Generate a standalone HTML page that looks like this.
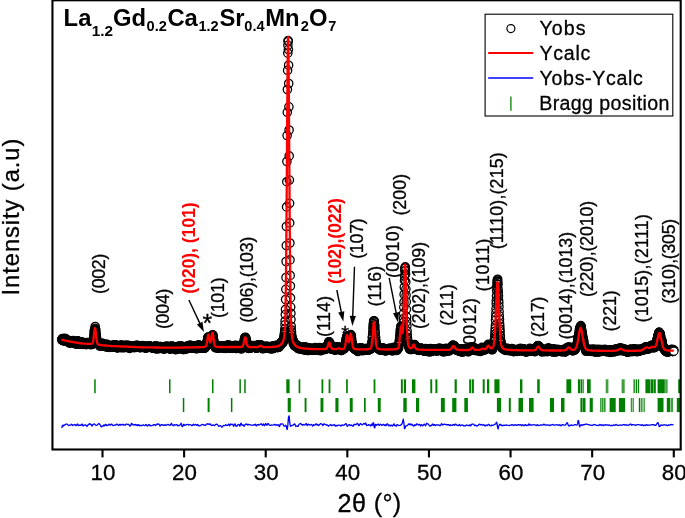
<!DOCTYPE html>
<html lang="en">
<head>
<meta charset="utf-8">
<title>XRD Rietveld refinement</title>
<style>
html,body{margin:0;padding:0;background:#fff;}
body{width:685px;height:518px;overflow:hidden;}
svg{display:block;}
text{font-family:"Liberation Sans",sans-serif;fill:#000;stroke:#000;stroke-width:0.3px;}
.nb{stroke:none;}
.pk text{font-size:17.8px;}
.pk text.r{fill:#f00;font-weight:bold;stroke:none;}
.xt text{font-size:22.3px;text-anchor:middle;letter-spacing:0.1px;}
.lg text{font-size:19.6px;}
</style>
</head>
<body>
<svg width="685" height="518" viewBox="0 0 685 518">
<defs>
<marker id="c" markerWidth="12" markerHeight="12" refX="6" refY="6" markerUnits="userSpaceOnUse" overflow="visible"><circle cx="6" cy="6" r="4.15" fill="none" stroke="#000" stroke-width="1.3"/></marker>
</defs>
<rect x="0" y="0" width="685" height="518" fill="#fff"/>
<!-- observed data -->
<polyline fill="none" stroke="none" marker-start="url(#c)" marker-mid="url(#c)" marker-end="url(#c)" points="61.7,339.6 61.9,339.8 62.0,340.0 62.2,339.1 62.3,338.8 62.5,338.5 62.7,340.0 62.8,339.4 63.0,340.4 63.2,340.5 63.3,339.5 63.5,340.8 63.7,340.7 63.8,340.7 64.0,339.4 64.1,339.6 64.3,339.3 64.5,339.1 64.6,338.2 64.8,339.2 65.0,338.9 65.1,339.6 65.3,339.6 65.4,340.9 65.6,339.8 65.8,338.7 65.9,339.6 66.1,339.9 66.3,340.0 66.4,340.1 66.6,340.0 66.8,339.6 66.9,340.5 67.1,340.3 67.2,340.3 67.4,340.8 67.6,341.5 67.7,340.7 67.9,340.5 68.1,341.6 68.2,340.5 68.4,341.1 68.6,341.6 68.7,341.5 68.9,341.7 69.0,341.4 69.2,341.4 69.4,341.1 69.5,343.1 69.7,342.0 69.9,342.5 70.0,342.0 70.2,340.7 70.3,342.3 70.5,342.0 70.7,342.2 70.8,342.4 71.0,342.6 71.2,342.5 71.3,341.4 71.5,342.5 71.7,341.1 71.8,341.2 72.0,342.1 72.1,342.1 72.3,341.9 72.5,341.2 72.6,342.0 72.8,342.5 73.0,341.5 73.1,340.5 73.3,341.1 73.4,341.4 73.6,342.1 73.8,342.9 73.9,343.0 74.1,342.2 74.3,342.7 74.4,342.6 74.6,342.2 74.8,342.6 74.9,343.6 75.1,342.4 75.2,342.5 75.4,342.0 75.6,342.1 75.7,341.6 75.9,342.6 76.1,343.5 76.2,344.1 76.4,343.8 76.5,343.5 76.7,343.1 76.9,343.0 77.0,342.7 77.2,343.3 77.4,341.9 77.5,342.2 77.7,341.1 77.9,340.9 78.0,341.2 78.2,342.0 78.3,342.4 78.5,343.5 78.7,343.3 78.8,343.6 79.0,343.4 79.2,343.6 79.3,343.2 79.5,344.1 79.6,343.3 79.8,343.2 80.0,343.5 80.1,342.2 80.3,342.5 80.5,342.8 80.6,343.4 80.8,343.0 81.0,343.4 81.1,343.8 81.3,344.1 81.4,343.1 81.6,343.0 81.8,342.3 81.9,342.0 82.1,342.5 82.3,342.3 82.4,342.7 82.6,343.4 82.8,343.3 82.9,342.8 83.1,343.6 83.2,344.3 83.4,344.1 83.6,344.4 83.7,343.6 83.9,343.9 84.1,343.3 84.2,343.4 84.4,344.2 84.5,343.0 84.7,344.1 84.9,343.0 85.0,342.7 85.2,343.7 85.4,343.6 85.5,343.9 85.7,343.2 85.9,344.3 86.0,343.2 86.2,344.7 86.3,343.3 86.5,343.4 86.7,342.9 86.8,342.9 87.0,342.5 87.2,343.9 87.3,343.3 87.5,343.5 87.6,343.4 87.8,344.1 88.0,344.1 88.1,343.2 88.3,342.9 88.5,343.4 88.6,342.6 88.8,343.2 89.0,343.9 89.1,343.1 89.3,344.4 89.4,343.4 89.6,344.4 89.8,344.0 89.9,343.1 90.1,343.4 90.3,343.1 90.4,343.7 90.6,344.4 90.7,343.4 90.9,344.0 91.1,343.3 91.2,343.3 91.4,342.9 91.6,344.7 91.7,344.1 91.9,344.1 92.1,343.8 92.2,344.3 92.4,342.4 92.5,343.0 92.7,343.6 92.9,341.9 93.0,341.7 93.2,341.6 93.4,339.8 93.5,338.9 93.7,338.0 93.8,336.4 94.0,334.3 94.2,332.5 94.3,330.9 94.5,330.3 94.7,329.5 94.8,329.3 95.0,328.3 95.2,326.5 95.3,329.1 95.5,329.5 95.6,329.5 95.8,330.9 96.0,333.1 96.1,334.6 96.3,336.0 96.5,337.5 96.6,338.7 96.8,340.7 97.0,341.4 97.1,341.7 97.3,341.8 97.4,343.1 97.6,342.7 97.8,342.9 97.9,342.9 98.1,343.6 98.3,344.2 98.4,343.9 98.6,344.3 98.7,344.0 98.9,343.9 99.1,344.2 99.2,344.4 99.4,344.2 99.6,345.2 99.7,346.1 99.9,345.0 100.1,345.2 100.2,345.8 100.4,344.4 100.5,344.3 100.7,344.1 100.9,345.0 101.0,345.2 101.2,345.7 101.4,345.6 101.5,345.8 101.7,344.3 101.8,344.7 102.0,343.9 102.2,343.2 102.3,343.3 102.5,344.4 102.7,343.7 102.8,345.0 103.0,344.8 103.2,345.0 103.3,345.1 103.5,344.5 103.6,345.5 103.8,345.9 104.0,345.6 104.1,346.1 104.3,345.7 104.5,345.6 104.6,345.1 104.8,345.4 104.9,345.2 105.1,345.0 105.3,345.4 105.4,345.4 105.6,344.4 105.8,344.6 105.9,345.9 106.1,346.2 106.3,346.4 106.4,347.1 106.6,346.1 106.7,345.5 106.9,345.4 107.1,344.8 107.2,344.4 107.4,345.2 107.6,345.5 107.7,345.8 107.9,345.8 108.0,346.0 108.2,346.8 108.4,346.5 108.5,346.2 108.7,345.6 108.9,345.7 109.0,345.3 109.2,346.4 109.4,346.7 109.5,346.9 109.7,346.4 109.8,347.4 110.0,345.7 110.2,345.8 110.3,346.4 110.5,345.9 110.7,346.5 110.8,347.2 111.0,346.6 111.2,346.5 111.3,346.5 111.5,346.3 111.6,346.7 111.8,346.1 112.0,345.6 112.1,345.9 112.3,346.2 112.5,346.0 112.6,346.4 112.8,345.2 112.9,346.0 113.1,346.6 113.3,346.0 113.4,345.5 113.6,345.1 113.8,346.2 113.9,346.0 114.1,347.0 114.3,346.0 114.4,346.9 114.6,347.0 114.7,344.8 114.9,346.1 115.1,346.3 115.2,345.9 115.4,346.2 115.6,346.4 115.7,346.9 115.9,344.9 116.0,345.9 116.2,346.7 116.4,346.1 116.5,346.3 116.7,346.7 116.9,346.6 117.0,347.2 117.2,347.8 117.4,347.7 117.5,347.9 117.7,346.7 117.8,346.5 118.0,346.8 118.2,345.8 118.3,345.9 118.5,346.3 118.7,346.1 118.8,346.4 119.0,345.6 119.1,346.9 119.3,347.1 119.5,346.8 119.6,346.2 119.8,346.8 120.0,346.8 120.1,346.0 120.3,347.2 120.5,347.5 120.6,347.3 120.8,347.5 120.9,347.3 121.1,345.4 121.3,345.3 121.4,345.1 121.6,346.3 121.8,345.6 121.9,346.4 122.1,346.5 122.2,346.3 122.4,345.8 122.6,345.9 122.7,347.8 122.9,346.9 123.1,347.4 123.2,346.8 123.4,346.3 123.6,346.5 123.7,346.1 123.9,346.5 124.0,345.5 124.2,346.9 124.4,347.0 124.5,346.9 124.7,347.4 124.9,347.3 125.0,347.5 125.2,345.5 125.4,346.2 125.5,345.4 125.7,346.5 125.8,345.8 126.0,346.3 126.2,346.6 126.3,347.0 126.5,346.7 126.7,346.2 126.8,346.4 127.0,345.4 127.1,346.9 127.3,347.5 127.5,346.5 127.6,346.9 127.8,345.8 128.0,345.7 128.1,345.4 128.3,346.5 128.5,347.1 128.6,347.2 128.8,347.0 128.9,347.8 129.1,346.6 129.3,346.7 129.4,346.4 129.6,348.4 129.8,346.3 129.9,347.6 130.1,347.3 130.2,346.8 130.4,346.1 130.6,346.3 130.7,346.9 130.9,347.6 131.1,346.5 131.2,346.9 131.4,346.8 131.6,346.9 131.7,346.8 131.9,346.1 132.0,345.7 132.2,346.4 132.4,346.7 132.5,346.3 132.7,346.6 132.9,347.3 133.0,346.0 133.2,347.0 133.3,346.1 133.5,346.4 133.7,346.7 133.8,347.7 134.0,346.6 134.2,347.1 134.3,346.4 134.5,347.3 134.7,346.6 134.8,347.2 135.0,346.6 135.1,347.0 135.3,347.5 135.5,346.8 135.6,347.2 135.8,347.3 136.0,346.6 136.1,346.4 136.3,347.1 136.4,346.9 136.6,346.8 136.8,345.2 136.9,345.3 137.1,345.9 137.3,345.9 137.4,346.7 137.6,346.8 137.8,346.3 137.9,346.2 138.1,346.6 138.2,346.3 138.4,346.9 138.6,346.9 138.7,345.9 138.9,346.7 139.1,347.3 139.2,345.9 139.4,346.7 139.6,346.3 139.7,346.7 139.9,347.7 140.0,347.6 140.2,346.8 140.4,346.5 140.5,347.3 140.7,346.2 140.9,346.0 141.0,346.8 141.2,346.5 141.3,345.8 141.5,347.2 141.7,346.9 141.8,346.6 142.0,347.5 142.2,345.5 142.3,346.1 142.5,346.0 142.7,346.6 142.8,346.8 143.0,346.5 143.1,346.0 143.3,346.2 143.5,346.8 143.6,347.0 143.8,347.5 144.0,347.0 144.1,346.5 144.3,346.4 144.4,346.4 144.6,346.1 144.8,346.8 144.9,347.7 145.1,346.7 145.3,347.0 145.4,347.9 145.6,347.6 145.8,347.7 145.9,347.4 146.1,348.1 146.2,347.7 146.4,346.7 146.6,346.8 146.7,347.3 146.9,347.3 147.1,346.4 147.2,347.3 147.4,347.3 147.5,347.7 147.7,346.8 147.9,346.6 148.0,346.5 148.2,346.0 148.4,347.0 148.5,346.6 148.7,347.2 148.9,346.3 149.0,346.3 149.2,346.0 149.3,345.8 149.5,346.6 149.7,346.5 149.8,347.0 150.0,346.3 150.2,347.3 150.3,346.2 150.5,346.6 150.6,346.5 150.8,347.1 151.0,346.7 151.1,346.9 151.3,347.5 151.5,347.3 151.6,347.3 151.8,347.9 152.0,347.0 152.1,347.0 152.3,347.4 152.4,347.2 152.6,347.5 152.8,348.1 152.9,347.8 153.1,347.4 153.3,347.0 153.4,347.5 153.6,347.3 153.8,348.0 153.9,347.5 154.1,347.7 154.2,348.1 154.4,347.6 154.6,347.8 154.7,348.4 154.9,347.3 155.1,347.0 155.2,346.8 155.4,345.7 155.5,346.3 155.7,347.0 155.9,346.9 156.0,347.0 156.2,348.1 156.4,348.6 156.5,348.4 156.7,349.0 156.9,348.1 157.0,346.6 157.2,346.6 157.3,346.4 157.5,346.9 157.7,348.1 157.8,348.0 158.0,347.4 158.2,347.9 158.3,347.6 158.5,347.3 158.6,347.6 158.8,347.8 159.0,348.7 159.1,347.0 159.3,347.5 159.5,347.6 159.6,347.0 159.8,347.0 160.0,346.6 160.1,347.2 160.3,347.2 160.4,346.7 160.6,346.5 160.8,346.9 160.9,346.9 161.1,347.1 161.3,347.0 161.4,347.8 161.6,347.4 161.7,347.1 161.9,346.9 162.1,346.8 162.2,348.3 162.4,347.1 162.6,348.2 162.7,348.8 162.9,347.8 163.1,348.3 163.2,347.4 163.4,347.3 163.5,347.9 163.7,348.5 163.9,348.6 164.0,348.6 164.2,348.9 164.4,348.7 164.5,347.7 164.7,348.8 164.9,347.9 165.0,347.7 165.2,348.3 165.3,348.2 165.5,347.8 165.7,347.9 165.8,347.8 166.0,346.9 166.2,347.1 166.3,346.0 166.5,347.2 166.6,347.2 166.8,348.2 167.0,347.8 167.1,347.9 167.3,347.9 167.5,347.6 167.6,347.8 167.8,347.9 168.0,347.5 168.1,346.4 168.3,347.0 168.4,347.7 168.6,347.6 168.8,348.0 168.9,347.0 169.1,347.8 169.3,347.1 169.4,347.6 169.6,348.0 169.7,348.8 169.9,348.5 170.1,349.0 170.2,348.6 170.4,348.6 170.6,348.8 170.7,347.8 170.9,347.1 171.1,347.5 171.2,347.3 171.4,347.6 171.5,347.2 171.7,347.2 171.9,345.8 172.0,346.7 172.2,347.5 172.4,347.9 172.5,347.7 172.7,347.7 172.8,348.4 173.0,348.1 173.2,347.0 173.3,347.0 173.5,348.2 173.7,347.1 173.8,347.9 174.0,348.4 174.2,347.0 174.3,347.2 174.5,346.8 174.6,347.2 174.8,347.8 175.0,348.6 175.1,348.4 175.3,348.5 175.5,349.7 175.6,348.3 175.8,347.9 175.9,349.5 176.1,348.0 176.3,347.8 176.4,348.0 176.6,348.1 176.8,347.7 176.9,349.2 177.1,348.3 177.3,348.1 177.4,347.8 177.6,347.0 177.7,346.9 177.9,347.5 178.1,348.9 178.2,347.6 178.4,347.7 178.6,346.4 178.7,346.8 178.9,346.2 179.1,347.5 179.2,346.3 179.4,346.9 179.5,347.0 179.7,347.2 179.9,347.4 180.0,349.0 180.2,347.3 180.4,347.1 180.5,346.9 180.7,346.0 180.8,346.5 181.0,346.8 181.2,346.8 181.3,346.6 181.5,346.8 181.7,347.1 181.8,346.3 182.0,347.2 182.2,346.9 182.3,346.5 182.5,346.7 182.6,346.6 182.8,347.5 183.0,348.4 183.1,347.3 183.3,349.0 183.5,349.7 183.6,349.1 183.8,348.8 183.9,347.9 184.1,346.9 184.3,347.2 184.4,347.6 184.6,347.7 184.8,346.7 184.9,346.8 185.1,347.7 185.3,346.8 185.4,347.4 185.6,348.7 185.7,349.2 185.9,347.3 186.1,348.2 186.2,347.4 186.4,347.2 186.6,346.4 186.7,348.5 186.9,347.8 187.0,348.8 187.2,347.7 187.4,348.0 187.5,346.2 187.7,347.7 187.9,346.7 188.0,347.1 188.2,345.9 188.4,348.2 188.5,348.0 188.7,347.6 188.8,347.7 189.0,347.5 189.2,347.5 189.3,347.3 189.5,347.3 189.7,346.4 189.8,346.0 190.0,345.7 190.1,345.1 190.3,346.5 190.5,347.9 190.6,347.9 190.8,347.1 191.0,347.4 191.1,346.0 191.3,346.0 191.5,346.5 191.6,346.9 191.8,345.9 191.9,347.0 192.1,347.8 192.3,346.7 192.4,347.4 192.6,347.1 192.8,346.7 192.9,348.2 193.1,348.0 193.3,348.1 193.4,347.7 193.6,347.4 193.7,347.6 193.9,347.8 194.1,346.9 194.2,345.8 194.4,347.9 194.6,347.7 194.7,347.5 194.9,346.7 195.0,348.0 195.2,346.5 195.4,346.5 195.5,345.7 195.7,346.6 195.9,346.8 196.0,346.9 196.2,347.2 196.4,347.0 196.5,348.9 196.7,347.3 196.8,347.6 197.0,347.7 197.2,346.9 197.3,346.8 197.5,347.0 197.7,346.7 197.8,347.6 198.0,346.3 198.1,346.6 198.3,345.6 198.5,344.9 198.6,345.5 198.8,346.0 199.0,346.0 199.1,346.6 199.3,345.4 199.5,346.3 199.6,346.1 199.8,347.6 199.9,346.9 200.1,347.2 200.3,346.6 200.4,347.1 200.6,346.3 200.8,347.2 200.9,346.0 201.1,347.9 201.2,347.7 201.4,348.3 201.6,348.0 201.7,347.3 201.9,347.6 202.1,348.3 202.2,347.8 202.4,347.6 202.6,347.9 202.7,347.3 202.9,347.5 203.0,347.3 203.2,346.8 203.4,347.6 203.5,345.8 203.7,346.8 203.9,348.2 204.0,347.5 204.2,346.6 204.3,348.2 204.5,348.0 204.7,347.3 204.8,348.0 205.0,347.4 205.2,347.6 205.3,347.2 205.5,346.7 205.7,346.4 205.8,346.7 206.0,345.7 206.1,346.2 206.3,345.6 206.5,345.4 206.6,344.0 206.8,342.9 207.0,342.1 207.1,342.2 207.3,341.7 207.5,340.3 207.6,339.3 207.8,339.3 207.9,337.4 208.1,337.6 208.3,337.0 208.4,337.8 208.6,338.7 208.8,338.3 208.9,340.0 209.1,339.6 209.2,340.4 209.4,341.2 209.6,343.4 209.7,342.8 209.9,342.6 210.1,343.3 210.2,344.1 210.4,343.0 210.6,343.0 210.7,343.7 210.9,342.0 211.0,342.7 211.2,341.7 211.4,339.3 211.5,338.6 211.7,337.2 211.9,336.4 212.0,336.1 212.2,336.5 212.3,335.5 212.5,335.5 212.7,334.7 212.8,336.0 213.0,335.5 213.2,337.4 213.3,339.4 213.5,340.1 213.7,340.2 213.8,341.6 214.0,342.4 214.1,343.6 214.3,343.4 214.5,344.6 214.6,345.2 214.8,346.5 215.0,346.2 215.1,346.8 215.3,346.3 215.4,347.8 215.6,346.7 215.8,346.3 215.9,346.4 216.1,347.0 216.3,346.7 216.4,346.0 216.6,347.0 216.8,346.4 216.9,346.9 217.1,347.1 217.2,347.4 217.4,348.0 217.6,347.5 217.7,348.2 217.9,348.0 218.1,347.8 218.2,347.3 218.4,347.9 218.5,346.1 218.7,346.4 218.9,347.3 219.0,347.0 219.2,347.7 219.4,347.5 219.5,347.1 219.7,347.2 219.9,347.7 220.0,346.6 220.2,346.7 220.3,345.9 220.5,346.3 220.7,346.9 220.8,347.1 221.0,346.3 221.2,346.3 221.3,346.1 221.5,346.2 221.7,345.7 221.8,346.2 222.0,345.8 222.1,346.4 222.3,347.8 222.5,348.0 222.6,347.0 222.8,347.0 223.0,348.1 223.1,347.2 223.3,347.0 223.4,347.5 223.6,347.2 223.8,347.1 223.9,347.3 224.1,346.7 224.3,347.0 224.4,346.8 224.6,346.6 224.8,346.6 224.9,347.4 225.1,346.7 225.2,348.1 225.4,348.2 225.6,348.2 225.7,348.4 225.9,347.8 226.1,348.1 226.2,346.9 226.4,346.8 226.5,346.9 226.7,347.5 226.9,346.8 227.0,345.4 227.2,345.8 227.4,345.5 227.5,346.1 227.7,346.2 227.9,347.8 228.0,345.5 228.2,346.5 228.3,346.1 228.5,345.1 228.7,345.0 228.8,345.7 229.0,346.1 229.2,347.0 229.3,346.0 229.5,347.6 229.6,346.4 229.8,347.5 230.0,346.9 230.1,348.2 230.3,347.8 230.5,348.1 230.6,347.4 230.8,347.1 231.0,347.2 231.1,347.4 231.3,348.0 231.4,346.8 231.6,347.0 231.8,347.6 231.9,346.5 232.1,346.9 232.3,347.3 232.4,347.4 232.6,346.1 232.7,347.0 232.9,347.5 233.1,347.9 233.2,347.5 233.4,347.5 233.6,346.9 233.7,346.7 233.9,346.7 234.1,346.6 234.2,347.9 234.4,347.2 234.5,345.9 234.7,346.7 234.9,346.8 235.0,346.4 235.2,345.5 235.4,345.4 235.5,346.5 235.7,346.1 235.9,347.4 236.0,347.8 236.2,346.9 236.3,348.5 236.5,346.9 236.7,347.0 236.8,347.0 237.0,346.9 237.2,346.8 237.3,346.5 237.5,345.9 237.6,347.0 237.8,345.9 238.0,346.3 238.1,345.5 238.3,346.4 238.5,347.2 238.6,347.5 238.8,346.8 239.0,346.4 239.1,346.8 239.3,345.8 239.4,346.2 239.6,346.5 239.8,346.1 239.9,346.9 240.1,346.6 240.3,346.3 240.4,348.2 240.6,348.5 240.7,348.1 240.9,347.6 241.1,348.8 241.2,348.4 241.4,348.0 241.6,348.8 241.7,347.4 241.9,346.7 242.1,346.3 242.2,344.7 242.4,345.5 242.5,346.0 242.7,345.8 242.9,345.3 243.0,345.1 243.2,345.0 243.4,344.1 243.5,344.5 243.7,344.1 243.8,343.3 244.0,341.8 244.2,341.8 244.3,340.0 244.5,339.0 244.7,338.3 244.8,337.6 245.0,337.9 245.2,337.7 245.3,337.9 245.5,338.0 245.6,337.3 245.8,338.1 246.0,339.8 246.1,340.1 246.3,341.9 246.5,341.0 246.6,341.3 246.8,342.7 246.9,343.7 247.1,344.4 247.3,344.5 247.4,345.7 247.6,346.7 247.8,346.7 247.9,346.3 248.1,347.4 248.3,348.4 248.4,348.3 248.6,346.7 248.7,347.8 248.9,347.8 249.1,347.3 249.2,346.9 249.4,347.2 249.6,346.8 249.7,346.3 249.9,346.6 250.1,348.3 250.2,346.9 250.4,347.5 250.5,348.2 250.7,347.7 250.9,346.3 251.0,347.5 251.2,347.0 251.4,346.7 251.5,346.9 251.7,346.5 251.8,346.3 252.0,346.7 252.2,346.9 252.3,347.0 252.5,347.1 252.7,346.9 252.8,346.8 253.0,346.4 253.2,346.3 253.3,346.2 253.5,345.6 253.6,346.7 253.8,346.6 254.0,346.9 254.1,346.2 254.3,346.8 254.5,346.9 254.6,346.9 254.8,346.1 254.9,347.0 255.1,346.1 255.3,346.7 255.4,345.5 255.6,346.5 255.8,347.7 255.9,347.2 256.1,347.5 256.3,348.2 256.4,347.6 256.6,348.3 256.7,347.3 256.9,347.8 257.1,347.6 257.2,347.5 257.4,347.3 257.6,346.4 257.7,347.5 257.9,345.7 258.0,345.1 258.2,344.8 258.4,346.9 258.5,346.5 258.7,346.5 258.9,346.6 259.0,346.0 259.2,347.0 259.4,345.8 259.5,346.8 259.7,346.4 259.8,345.6 260.0,346.4 260.2,345.6 260.3,345.1 260.5,345.2 260.7,344.7 260.8,345.8 261.0,345.3 261.1,345.6 261.3,346.9 261.5,346.0 261.6,346.8 261.8,347.0 262.0,346.6 262.1,346.7 262.3,347.3 262.5,347.5 262.6,348.5 262.8,348.2 262.9,348.8 263.1,347.4 263.3,347.6 263.4,347.5 263.6,346.4 263.8,346.7 263.9,347.1 264.1,347.3 264.3,347.0 264.4,347.8 264.6,348.1 264.7,348.0 264.9,347.5 265.1,348.1 265.2,347.7 265.4,346.8 265.6,347.1 265.7,346.5 265.9,346.3 266.0,346.9 266.2,346.8 266.4,346.7 266.5,347.7 266.7,347.8 266.9,347.0 267.0,346.9 267.2,347.5 267.4,347.0 267.5,346.3 267.7,346.9 267.8,346.6 268.0,346.8 268.2,347.1 268.3,346.7 268.5,346.7 268.7,347.6 268.8,348.1 269.0,346.8 269.1,348.1 269.3,347.5 269.5,348.7 269.6,347.2 269.8,347.6 270.0,347.9 270.1,347.8 270.3,347.7 270.5,348.2 270.6,347.5 270.8,347.6 270.9,347.9 271.1,347.2 271.3,348.8 271.4,348.6 271.6,348.6 271.8,347.0 271.9,347.3 272.1,346.6 272.2,346.1 272.4,347.1 272.6,347.0 272.7,347.1 272.9,348.2 273.1,348.3 273.2,348.6 273.4,347.8 273.6,348.1 273.7,347.7 273.9,346.1 274.0,346.4 274.2,346.7 274.4,346.7 274.5,347.5 274.7,346.9 274.9,346.1 275.0,346.2 275.2,347.2 275.3,346.7 275.5,346.6 275.7,347.0 275.8,345.7 276.0,347.0 276.2,346.6 276.3,346.5 276.5,345.2 276.7,345.4 276.8,345.7 277.0,346.1 277.1,346.8 277.3,346.6 277.5,347.7 277.6,347.4 277.8,346.3 278.0,346.3 278.1,347.3 278.3,346.0 278.5,347.0 278.6,347.3 278.8,346.6 278.9,347.2 279.1,346.7 279.3,346.1 279.4,345.4 279.6,345.1 279.8,345.5 279.9,345.2 280.1,345.1 280.2,345.3 280.4,344.7 280.6,345.3 280.7,343.5 280.9,343.7 281.1,343.7 281.2,342.4 281.4,343.4 281.6,343.1 281.7,341.7 281.9,341.7 282.0,341.4 282.2,342.2 282.4,342.5 282.5,342.3 282.7,342.9 282.9,342.2 283.0,342.3 283.2,340.7 283.3,340.1 283.5,340.5 283.7,339.8 283.8,337.5 284.0,338.2 284.2,336.3 284.3,334.6 284.5,332.9 284.7,331.5 284.8,329.1 285.0,324.7 285.1,321.0 285.3,314.6 285.5,309.4 285.6,299.5 285.8,289.3 286.0,277.5 286.1,261.5 286.3,245.6 286.4,226.5 286.6,206.9 286.8,181.7 286.9,161.5 287.1,135.6 287.3,112.3 287.4,89.5 287.6,70.3 287.8,53.2 287.9,45.3 288.1,40.6 288.2,41.4 288.4,49.6 288.6,65.2 288.7,83.5 288.9,106.8 289.1,130.0 289.2,155.9 289.4,180.1 289.6,203.3 289.7,222.9 289.9,243.0 290.0,259.9 290.2,275.4 290.4,286.0 290.5,297.9 290.7,307.1 290.9,313.4 291.0,319.6 291.2,326.2 291.3,329.9 291.5,332.0 291.7,334.9 291.8,337.4 292.0,337.2 292.2,338.6 292.3,339.0 292.5,338.8 292.7,339.9 292.8,340.0 293.0,340.9 293.1,341.0 293.3,343.4 293.5,343.5 293.6,343.3 293.8,342.5 294.0,343.7 294.1,344.8 294.3,345.2 294.4,345.5 294.6,345.4 294.8,345.7 294.9,345.3 295.1,344.7 295.3,345.5 295.4,346.2 295.6,346.6 295.8,345.3 295.9,346.3 296.1,346.0 296.2,344.8 296.4,345.0 296.6,345.1 296.7,346.3 296.9,346.0 297.1,345.5 297.2,346.2 297.4,345.3 297.5,346.5 297.7,347.4 297.9,347.7 298.0,348.1 298.2,348.7 298.4,348.3 298.5,347.9 298.7,347.2 298.9,346.8 299.0,347.3 299.2,348.7 299.3,348.4 299.5,348.2 299.7,348.2 299.8,347.5 300.0,347.1 300.2,347.9 300.3,347.6 300.5,347.6 300.6,347.6 300.8,348.6 301.0,349.3 301.1,348.8 301.3,348.9 301.5,349.0 301.6,347.7 301.8,348.3 302.0,348.0 302.1,347.7 302.3,348.6 302.4,348.2 302.6,347.4 302.8,347.8 302.9,347.4 303.1,348.1 303.3,348.5 303.4,348.6 303.6,348.6 303.8,347.1 303.9,348.4 304.1,347.6 304.2,349.3 304.4,349.3 304.6,349.7 304.7,350.3 304.9,348.4 305.1,348.3 305.2,347.8 305.4,346.9 305.5,348.0 305.7,348.1 305.9,348.0 306.0,348.1 306.2,349.7 306.4,348.6 306.5,348.0 306.7,348.9 306.9,349.5 307.0,350.2 307.2,349.8 307.3,349.4 307.5,350.4 307.7,349.4 307.8,349.0 308.0,349.8 308.2,349.9 308.3,349.9 308.5,350.5 308.6,349.6 308.8,349.4 309.0,349.1 309.1,349.6 309.3,347.9 309.5,348.6 309.6,348.7 309.8,348.2 310.0,348.6 310.1,349.3 310.3,349.3 310.4,349.9 310.6,349.9 310.8,350.3 310.9,349.4 311.1,349.4 311.3,349.7 311.4,348.4 311.6,349.9 311.7,349.5 311.9,349.4 312.1,350.1 312.2,349.7 312.4,349.6 312.6,349.9 312.7,349.0 312.9,349.6 313.1,349.4 313.2,348.8 313.4,349.4 313.5,348.7 313.7,349.5 313.9,349.8 314.0,350.2 314.2,349.6 314.4,348.9 314.5,349.6 314.7,348.1 314.8,348.2 315.0,349.1 315.2,347.5 315.3,348.8 315.5,348.9 315.7,348.5 315.8,348.8 316.0,349.5 316.2,349.1 316.3,350.2 316.5,350.3 316.6,348.9 316.8,349.4 317.0,349.4 317.1,348.9 317.3,349.2 317.5,349.7 317.6,349.1 317.8,348.8 318.0,349.2 318.1,349.4 318.3,348.5 318.4,349.0 318.6,349.8 318.8,349.6 318.9,348.4 319.1,348.8 319.3,348.8 319.4,347.6 319.6,348.3 319.7,348.2 319.9,348.8 320.1,348.2 320.2,348.9 320.4,349.1 320.6,350.8 320.7,350.3 320.9,349.2 321.1,350.3 321.2,350.4 321.4,349.2 321.5,349.0 321.7,349.4 321.9,349.0 322.0,348.4 322.2,348.7 322.4,348.3 322.5,347.8 322.7,348.0 322.8,348.5 323.0,348.3 323.2,348.2 323.3,349.3 323.5,348.9 323.7,349.0 323.8,348.3 324.0,349.3 324.2,348.5 324.3,349.0 324.5,348.9 324.6,349.4 324.8,349.5 325.0,349.2 325.1,348.1 325.3,348.4 325.5,348.1 325.6,348.6 325.8,346.6 325.9,346.8 326.1,347.7 326.3,347.7 326.4,348.1 326.6,348.4 326.8,348.9 326.9,347.4 327.1,347.8 327.3,347.0 327.4,347.2 327.6,347.1 327.7,346.0 327.9,345.8 328.1,344.8 328.2,345.0 328.4,344.0 328.6,343.2 328.7,342.9 328.9,341.8 329.0,341.7 329.2,342.4 329.4,342.6 329.5,343.8 329.7,343.0 329.9,343.6 330.0,343.5 330.2,345.3 330.4,345.0 330.5,345.2 330.7,347.1 330.8,347.6 331.0,347.5 331.2,348.7 331.3,349.0 331.5,348.1 331.7,348.2 331.8,348.9 332.0,349.0 332.2,348.5 332.3,347.8 332.5,348.0 332.6,348.7 332.8,347.9 333.0,348.6 333.1,348.0 333.3,349.4 333.5,349.0 333.6,348.9 333.8,348.9 333.9,348.4 334.1,348.6 334.3,349.0 334.4,348.4 334.6,349.5 334.8,348.6 334.9,348.9 335.1,350.3 335.3,349.6 335.4,349.8 335.6,349.2 335.7,347.5 335.9,348.3 336.1,347.4 336.2,348.2 336.4,347.2 336.6,347.5 336.7,348.2 336.9,348.5 337.0,348.0 337.2,347.3 337.4,348.0 337.5,347.1 337.7,347.1 337.9,347.0 338.0,347.4 338.2,348.2 338.4,347.9 338.5,348.5 338.7,348.5 338.8,347.4 339.0,347.6 339.2,347.3 339.3,347.8 339.5,348.4 339.7,347.5 339.8,348.6 340.0,349.5 340.1,348.9 340.3,348.8 340.5,349.7 340.6,349.7 340.8,350.3 341.0,350.0 341.1,350.4 341.3,349.9 341.5,350.5 341.6,348.3 341.8,348.8 341.9,349.3 342.1,347.9 342.3,349.2 342.4,348.6 342.6,349.3 342.8,348.1 342.9,348.6 343.1,348.8 343.2,348.4 343.4,348.1 343.6,349.2 343.7,348.4 343.9,347.5 344.1,348.6 344.2,347.9 344.4,348.6 344.6,348.3 344.7,347.2 344.9,347.1 345.0,346.7 345.2,346.2 345.4,345.2 345.5,342.4 345.7,342.9 345.9,342.2 346.0,339.3 346.2,339.8 346.4,339.0 346.5,337.7 346.7,338.5 346.8,336.4 347.0,336.4 347.2,337.5 347.3,337.4 347.5,338.4 347.7,338.7 347.8,339.1 348.0,339.5 348.1,338.8 348.3,341.6 348.5,342.6 348.6,343.0 348.8,343.6 349.0,345.4 349.1,343.3 349.3,342.1 349.5,342.1 349.6,341.3 349.8,339.4 349.9,338.3 350.1,338.5 350.3,337.0 350.4,335.0 350.6,335.4 350.8,335.5 350.9,334.6 351.1,335.7 351.2,337.1 351.4,337.4 351.6,338.7 351.7,340.9 351.9,342.1 352.1,342.3 352.2,344.3 352.4,344.7 352.6,344.8 352.7,346.6 352.9,346.9 353.0,346.5 353.2,347.0 353.4,347.7 353.5,347.2 353.7,347.8 353.9,348.4 354.0,347.5 354.2,348.1 354.3,347.1 354.5,347.5 354.7,349.0 354.8,349.2 355.0,348.3 355.2,348.3 355.3,348.3 355.5,348.6 355.7,349.5 355.8,348.5 356.0,349.4 356.1,349.4 356.3,350.2 356.5,348.8 356.6,350.1 356.8,349.0 357.0,350.6 357.1,349.4 357.3,348.8 357.4,350.2 357.6,350.4 357.8,349.3 357.9,351.5 358.1,350.1 358.3,350.1 358.4,350.6 358.6,348.7 358.8,349.8 358.9,349.6 359.1,349.7 359.2,348.8 359.4,349.8 359.6,348.9 359.7,348.4 359.9,348.9 360.1,348.2 360.2,349.3 360.4,347.9 360.6,348.3 360.7,348.5 360.9,348.8 361.0,349.5 361.2,349.5 361.4,349.0 361.5,348.4 361.7,348.7 361.9,349.0 362.0,348.7 362.2,348.3 362.3,348.3 362.5,350.7 362.7,350.5 362.8,350.3 363.0,350.1 363.2,349.7 363.3,349.3 363.5,349.5 363.7,349.6 363.8,350.0 364.0,349.6 364.1,350.2 364.3,350.4 364.5,350.1 364.6,350.1 364.8,348.9 365.0,349.9 365.1,349.6 365.3,349.5 365.4,349.1 365.6,350.3 365.8,349.5 365.9,350.1 366.1,349.8 366.3,350.1 366.4,349.1 366.6,348.4 366.8,349.1 366.9,348.9 367.1,349.5 367.2,349.6 367.4,349.6 367.6,350.2 367.7,350.0 367.9,350.3 368.1,349.9 368.2,350.0 368.4,350.1 368.5,349.7 368.7,349.0 368.9,348.8 369.0,348.1 369.2,349.1 369.4,348.6 369.5,348.2 369.7,347.8 369.9,348.9 370.0,348.9 370.2,348.2 370.3,348.3 370.5,349.3 370.7,347.9 370.8,348.6 371.0,347.9 371.2,347.5 371.3,347.3 371.5,345.9 371.6,344.9 371.8,343.6 372.0,342.3 372.1,341.4 372.3,337.8 372.5,336.9 372.6,334.7 372.8,332.1 373.0,329.0 373.1,327.0 373.3,325.1 373.4,323.6 373.6,321.4 373.8,321.0 373.9,321.8 374.1,320.8 374.3,321.4 374.4,322.1 374.6,325.0 374.8,326.0 374.9,328.9 375.1,331.8 375.2,333.2 375.4,336.9 375.6,337.7 375.7,340.3 375.9,341.4 376.1,342.9 376.2,344.1 376.4,346.1 376.5,345.8 376.7,346.6 376.9,346.6 377.0,346.5 377.2,346.8 377.4,347.4 377.5,347.6 377.7,348.5 377.9,347.2 378.0,348.2 378.2,347.7 378.3,348.1 378.5,348.5 378.7,347.8 378.8,348.0 379.0,348.3 379.2,348.7 379.3,348.5 379.5,348.5 379.6,349.8 379.8,348.9 380.0,348.8 380.1,350.1 380.3,349.1 380.5,348.8 380.6,349.7 380.8,349.1 381.0,349.6 381.1,350.2 381.3,349.2 381.4,349.8 381.6,350.0 381.8,349.5 381.9,349.0 382.1,349.9 382.3,349.3 382.4,349.0 382.6,348.5 382.7,348.4 382.9,347.7 383.1,348.5 383.2,349.0 383.4,349.3 383.6,349.6 383.7,349.5 383.9,350.3 384.1,350.3 384.2,349.6 384.4,350.3 384.5,350.6 384.7,350.2 384.9,350.5 385.0,350.0 385.2,349.6 385.4,350.2 385.5,350.1 385.7,350.8 385.8,350.6 386.0,350.8 386.2,350.0 386.3,349.1 386.5,349.3 386.7,350.3 386.8,349.6 387.0,349.6 387.2,349.4 387.3,349.3 387.5,348.7 387.6,348.7 387.8,349.6 388.0,349.6 388.1,349.4 388.3,349.5 388.5,350.0 388.6,349.2 388.8,349.5 389.0,349.0 389.1,348.8 389.3,348.6 389.4,348.3 389.6,348.5 389.8,348.6 389.9,349.6 390.1,349.2 390.3,349.4 390.4,349.8 390.6,350.1 390.7,349.7 390.9,349.4 391.1,348.7 391.2,348.3 391.4,348.6 391.6,350.1 391.7,349.5 391.9,350.6 392.1,350.7 392.2,349.5 392.4,350.3 392.5,349.7 392.7,349.8 392.9,350.8 393.0,349.7 393.2,348.5 393.4,349.6 393.5,348.8 393.7,347.4 393.8,348.0 394.0,349.9 394.2,348.4 394.3,349.4 394.5,349.7 394.7,349.6 394.8,349.4 395.0,349.2 395.2,348.0 395.3,348.0 395.5,348.3 395.6,348.6 395.8,350.2 396.0,350.1 396.1,350.5 396.3,350.1 396.5,350.0 396.6,349.5 396.8,349.7 396.9,349.1 397.1,349.4 397.3,350.1 397.4,348.6 397.6,348.8 397.8,347.7 397.9,347.7 398.1,347.7 398.3,347.8 398.4,348.3 398.6,347.8 398.7,345.1 398.9,344.6 399.1,343.3 399.2,342.1 399.4,340.6 399.6,339.4 399.7,337.6 399.9,335.6 400.1,333.7 400.2,332.0 400.4,329.6 400.5,329.8 400.7,328.1 400.9,326.5 401.0,326.5 401.2,327.1 401.4,326.9 401.5,327.4 401.7,331.1 401.8,331.2 402.0,332.0 402.2,334.3 402.3,334.1 402.5,334.3 402.7,333.7 402.8,332.3 403.0,329.7 403.2,326.6 403.3,322.5 403.5,318.6 403.6,313.6 403.8,307.3 404.0,302.2 404.1,294.4 404.3,287.2 404.5,280.4 404.6,276.2 404.8,270.8 404.9,268.3 405.1,267.8 405.3,266.8 405.4,270.5 405.6,274.1 405.8,281.9 405.9,289.1 406.1,295.3 406.3,301.8 406.4,309.3 406.6,316.8 406.7,321.6 406.9,325.7 407.1,330.9 407.2,334.3 407.4,337.3 407.6,339.3 407.7,341.0 407.9,343.2 408.0,343.8 408.2,344.6 408.4,346.1 408.5,345.9 408.7,346.7 408.9,346.6 409.0,347.2 409.2,345.8 409.4,348.0 409.5,348.5 409.7,349.4 409.8,348.4 410.0,347.3 410.2,348.9 410.3,348.2 410.5,348.2 410.7,348.3 410.8,349.2 411.0,349.2 411.1,349.4 411.3,347.8 411.5,349.5 411.6,347.4 411.8,347.6 412.0,346.8 412.1,347.6 412.3,347.3 412.5,347.6 412.6,347.0 412.8,346.3 412.9,346.8 413.1,345.5 413.3,346.4 413.4,346.2 413.6,345.7 413.8,345.0 413.9,345.5 414.1,345.7 414.3,345.5 414.4,344.8 414.6,345.1 414.7,344.6 414.9,345.3 415.1,346.2 415.2,346.3 415.4,347.6 415.6,348.4 415.7,348.6 415.9,348.5 416.0,349.1 416.2,348.3 416.4,348.2 416.5,348.5 416.7,347.8 416.9,349.0 417.0,348.2 417.2,349.1 417.4,348.8 417.5,349.8 417.7,349.9 417.8,349.4 418.0,350.2 418.2,349.4 418.3,348.5 418.5,348.5 418.7,348.7 418.8,349.1 419.0,349.1 419.1,348.8 419.3,349.5 419.5,349.8 419.6,350.4 419.8,349.8 420.0,349.8 420.1,349.7 420.3,349.0 420.5,348.8 420.6,348.7 420.8,347.9 420.9,349.9 421.1,349.7 421.3,350.0 421.4,350.1 421.6,350.3 421.8,350.1 421.9,349.3 422.1,348.8 422.2,349.9 422.4,348.8 422.6,348.7 422.7,349.6 422.9,349.5 423.1,349.3 423.2,349.8 423.4,350.2 423.6,349.9 423.7,350.2 423.9,349.6 424.0,350.3 424.2,351.0 424.4,351.1 424.5,351.1 424.7,349.5 424.9,350.1 425.0,349.6 425.2,349.5 425.3,348.6 425.5,350.1 425.7,349.7 425.8,348.9 426.0,349.4 426.2,349.0 426.3,348.8 426.5,349.2 426.7,349.7 426.8,349.1 427.0,349.1 427.1,349.3 427.3,349.4 427.5,350.5 427.6,349.8 427.8,351.2 428.0,350.9 428.1,350.1 428.3,349.8 428.5,350.5 428.6,350.5 428.8,350.1 428.9,350.7 429.1,352.0 429.3,350.4 429.4,350.6 429.6,350.7 429.8,350.4 429.9,349.9 430.1,349.5 430.2,350.4 430.4,349.6 430.6,348.6 430.7,349.7 430.9,348.7 431.1,350.2 431.2,350.4 431.4,351.6 431.6,351.3 431.7,351.2 431.9,350.3 432.0,350.3 432.2,349.5 432.4,350.5 432.5,349.1 432.7,349.6 432.9,349.7 433.0,349.7 433.2,349.6 433.3,350.1 433.5,349.5 433.7,349.5 433.8,350.5 434.0,349.0 434.2,350.2 434.3,349.8 434.5,350.1 434.7,350.4 434.8,350.3 435.0,350.0 435.1,349.6 435.3,349.6 435.5,349.7 435.6,350.0 435.8,350.4 436.0,350.2 436.1,349.6 436.3,349.4 436.4,350.8 436.6,350.5 436.8,350.2 436.9,350.8 437.1,351.0 437.3,350.1 437.4,350.5 437.6,349.9 437.8,348.9 437.9,349.3 438.1,349.4 438.2,350.0 438.4,349.3 438.6,348.8 438.7,348.6 438.9,348.4 439.1,348.5 439.2,349.4 439.4,350.3 439.5,349.9 439.7,350.4 439.9,350.2 440.0,349.8 440.2,350.2 440.4,348.2 440.5,349.6 440.7,349.9 440.9,350.7 441.0,349.8 441.2,350.6 441.3,350.6 441.5,350.1 441.7,349.4 441.8,350.2 442.0,349.6 442.2,350.3 442.3,349.9 442.5,350.9 442.7,350.0 442.8,350.1 443.0,350.7 443.1,350.2 443.3,350.8 443.5,352.0 443.6,350.9 443.8,351.3 444.0,350.3 444.1,350.6 444.3,350.5 444.4,348.9 444.6,350.0 444.8,350.0 444.9,348.6 445.1,348.8 445.3,348.8 445.4,349.2 445.6,348.9 445.8,349.6 445.9,351.1 446.1,351.2 446.2,351.4 446.4,350.7 446.6,350.2 446.7,348.4 446.9,349.2 447.1,348.7 447.2,348.9 447.4,350.6 447.5,350.8 447.7,349.9 447.9,350.9 448.0,349.8 448.2,349.8 448.4,350.1 448.5,349.5 448.7,350.0 448.9,350.1 449.0,351.0 449.2,350.4 449.3,349.5 449.5,349.1 449.7,349.0 449.8,349.8 450.0,349.5 450.2,350.2 450.3,349.8 450.5,349.6 450.6,349.4 450.8,349.1 451.0,349.3 451.1,349.1 451.3,348.9 451.5,348.2 451.6,347.3 451.8,347.3 452.0,347.7 452.1,346.0 452.3,346.9 452.4,346.9 452.6,345.8 452.8,345.4 452.9,346.1 453.1,345.3 453.3,345.4 453.4,346.0 453.6,346.4 453.7,345.5 453.9,347.6 454.1,345.8 454.2,346.3 454.4,346.1 454.6,347.1 454.7,346.5 454.9,347.1 455.1,347.9 455.2,347.7 455.4,347.7 455.5,348.8 455.7,348.3 455.9,349.9 456.0,349.3 456.2,349.8 456.4,350.2 456.5,349.5 456.7,348.9 456.9,348.6 457.0,349.0 457.2,349.4 457.3,349.6 457.5,349.1 457.7,349.6 457.8,349.1 458.0,349.5 458.2,349.4 458.3,349.4 458.5,349.3 458.6,350.3 458.8,349.8 459.0,349.6 459.1,351.2 459.3,350.5 459.5,350.8 459.6,350.8 459.8,351.5 460.0,350.4 460.1,350.9 460.3,350.2 460.4,349.7 460.6,349.3 460.8,349.7 460.9,349.4 461.1,348.9 461.3,349.4 461.4,348.9 461.6,349.0 461.7,349.2 461.9,350.0 462.1,349.9 462.2,350.0 462.4,352.3 462.6,350.1 462.7,351.1 462.9,351.2 463.1,350.7 463.2,350.0 463.4,350.5 463.5,350.0 463.7,349.4 463.9,349.5 464.0,349.1 464.2,348.8 464.4,349.3 464.5,348.8 464.7,349.7 464.8,349.3 465.0,349.7 465.2,349.6 465.3,349.4 465.5,348.9 465.7,348.7 465.8,349.4 466.0,350.0 466.2,350.4 466.3,350.5 466.5,350.2 466.6,350.1 466.8,349.6 467.0,349.5 467.1,350.1 467.3,350.0 467.5,349.9 467.6,349.7 467.8,351.0 467.9,350.4 468.1,350.2 468.3,351.9 468.4,351.0 468.6,350.5 468.8,350.3 468.9,349.8 469.1,350.8 469.3,348.7 469.4,348.7 469.6,349.5 469.7,349.4 469.9,350.5 470.1,348.9 470.2,349.4 470.4,349.8 470.6,349.8 470.7,349.4 470.9,348.7 471.1,349.2 471.2,347.7 471.4,347.3 471.5,347.2 471.7,347.1 471.9,347.4 472.0,346.8 472.2,346.9 472.4,347.1 472.5,348.1 472.7,347.3 472.8,348.7 473.0,348.1 473.2,350.3 473.3,349.5 473.5,349.5 473.7,349.0 473.8,348.3 474.0,349.8 474.2,349.4 474.3,349.4 474.5,349.2 474.6,350.0 474.8,348.4 475.0,348.8 475.1,348.1 475.3,348.5 475.5,349.8 475.6,349.7 475.8,349.9 475.9,350.7 476.1,350.1 476.3,350.4 476.4,348.7 476.6,350.1 476.8,350.1 476.9,349.5 477.1,349.1 477.3,350.4 477.4,349.1 477.6,349.3 477.7,349.8 477.9,349.5 478.1,350.1 478.2,349.9 478.4,350.1 478.6,350.8 478.7,350.6 478.9,349.1 479.0,350.2 479.2,349.9 479.4,349.0 479.5,350.0 479.7,349.2 479.9,351.1 480.0,350.0 480.2,351.5 480.4,350.7 480.5,349.8 480.7,350.1 480.8,350.4 481.0,350.6 481.2,350.8 481.3,349.4 481.5,350.1 481.7,350.0 481.8,348.6 482.0,347.4 482.1,347.9 482.3,348.6 482.5,348.8 482.6,348.3 482.8,349.4 483.0,350.4 483.1,349.1 483.3,349.6 483.5,348.8 483.6,348.4 483.8,349.3 483.9,348.7 484.1,349.7 484.3,350.2 484.4,348.7 484.6,349.3 484.8,349.4 484.9,348.4 485.1,347.9 485.3,349.5 485.4,348.1 485.6,348.3 485.7,348.6 485.9,349.0 486.1,347.9 486.2,348.6 486.4,348.4 486.6,347.7 486.7,346.6 486.9,347.1 487.0,346.4 487.2,346.8 487.4,347.2 487.5,347.6 487.7,346.8 487.9,345.6 488.0,346.4 488.2,344.3 488.4,345.4 488.5,346.4 488.7,345.8 488.8,345.0 489.0,345.3 489.2,346.5 489.3,346.4 489.5,346.4 489.7,346.9 489.8,346.8 490.0,346.6 490.1,348.2 490.3,347.9 490.5,347.3 490.6,347.0 490.8,348.1 491.0,348.0 491.1,349.0 491.3,348.9 491.5,349.7 491.6,348.5 491.8,347.4 491.9,347.1 492.1,347.9 492.3,348.6 492.4,349.8 492.6,348.4 492.8,347.7 492.9,348.2 493.1,347.5 493.2,346.1 493.4,345.8 493.6,344.9 493.7,344.6 493.9,344.6 494.1,344.2 494.2,341.4 494.4,340.0 494.6,338.6 494.7,336.7 494.9,334.2 495.0,331.3 495.2,328.4 495.4,325.4 495.5,320.3 495.7,316.7 495.9,312.8 496.0,308.8 496.2,303.8 496.3,300.6 496.5,295.9 496.7,290.9 496.8,287.0 497.0,283.9 497.2,281.7 497.3,280.0 497.5,281.1 497.7,279.2 497.8,282.3 498.0,284.6 498.1,289.2 498.3,292.5 498.5,295.8 498.6,300.2 498.8,302.9 499.0,306.8 499.1,311.6 499.3,315.8 499.5,319.6 499.6,323.4 499.8,326.2 499.9,329.0 500.1,331.6 500.3,335.3 500.4,337.8 500.6,340.4 500.8,341.5 500.9,342.8 501.1,343.2 501.2,345.4 501.4,346.6 501.6,346.5 501.7,346.8 501.9,348.1 502.1,346.2 502.2,346.2 502.4,346.5 502.6,348.1 502.7,347.7 502.9,348.1 503.0,347.7 503.2,348.3 503.4,348.9 503.5,348.2 503.7,348.1 503.9,348.8 504.0,348.4 504.2,349.0 504.3,349.9 504.5,349.0 504.7,349.4 504.8,349.1 505.0,348.9 505.2,348.4 505.3,349.2 505.5,348.8 505.7,348.8 505.8,349.2 506.0,349.6 506.1,349.9 506.3,350.5 506.5,348.8 506.6,350.3 506.8,350.3 507.0,349.8 507.1,349.5 507.3,349.8 507.4,349.4 507.6,348.2 507.8,349.0 507.9,348.6 508.1,348.9 508.3,350.3 508.4,350.0 508.6,349.1 508.8,350.1 508.9,350.5 509.1,349.5 509.2,350.4 509.4,349.8 509.6,349.2 509.7,349.1 509.9,349.7 510.1,349.2 510.2,349.5 510.4,350.9 510.5,350.1 510.7,349.9 510.9,348.9 511.0,349.6 511.2,349.0 511.4,348.9 511.5,348.9 511.7,349.0 511.9,348.6 512.0,348.9 512.2,349.6 512.3,349.4 512.5,350.5 512.7,349.6 512.8,349.6 513.0,349.3 513.2,351.1 513.3,349.6 513.5,350.8 513.7,351.7 513.8,351.4 514.0,351.1 514.1,350.6 514.3,351.1 514.5,350.0 514.6,350.4 514.8,350.7 515.0,349.9 515.1,350.6 515.3,350.7 515.4,350.2 515.6,349.8 515.8,349.6 515.9,350.4 516.1,351.3 516.3,350.0 516.4,351.1 516.6,350.6 516.8,351.4 516.9,350.7 517.1,350.7 517.2,349.7 517.4,349.7 517.6,349.8 517.7,349.8 517.9,350.0 518.1,349.4 518.2,349.4 518.4,350.9 518.5,350.8 518.7,350.4 518.9,350.6 519.0,350.9 519.2,350.1 519.4,350.1 519.5,350.3 519.7,349.7 519.9,350.1 520.0,349.4 520.2,349.2 520.3,349.3 520.5,348.4 520.7,349.3 520.8,350.2 521.0,350.0 521.2,349.6 521.3,349.7 521.5,350.3 521.6,349.6 521.8,350.2 522.0,350.7 522.1,351.0 522.3,350.7 522.5,350.9 522.6,349.1 522.8,349.0 523.0,349.0 523.1,349.6 523.3,348.7 523.4,349.7 523.6,349.1 523.8,350.2 523.9,350.0 524.1,350.1 524.3,350.2 524.4,349.9 524.6,351.1 524.8,350.7 524.9,351.0 525.1,349.6 525.2,349.5 525.4,349.9 525.6,350.8 525.7,350.1 525.9,351.8 526.1,352.2 526.2,350.2 526.4,350.2 526.5,350.0 526.7,350.2 526.9,350.1 527.0,350.3 527.2,351.1 527.4,351.0 527.5,350.4 527.7,350.7 527.9,350.9 528.0,350.8 528.2,351.3 528.3,351.5 528.5,351.3 528.7,350.5 528.8,351.2 529.0,351.1 529.2,349.5 529.3,349.1 529.5,349.7 529.6,349.5 529.8,348.2 530.0,349.8 530.1,349.8 530.3,350.3 530.5,350.6 530.6,351.0 530.8,351.1 531.0,350.5 531.1,350.6 531.3,351.2 531.4,351.0 531.6,350.1 531.8,350.0 531.9,350.6 532.1,349.4 532.3,349.5 532.4,350.2 532.6,350.3 532.7,350.1 532.9,348.9 533.1,349.6 533.2,349.5 533.4,349.9 533.6,349.2 533.7,349.9 533.9,349.8 534.1,349.5 534.2,350.1 534.4,350.9 534.5,350.7 534.7,351.7 534.9,350.0 535.0,351.5 535.2,350.5 535.4,349.5 535.5,349.4 535.7,348.9 535.8,349.0 536.0,349.3 536.2,349.0 536.3,348.5 536.5,348.2 536.7,347.3 536.8,348.0 537.0,348.1 537.2,347.6 537.3,347.5 537.5,346.1 537.6,345.8 537.8,346.3 538.0,345.6 538.1,345.8 538.3,347.0 538.5,346.4 538.6,348.1 538.8,346.3 539.0,347.4 539.1,346.2 539.3,347.3 539.4,347.1 539.6,348.4 539.8,349.1 539.9,349.6 540.1,350.1 540.3,350.4 540.4,349.3 540.6,350.1 540.7,350.2 540.9,350.1 541.1,350.9 541.2,349.5 541.4,349.9 541.6,349.2 541.7,350.4 541.9,350.6 542.1,352.0 542.2,350.3 542.4,350.5 542.5,350.3 542.7,349.3 542.9,349.7 543.0,350.1 543.2,350.2 543.4,350.0 543.5,350.4 543.7,349.2 543.8,349.7 544.0,349.7 544.2,349.9 544.3,349.3 544.5,350.0 544.7,350.6 544.8,351.1 545.0,351.6 545.2,351.3 545.3,351.3 545.5,350.3 545.6,350.6 545.8,350.8 546.0,350.2 546.1,351.2 546.3,350.7 546.5,350.5 546.6,351.2 546.8,350.0 546.9,350.3 547.1,350.2 547.3,350.0 547.4,351.6 547.6,349.7 547.8,349.7 547.9,348.9 548.1,349.4 548.3,348.8 548.4,347.9 548.6,350.0 548.7,349.6 548.9,350.7 549.1,349.4 549.2,349.5 549.4,349.6 549.6,349.8 549.7,349.6 549.9,349.4 550.0,349.9 550.2,349.4 550.4,349.8 550.5,350.4 550.7,350.5 550.9,349.5 551.0,350.2 551.2,350.6 551.4,350.2 551.5,349.7 551.7,351.6 551.8,350.3 552.0,350.4 552.2,349.9 552.3,350.6 552.5,349.0 552.7,351.3 552.8,350.5 553.0,350.5 553.2,351.1 553.3,352.1 553.5,350.8 553.6,349.6 553.8,350.0 554.0,350.4 554.1,348.9 554.3,349.7 554.5,349.9 554.6,350.8 554.8,350.4 554.9,350.5 555.1,349.9 555.3,350.6 555.4,351.5 555.6,351.0 555.8,350.7 555.9,352.1 556.1,351.1 556.3,350.6 556.4,350.9 556.6,350.9 556.7,350.2 556.9,350.5 557.1,350.4 557.2,350.6 557.4,349.9 557.6,350.2 557.7,349.4 557.9,350.1 558.0,349.7 558.2,349.9 558.4,350.9 558.5,351.0 558.7,351.0 558.9,350.0 559.0,350.9 559.2,350.4 559.4,350.7 559.5,350.2 559.7,350.5 559.8,351.1 560.0,351.2 560.2,350.1 560.3,350.0 560.5,350.4 560.7,350.5 560.8,350.2 561.0,350.1 561.1,350.4 561.3,350.7 561.5,350.9 561.6,351.8 561.8,351.4 562.0,350.8 562.1,350.8 562.3,351.7 562.5,351.3 562.6,351.3 562.8,351.1 562.9,351.0 563.1,351.0 563.3,350.4 563.4,350.1 563.6,350.0 563.8,350.2 563.9,349.3 564.1,350.3 564.2,350.2 564.4,349.9 564.6,350.4 564.7,351.1 564.9,351.4 565.1,352.1 565.2,351.2 565.4,351.2 565.6,351.5 565.7,350.4 565.9,349.5 566.0,349.1 566.2,349.9 566.4,348.4 566.5,350.4 566.7,349.4 566.9,350.0 567.0,349.0 567.2,348.0 567.4,348.0 567.5,347.6 567.7,347.5 567.8,347.8 568.0,347.2 568.2,347.6 568.3,348.1 568.5,348.5 568.7,348.2 568.8,347.8 569.0,348.8 569.1,347.6 569.3,347.8 569.5,347.1 569.6,347.4 569.8,348.2 570.0,348.1 570.1,349.3 570.3,348.5 570.5,348.5 570.6,348.8 570.8,349.0 570.9,349.0 571.1,349.3 571.3,349.2 571.4,349.0 571.6,349.4 571.8,349.5 571.9,350.6 572.1,349.9 572.2,349.1 572.4,349.8 572.6,350.5 572.7,350.3 572.9,350.3 573.1,350.5 573.2,350.7 573.4,350.5 573.6,348.9 573.7,349.1 573.9,349.7 574.0,349.5 574.2,349.5 574.4,349.9 574.5,349.7 574.7,349.7 574.9,349.9 575.0,349.0 575.2,349.2 575.3,348.1 575.5,348.5 575.7,348.2 575.8,347.8 576.0,347.5 576.2,346.0 576.3,345.8 576.5,345.6 576.7,345.2 576.8,346.1 577.0,345.2 577.1,344.9 577.3,343.5 577.5,342.8 577.6,341.8 577.8,340.8 578.0,339.2 578.1,338.0 578.3,338.1 578.4,336.9 578.6,335.8 578.8,334.6 578.9,334.8 579.1,333.0 579.3,331.3 579.4,330.2 579.6,328.9 579.8,328.8 579.9,328.7 580.1,327.9 580.2,326.9 580.4,326.9 580.6,326.6 580.7,326.6 580.9,325.6 581.1,326.6 581.2,328.9 581.4,328.5 581.6,330.4 581.7,330.5 581.9,332.7 582.0,332.1 582.2,333.3 582.4,334.2 582.5,336.7 582.7,336.4 582.9,337.4 583.0,339.0 583.2,339.9 583.3,340.8 583.5,340.3 583.7,341.1 583.8,342.5 584.0,344.2 584.2,345.9 584.3,346.4 584.5,346.2 584.7,347.2 584.8,347.4 585.0,347.7 585.1,348.2 585.3,348.5 585.5,348.4 585.6,349.5 585.8,350.0 586.0,351.3 586.1,349.8 586.3,350.7 586.4,350.0 586.6,350.2 586.8,350.0 586.9,349.8 587.1,349.6 587.3,349.2 587.4,349.2 587.6,349.2 587.8,349.5 587.9,349.2 588.1,349.7 588.2,350.5 588.4,349.7 588.6,350.6 588.7,350.3 588.9,349.9 589.1,349.8 589.2,349.5 589.4,350.3 589.5,351.0 589.7,351.1 589.9,350.4 590.0,349.8 590.2,349.9 590.4,349.8 590.5,349.6 590.7,349.5 590.9,349.7 591.0,350.8 591.2,350.0 591.3,351.0 591.5,350.5 591.7,349.2 591.8,350.3 592.0,350.0 592.2,350.0 592.3,350.3 592.5,350.5 592.6,351.5 592.8,351.0 593.0,351.3 593.1,350.6 593.3,350.8 593.5,350.2 593.6,349.2 593.8,349.3 594.0,350.1 594.1,350.1 594.3,349.8 594.4,350.9 594.6,351.0 594.8,351.4 594.9,350.5 595.1,351.7 595.3,352.1 595.4,350.9 595.6,351.5 595.8,349.5 595.9,351.0 596.1,350.6 596.2,349.9 596.4,351.4 596.6,351.2 596.7,351.6 596.9,351.2 597.1,351.2 597.2,350.6 597.4,350.5 597.5,350.1 597.7,350.2 597.9,349.3 598.0,350.0 598.2,351.0 598.4,351.2 598.5,351.9 598.7,352.1 598.9,350.2 599.0,350.4 599.2,350.1 599.3,350.6 599.5,351.3 599.7,350.2 599.8,349.7 600.0,349.6 600.2,350.1 600.3,349.7 600.5,350.0 600.6,350.7 600.8,351.2 601.0,350.8 601.1,350.8 601.3,350.1 601.5,350.5 601.6,349.6 601.8,350.8 602.0,351.4 602.1,350.1 602.3,351.3 602.4,350.4 602.6,351.2 602.8,350.3 602.9,350.2 603.1,350.4 603.3,350.6 603.4,350.7 603.6,350.5 603.7,351.1 603.9,350.0 604.1,351.0 604.2,351.0 604.4,350.2 604.6,351.2 604.7,350.2 604.9,349.2 605.1,349.8 605.2,349.9 605.4,350.3 605.5,349.7 605.7,350.8 605.9,351.2 606.0,350.5 606.2,351.3 606.4,351.1 606.5,350.6 606.7,351.3 606.8,351.9 607.0,351.0 607.2,351.3 607.3,350.5 607.5,351.2 607.7,351.2 607.8,350.4 608.0,350.4 608.2,351.1 608.3,351.4 608.5,351.3 608.6,351.6 608.8,350.8 609.0,351.2 609.1,350.6 609.3,351.2 609.5,351.4 609.6,349.9 609.8,351.0 610.0,351.9 610.1,352.1 610.3,352.4 610.4,350.8 610.6,350.7 610.8,350.2 610.9,350.9 611.1,349.8 611.3,351.0 611.4,351.4 611.6,351.6 611.7,350.5 611.9,351.2 612.1,352.0 612.2,351.0 612.4,351.0 612.6,351.2 612.7,351.5 612.9,351.3 613.1,350.7 613.2,350.5 613.4,350.5 613.5,350.6 613.7,351.0 613.9,351.1 614.0,351.5 614.2,350.7 614.4,351.6 614.5,351.1 614.7,351.3 614.8,350.9 615.0,351.0 615.2,351.7 615.3,350.2 615.5,350.6 615.7,349.9 615.8,350.4 616.0,348.9 616.2,349.7 616.3,349.1 616.5,349.6 616.6,349.2 616.8,349.2 617.0,350.5 617.1,350.0 617.3,350.0 617.5,349.3 617.6,349.0 617.8,349.9 617.9,349.4 618.1,350.3 618.3,349.5 618.4,349.7 618.6,350.2 618.8,350.1 618.9,350.9 619.1,350.3 619.3,348.9 619.4,349.9 619.6,348.4 619.7,348.7 619.9,348.1 620.1,348.3 620.2,349.3 620.4,348.2 620.6,348.5 620.7,348.8 620.9,348.7 621.0,348.8 621.2,348.4 621.4,348.8 621.5,349.2 621.7,348.3 621.9,349.2 622.0,350.2 622.2,349.3 622.4,348.8 622.5,349.6 622.7,349.2 622.8,349.3 623.0,349.8 623.2,351.0 623.3,350.4 623.5,350.2 623.7,350.4 623.8,350.4 624.0,349.3 624.2,350.5 624.3,350.1 624.5,349.2 624.6,349.7 624.8,350.6 625.0,349.3 625.1,349.6 625.3,350.0 625.5,350.2 625.6,349.7 625.8,350.7 625.9,350.2 626.1,350.2 626.3,350.6 626.4,350.5 626.6,350.6 626.8,351.7 626.9,351.5 627.1,351.3 627.3,351.8 627.4,351.5 627.6,352.3 627.7,351.9 627.9,351.2 628.1,352.0 628.2,350.7 628.4,351.2 628.6,350.2 628.7,350.4 628.9,350.7 629.0,350.4 629.2,350.1 629.4,350.4 629.5,351.0 629.7,350.4 629.9,350.4 630.0,350.8 630.2,351.1 630.4,349.7 630.5,350.0 630.7,350.0 630.8,349.2 631.0,349.0 631.2,350.1 631.3,349.9 631.5,351.0 631.7,351.8 631.8,350.1 632.0,351.0 632.1,350.9 632.3,350.9 632.5,350.4 632.6,350.5 632.8,350.1 633.0,350.5 633.1,350.9 633.3,351.0 633.5,350.9 633.6,350.9 633.8,350.6 633.9,350.4 634.1,349.8 634.3,349.3 634.4,348.9 634.6,349.0 634.8,350.3 634.9,350.7 635.1,349.8 635.3,350.2 635.4,350.1 635.6,350.5 635.7,351.0 635.9,351.5 636.1,350.8 636.2,351.4 636.4,351.2 636.6,350.3 636.7,351.1 636.9,350.4 637.0,350.8 637.2,350.8 637.4,351.7 637.5,350.2 637.7,350.9 637.9,349.0 638.0,349.7 638.2,350.3 638.4,350.4 638.5,350.7 638.7,350.0 638.8,351.2 639.0,350.6 639.2,349.9 639.3,350.3 639.5,350.8 639.7,351.2 639.8,350.4 640.0,349.3 640.1,349.7 640.3,350.3 640.5,349.8 640.6,349.5 640.8,350.3 641.0,350.3 641.1,350.4 641.3,349.4 641.5,349.6 641.6,350.3 641.8,349.8 641.9,349.7 642.1,349.9 642.3,349.0 642.4,349.7 642.6,349.1 642.8,349.7 642.9,350.2 643.1,349.5 643.2,348.4 643.4,349.5 643.6,348.8 643.7,349.3 643.9,349.0 644.1,349.3 644.2,349.7 644.4,349.1 644.6,348.1 644.7,349.2 644.9,348.0 645.0,348.4 645.2,349.5 645.4,347.9 645.5,348.5 645.7,347.1 645.9,347.6 646.0,346.7 646.2,347.1 646.3,347.0 646.5,347.1 646.7,347.4 646.8,346.9 647.0,347.8 647.2,347.6 647.3,347.4 647.5,347.6 647.7,347.6 647.8,348.6 648.0,348.4 648.1,348.6 648.3,348.3 648.5,349.2 648.6,347.6 648.8,347.1 649.0,348.2 649.1,348.0 649.3,348.1 649.5,347.1 649.6,347.9 649.8,346.9 649.9,347.1 650.1,346.2 650.3,346.9 650.4,346.5 650.6,347.4 650.8,346.6 650.9,346.1 651.1,346.4 651.2,346.0 651.4,346.7 651.6,345.4 651.7,346.0 651.9,345.5 652.1,345.8 652.2,345.2 652.4,345.7 652.6,346.2 652.7,346.4 652.9,347.2 653.0,347.2 653.2,346.5 653.4,347.4 653.5,348.0 653.7,347.3 653.9,347.0 654.0,346.8 654.2,346.9 654.3,346.6 654.5,347.3 654.7,347.2 654.8,347.2 655.0,346.9 655.2,347.0 655.3,346.3 655.5,346.3 655.7,346.1 655.8,346.4 656.0,345.2 656.1,345.7 656.3,344.4 656.5,343.4 656.6,341.4 656.8,341.8 657.0,339.7 657.1,340.9 657.3,339.3 657.4,339.0 657.6,337.8 657.8,336.3 657.9,336.1 658.1,336.2 658.3,334.8 658.4,334.8 658.6,334.2 658.8,334.1 658.9,332.6 659.1,332.4 659.2,332.4 659.4,332.6 659.6,333.3 659.7,334.2 659.9,333.7 660.1,333.6 660.2,334.0 660.4,335.3 660.5,335.5 660.7,336.9 660.9,338.8 661.0,339.0 661.2,339.4 661.4,339.4 661.5,340.0 661.7,340.2 661.9,341.1 662.0,341.5 662.2,343.1 662.3,344.5 662.5,344.2 662.7,346.4 662.8,346.8 663.0,347.6 663.2,346.8 663.3,346.3 663.5,347.5 663.7,347.6 663.8,347.9 664.0,348.4 664.1,349.2 664.3,349.3 664.5,348.8 664.6,349.8 664.8,349.1 665.0,349.7 665.1,350.0 665.3,349.7 665.4,349.3 665.6,351.4 665.8,349.8 665.9,349.9 666.1,349.8 666.3,351.5 666.4,350.8 666.6,351.9 666.8,351.0 666.9,351.2 667.1,350.6 667.2,350.8 667.4,350.6 667.6,350.5 667.7,351.9 667.9,351.6 668.1,351.5 668.2,352.1 668.4,350.7 668.5,351.2 668.7,350.3 668.9,350.3 669.0,350.3 669.2,350.6 669.4,349.8 669.5,350.5 669.7,350.4 669.9,350.9 670.0,350.0 670.2,350.0 670.3,350.0 670.5,350.2 670.7,350.5 670.8,350.7 671.0,350.1 671.2,350.4 671.3,350.0 671.5,349.6 671.6,349.9 671.8,351.3 672.0,349.3 672.1,350.2 672.3,350.4 672.5,350.7 672.6,351.4 672.8,351.4 673.0,351.5 673.1,350.5 673.3,350.0 673.4,350.2 673.6,350.2 673.8,350.0"/>
<circle cx="673.9" cy="351.2" r="4.1" fill="#fff" stroke="#000" stroke-width="1.05"/>
<!-- calculated -->
<polyline fill="none" stroke="#f00" stroke-width="2.3" stroke-linejoin="round" points="61.29,339.79 61.37,339.79 61.45,339.79 61.53,339.79 61.61,339.79 61.69,339.79 61.78,339.81 61.86,339.83 61.94,339.84 62.02,339.86 62.10,339.88 62.18,339.90 62.27,339.91 62.35,339.93 62.43,339.95 62.51,339.97 62.59,339.99 62.67,340.00 62.76,340.02 62.84,340.04 62.92,340.06 63.00,340.08 63.08,340.09 63.16,340.11 63.25,340.13 63.33,340.15 63.41,340.17 63.49,340.18 63.57,340.20 63.65,340.22 63.74,340.24 63.82,340.26 63.90,340.27 63.98,340.29 64.06,340.31 64.14,340.33 64.22,340.35 64.31,340.36 64.39,340.38 64.47,340.40 64.55,340.42 64.63,340.44 64.71,340.45 64.80,340.47 64.88,340.49 64.96,340.51 65.04,340.53 65.12,340.54 65.20,340.56 65.29,340.58 65.37,340.60 65.45,340.62 65.53,340.63 65.61,340.65 65.69,340.67 65.78,340.69 65.86,340.71 65.94,340.72 66.02,340.74 66.10,340.76 66.18,340.78 66.27,340.80 66.35,340.81 66.43,340.83 66.51,340.85 66.59,340.87 66.67,340.88 66.75,340.90 66.84,340.92 66.92,340.94 67.00,340.96 67.08,340.97 67.16,340.99 67.24,341.01 67.33,341.03 67.41,341.05 67.49,341.06 67.57,341.08 67.65,341.10 67.73,341.12 67.82,341.14 67.90,341.15 67.98,341.17 68.06,341.19 68.14,341.21 68.22,341.23 68.31,341.24 68.39,341.26 68.47,341.28 68.55,341.30 68.63,341.32 68.71,341.33 68.80,341.35 68.88,341.37 68.96,341.39 69.04,341.41 69.12,341.42 69.20,341.44 69.28,341.46 69.37,341.48 69.45,341.49 69.53,341.51 69.61,341.53 69.69,341.55 69.77,341.57 69.86,341.58 69.94,341.60 70.02,341.61 70.10,341.63 70.18,341.64 70.26,341.65 70.35,341.67 70.43,341.68 70.51,341.69 70.59,341.71 70.67,341.72 70.75,341.73 70.84,341.75 70.92,341.76 71.00,341.77 71.08,341.79 71.16,341.80 71.24,341.81 71.32,341.83 71.41,341.84 71.49,341.86 71.57,341.87 71.65,341.88 71.73,341.90 71.81,341.91 71.90,341.92 71.98,341.94 72.06,341.95 72.14,341.96 72.22,341.98 72.30,341.99 72.39,342.00 72.47,342.02 72.55,342.03 72.63,342.04 72.71,342.06 72.79,342.07 72.88,342.08 72.96,342.10 73.04,342.11 73.12,342.13 73.20,342.14 73.28,342.15 73.37,342.17 73.45,342.18 73.53,342.19 73.61,342.21 73.69,342.22 73.77,342.23 73.85,342.25 73.94,342.26 74.02,342.27 74.10,342.29 74.18,342.30 74.26,342.31 74.34,342.33 74.43,342.34 74.51,342.35 74.59,342.37 74.67,342.38 74.75,342.40 74.83,342.41 74.92,342.42 75.00,342.44 75.08,342.45 75.16,342.46 75.24,342.48 75.32,342.49 75.41,342.50 75.49,342.52 75.57,342.53 75.65,342.54 75.73,342.56 75.81,342.57 75.90,342.58 75.98,342.60 76.06,342.61 76.14,342.62 76.22,342.64 76.30,342.65 76.38,342.66 76.47,342.68 76.55,342.69 76.63,342.70 76.71,342.72 76.79,342.73 76.87,342.75 76.96,342.76 77.04,342.77 77.12,342.79 77.20,342.80 77.28,342.81 77.36,342.83 77.45,342.84 77.53,342.85 77.61,342.87 77.69,342.88 77.77,342.89 77.85,342.91 77.94,342.92 78.02,342.93 78.10,342.95 78.18,342.96 78.26,342.97 78.34,342.99 78.43,343.00 78.51,343.01 78.59,343.03 78.67,343.04 78.75,343.05 78.83,343.07 78.91,343.08 79.00,343.09 79.08,343.11 79.16,343.12 79.24,343.13 79.32,343.15 79.40,343.16 79.49,343.17 79.57,343.19 79.65,343.20 79.73,343.21 79.81,343.23 79.89,343.24 79.98,343.25 80.06,343.27 80.14,343.27 80.22,343.28 80.30,343.29 80.38,343.29 80.47,343.30 80.55,343.31 80.63,343.32 80.71,343.32 80.79,343.33 80.87,343.34 80.95,343.34 81.04,343.35 81.12,343.36 81.20,343.36 81.28,343.37 81.36,343.38 81.44,343.38 81.53,343.39 81.61,343.40 81.69,343.40 81.77,343.41 81.85,343.42 81.93,343.42 82.02,343.43 82.10,343.44 82.18,343.44 82.26,343.45 82.34,343.46 82.42,343.46 82.51,343.47 82.59,343.48 82.67,343.49 82.75,343.49 82.83,343.50 82.91,343.51 83.00,343.51 83.08,343.52 83.16,343.52 83.24,343.53 83.32,343.54 83.40,343.54 83.48,343.55 83.57,343.56 83.65,343.56 83.73,343.57 83.81,343.58 83.89,343.58 83.97,343.59 84.06,343.60 84.14,343.60 84.22,343.61 84.30,343.62 84.38,343.62 84.46,343.63 84.55,343.64 84.63,343.64 84.71,343.65 84.79,343.65 84.87,343.66 84.95,343.67 85.04,343.67 85.12,343.68 85.20,343.69 85.28,343.69 85.36,343.70 85.44,343.70 85.53,343.71 85.61,343.72 85.69,343.72 85.77,343.73 85.85,343.73 85.93,343.74 86.01,343.75 86.10,343.75 86.18,343.76 86.26,343.76 86.34,343.77 86.42,343.78 86.50,343.78 86.59,343.79 86.67,343.79 86.75,343.80 86.83,343.80 86.91,343.81 86.99,343.81 87.08,343.82 87.16,343.83 87.24,343.83 87.32,343.84 87.40,343.84 87.48,343.85 87.57,343.85 87.65,343.86 87.73,343.86 87.81,343.87 87.89,343.87 87.97,343.87 88.06,343.88 88.14,343.88 88.22,343.89 88.30,343.89 88.38,343.90 88.46,343.90 88.54,343.90 88.63,343.91 88.71,343.91 88.79,343.91 88.87,343.92 88.95,343.92 89.03,343.92 89.12,343.93 89.20,343.93 89.28,343.93 89.36,343.93 89.44,343.94 89.52,343.94 89.61,343.94 89.69,343.94 89.77,343.94 89.85,343.94 89.93,343.95 90.01,343.95 90.10,343.95 90.18,343.95 90.26,343.94 90.34,343.94 90.42,343.94 90.50,343.94 90.58,343.94 90.67,343.94 90.75,343.94 90.83,343.93 90.91,343.93 90.99,343.92 91.07,343.92 91.16,343.91 91.24,343.90 91.32,343.89 91.40,343.87 91.48,343.86 91.56,343.84 91.65,343.81 91.73,343.78 91.81,343.75 91.89,343.71 91.97,343.66 92.05,343.60 92.14,343.53 92.22,343.45 92.30,343.35 92.38,343.24 92.46,343.11 92.54,342.95 92.63,342.78 92.71,342.57 92.79,342.34 92.87,342.07 92.95,341.77 93.03,341.43 93.11,341.06 93.20,340.64 93.28,340.18 93.36,339.68 93.44,339.14 93.52,338.56 93.60,337.93 93.69,337.28 93.77,336.59 93.85,335.87 93.93,335.13 94.01,334.38 94.09,333.62 94.18,332.87 94.26,332.13 94.34,331.42 94.42,330.75 94.50,330.12 94.58,329.57 94.67,329.09 94.75,328.70 94.83,328.42 94.91,328.24 94.99,328.18 95.07,328.23 95.16,328.40 95.24,328.68 95.32,329.07 95.40,329.55 95.48,330.10 95.56,330.73 95.64,331.41 95.73,332.13 95.81,332.88 95.89,333.65 95.97,334.42 96.05,335.19 96.13,335.95 96.22,336.69 96.30,337.40 96.38,338.08 96.46,338.73 96.54,339.34 96.62,339.90 96.71,340.43 96.79,340.91 96.87,341.35 96.95,341.75 97.03,342.11 97.11,342.44 97.20,342.73 97.28,342.98 97.36,343.21 97.44,343.41 97.52,343.58 97.60,343.73 97.69,343.87 97.77,343.98 97.85,344.08 97.93,344.17 98.01,344.25 98.09,344.32 98.17,344.37 98.26,344.43 98.34,344.47 98.42,344.51 98.50,344.55 98.58,344.58 98.66,344.61 98.75,344.64 98.83,344.67 98.91,344.69 98.99,344.72 99.07,344.74 99.15,344.76 99.24,344.78 99.32,344.80 99.40,344.82 99.48,344.83 99.56,344.85 99.64,344.87 99.73,344.88 99.81,344.90 99.89,344.91 99.97,344.93 100.05,344.94 100.13,344.96 100.21,344.97 100.30,344.98 100.38,345.00 100.46,345.01 100.54,345.02 100.62,345.03 100.70,345.05 100.79,345.06 100.87,345.07 100.95,345.08 101.03,345.09 101.11,345.10 101.19,345.12 101.28,345.13 101.36,345.14 101.44,345.15 101.52,345.16 101.60,345.17 101.68,345.18 101.77,345.19 101.85,345.20 101.93,345.21 102.01,345.22 102.09,345.23 102.17,345.24 102.26,345.25 102.34,345.26 102.42,345.27 102.50,345.28 102.58,345.29 102.66,345.29 102.74,345.30 102.83,345.31 102.91,345.32 102.99,345.33 103.07,345.34 103.15,345.35 103.23,345.36 103.32,345.36 103.40,345.37 103.48,345.38 103.56,345.39 103.64,345.40 103.72,345.41 103.81,345.41 103.89,345.42 103.97,345.43 104.05,345.44 104.13,345.45 104.21,345.45 104.30,345.46 104.38,345.47 104.46,345.48 104.54,345.49 104.62,345.49 104.70,345.50 104.79,345.51 104.87,345.52 104.95,345.52 105.03,345.53 105.11,345.54 105.19,345.55 105.27,345.55 105.36,345.56 105.44,345.57 105.52,345.57 105.60,345.58 105.68,345.59 105.76,345.60 105.85,345.60 105.93,345.61 106.01,345.62 106.09,345.62 106.17,345.63 106.25,345.64 106.34,345.64 106.42,345.65 106.50,345.66 106.58,345.66 106.66,345.67 106.74,345.68 106.83,345.68 106.91,345.69 106.99,345.70 107.07,345.70 107.15,345.71 107.23,345.72 107.31,345.72 107.40,345.73 107.48,345.74 107.56,345.74 107.64,345.75 107.72,345.75 107.80,345.76 107.89,345.77 107.97,345.77 108.05,345.78 108.13,345.78 108.21,345.79 108.29,345.80 108.38,345.80 108.46,345.81 108.54,345.81 108.62,345.82 108.70,345.83 108.78,345.83 108.87,345.84 108.95,345.84 109.03,345.85 109.11,345.85 109.19,345.86 109.27,345.87 109.36,345.87 109.44,345.88 109.52,345.88 109.60,345.89 109.68,345.89 109.76,345.90 109.84,345.90 109.93,345.91 110.01,345.91 110.09,345.92 110.17,345.92 110.25,345.93 110.33,345.93 110.42,345.94 110.50,345.94 110.58,345.95 110.66,345.95 110.74,345.96 110.82,345.96 110.91,345.97 110.99,345.97 111.07,345.98 111.15,345.98 111.23,345.99 111.31,345.99 111.40,346.00 111.48,346.00 111.56,346.01 111.64,346.01 111.72,346.01 111.80,346.02 111.89,346.02 111.97,346.03 112.05,346.03 112.13,346.04 112.21,346.04 112.29,346.04 112.37,346.05 112.46,346.05 112.54,346.06 112.62,346.06 112.70,346.07 112.78,346.07 112.86,346.07 112.95,346.08 113.03,346.08 113.11,346.09 113.19,346.09 113.27,346.09 113.35,346.10 113.44,346.10 113.52,346.11 113.60,346.11 113.68,346.11 113.76,346.12 113.84,346.12 113.93,346.13 114.01,346.13 114.09,346.13 114.17,346.14 114.25,346.14 114.33,346.14 114.42,346.15 114.50,346.15 114.58,346.16 114.66,346.16 114.74,346.16 114.82,346.17 114.90,346.17 114.99,346.17 115.07,346.18 115.15,346.18 115.23,346.18 115.31,346.19 115.39,346.19 115.48,346.20 115.56,346.20 115.64,346.20 115.72,346.21 115.80,346.21 115.88,346.21 115.97,346.22 116.05,346.22 116.13,346.22 116.21,346.23 116.29,346.23 116.37,346.23 116.46,346.24 116.54,346.24 116.62,346.24 116.70,346.25 116.78,346.25 116.86,346.25 116.94,346.26 117.03,346.26 117.11,346.26 117.19,346.27 117.27,346.27 117.35,346.27 117.43,346.28 117.52,346.28 117.60,346.28 117.68,346.29 117.76,346.29 117.84,346.29 117.92,346.30 118.01,346.30 118.09,346.30 118.17,346.31 118.25,346.31 118.33,346.31 118.41,346.32 118.50,346.32 118.58,346.32 118.66,346.33 118.74,346.33 118.82,346.33 118.90,346.34 118.99,346.34 119.07,346.34 119.15,346.35 119.23,346.35 119.31,346.35 119.39,346.36 119.47,346.36 119.56,346.36 119.64,346.37 119.72,346.37 119.80,346.37 119.88,346.38 119.96,346.38 120.05,346.38 120.13,346.39 120.21,346.39 120.29,346.39 120.37,346.40 120.45,346.40 120.54,346.40 120.62,346.41 120.70,346.41 120.78,346.41 120.86,346.42 120.94,346.42 121.03,346.42 121.11,346.43 121.19,346.43 121.27,346.44 121.35,346.44 121.43,346.44 121.52,346.45 121.60,346.45 121.68,346.45 121.76,346.46 121.84,346.46 121.92,346.46 122.00,346.47 122.09,346.47 122.17,346.47 122.25,346.48 122.33,346.48 122.41,346.48 122.49,346.49 122.58,346.49 122.66,346.49 122.74,346.50 122.82,346.50 122.90,346.50 122.98,346.51 123.07,346.51 123.15,346.51 123.23,346.52 123.31,346.52 123.39,346.52 123.47,346.53 123.56,346.53 123.64,346.53 123.72,346.54 123.80,346.54 123.88,346.54 123.96,346.55 124.05,346.55 124.13,346.55 124.21,346.56 124.29,346.56 124.37,346.57 124.45,346.57 124.53,346.57 124.62,346.58 124.70,346.58 124.78,346.58 124.86,346.59 124.94,346.59 125.02,346.59 125.11,346.60 125.19,346.60 125.27,346.60 125.35,346.61 125.43,346.61 125.51,346.61 125.60,346.62 125.68,346.62 125.76,346.63 125.84,346.63 125.92,346.63 126.00,346.64 126.09,346.64 126.17,346.64 126.25,346.65 126.33,346.65 126.41,346.65 126.49,346.66 126.57,346.66 126.66,346.67 126.74,346.67 126.82,346.67 126.90,346.68 126.98,346.68 127.06,346.68 127.15,346.69 127.23,346.69 127.31,346.69 127.39,346.70 127.47,346.70 127.55,346.71 127.64,346.71 127.72,346.71 127.80,346.72 127.88,346.72 127.96,346.72 128.04,346.73 128.13,346.73 128.21,346.73 128.29,346.74 128.37,346.74 128.45,346.75 128.53,346.75 128.62,346.75 128.70,346.76 128.78,346.76 128.86,346.76 128.94,346.77 129.02,346.77 129.10,346.78 129.19,346.78 129.27,346.78 129.35,346.79 129.43,346.79 129.51,346.79 129.59,346.80 129.68,346.80 129.76,346.81 129.84,346.81 129.92,346.81 130.00,346.82 130.08,346.82 130.17,346.82 130.25,346.83 130.33,346.83 130.41,346.84 130.49,346.84 130.57,346.84 130.66,346.85 130.74,346.85 130.82,346.85 130.90,346.86 130.98,346.86 131.06,346.87 131.15,346.87 131.23,346.87 131.31,346.88 131.39,346.88 131.47,346.88 131.55,346.89 131.63,346.89 131.72,346.90 131.80,346.90 131.88,346.90 131.96,346.91 132.04,346.91 132.12,346.91 132.21,346.92 132.29,346.92 132.37,346.93 132.45,346.93 132.53,346.93 132.61,346.94 132.70,346.94 132.78,346.94 132.86,346.95 132.94,346.95 133.02,346.96 133.10,346.96 133.19,346.96 133.27,346.97 133.35,346.97 133.43,346.97 133.51,346.98 133.59,346.98 133.68,346.99 133.76,346.99 133.84,346.99 133.92,347.00 134.00,347.00 134.08,347.00 134.16,347.01 134.25,347.01 134.33,347.02 134.41,347.02 134.49,347.02 134.57,347.03 134.65,347.03 134.74,347.03 134.82,347.04 134.90,347.04 134.98,347.04 135.06,347.05 135.14,347.05 135.23,347.05 135.31,347.06 135.39,347.06 135.47,347.07 135.55,347.07 135.63,347.07 135.72,347.08 135.80,347.08 135.88,347.08 135.96,347.09 136.04,347.09 136.12,347.09 136.20,347.10 136.29,347.10 136.37,347.10 136.45,347.11 136.53,347.11 136.61,347.11 136.69,347.12 136.78,347.12 136.86,347.12 136.94,347.13 137.02,347.13 137.10,347.13 137.18,347.14 137.27,347.14 137.35,347.14 137.43,347.15 137.51,347.15 137.59,347.15 137.67,347.15 137.76,347.16 137.84,347.16 137.92,347.16 138.00,347.17 138.08,347.17 138.16,347.17 138.25,347.18 138.33,347.18 138.41,347.18 138.49,347.18 138.57,347.19 138.65,347.19 138.73,347.19 138.82,347.20 138.90,347.20 138.98,347.20 139.06,347.20 139.14,347.21 139.22,347.21 139.31,347.21 139.39,347.22 139.47,347.22 139.55,347.22 139.63,347.22 139.71,347.23 139.80,347.23 139.88,347.23 139.96,347.23 140.04,347.24 140.12,347.24 140.20,347.24 140.29,347.24 140.37,347.25 140.45,347.25 140.53,347.25 140.61,347.25 140.69,347.25 140.78,347.26 140.86,347.26 140.94,347.26 141.02,347.26 141.10,347.27 141.18,347.27 141.26,347.27 141.35,347.27 141.43,347.27 141.51,347.28 141.59,347.28 141.67,347.28 141.75,347.28 141.84,347.28 141.92,347.29 142.00,347.29 142.08,347.29 142.16,347.29 142.24,347.29 142.33,347.29 142.41,347.30 142.49,347.30 142.57,347.30 142.65,347.30 142.73,347.30 142.82,347.31 142.90,347.31 142.98,347.31 143.06,347.31 143.14,347.31 143.22,347.31 143.30,347.31 143.39,347.32 143.47,347.32 143.55,347.32 143.63,347.32 143.71,347.32 143.79,347.32 143.88,347.33 143.96,347.33 144.04,347.33 144.12,347.33 144.20,347.33 144.28,347.33 144.37,347.33 144.45,347.34 144.53,347.34 144.61,347.34 144.69,347.34 144.77,347.34 144.86,347.34 144.94,347.34 145.02,347.34 145.10,347.35 145.18,347.35 145.26,347.35 145.35,347.35 145.43,347.35 145.51,347.35 145.59,347.35 145.67,347.36 145.75,347.36 145.83,347.36 145.92,347.36 146.00,347.36 146.08,347.36 146.16,347.36 146.24,347.36 146.32,347.36 146.41,347.37 146.49,347.37 146.57,347.37 146.65,347.37 146.73,347.37 146.81,347.37 146.90,347.37 146.98,347.37 147.06,347.38 147.14,347.38 147.22,347.38 147.30,347.38 147.39,347.38 147.47,347.38 147.55,347.38 147.63,347.38 147.71,347.38 147.79,347.39 147.88,347.39 147.96,347.39 148.04,347.39 148.12,347.39 148.20,347.39 148.28,347.39 148.36,347.39 148.45,347.39 148.53,347.40 148.61,347.40 148.69,347.40 148.77,347.40 148.85,347.40 148.94,347.40 149.02,347.40 149.10,347.40 149.18,347.40 149.26,347.41 149.34,347.41 149.43,347.41 149.51,347.41 149.59,347.41 149.67,347.41 149.75,347.41 149.83,347.41 149.92,347.41 150.00,347.41 150.08,347.42 150.16,347.42 150.24,347.42 150.32,347.42 150.41,347.42 150.49,347.42 150.57,347.42 150.65,347.42 150.73,347.42 150.81,347.43 150.89,347.43 150.98,347.43 151.06,347.43 151.14,347.43 151.22,347.43 151.30,347.43 151.38,347.43 151.47,347.43 151.55,347.44 151.63,347.44 151.71,347.44 151.79,347.44 151.87,347.44 151.96,347.44 152.04,347.44 152.12,347.44 152.20,347.44 152.28,347.44 152.36,347.45 152.45,347.45 152.53,347.45 152.61,347.45 152.69,347.45 152.77,347.45 152.85,347.45 152.93,347.45 153.02,347.45 153.10,347.46 153.18,347.46 153.26,347.46 153.34,347.46 153.42,347.46 153.51,347.46 153.59,347.46 153.67,347.46 153.75,347.46 153.83,347.47 153.91,347.47 154.00,347.47 154.08,347.47 154.16,347.47 154.24,347.47 154.32,347.47 154.40,347.47 154.49,347.47 154.57,347.47 154.65,347.48 154.73,347.48 154.81,347.48 154.89,347.48 154.98,347.48 155.06,347.48 155.14,347.48 155.22,347.48 155.30,347.48 155.38,347.49 155.46,347.49 155.55,347.49 155.63,347.49 155.71,347.49 155.79,347.49 155.87,347.49 155.95,347.49 156.04,347.49 156.12,347.49 156.20,347.50 156.28,347.50 156.36,347.50 156.44,347.50 156.53,347.50 156.61,347.50 156.69,347.50 156.77,347.50 156.85,347.50 156.93,347.51 157.02,347.51 157.10,347.51 157.18,347.51 157.26,347.51 157.34,347.51 157.42,347.51 157.51,347.51 157.59,347.51 157.67,347.51 157.75,347.52 157.83,347.52 157.91,347.52 157.99,347.52 158.08,347.52 158.16,347.52 158.24,347.52 158.32,347.52 158.40,347.52 158.48,347.53 158.57,347.53 158.65,347.53 158.73,347.53 158.81,347.53 158.89,347.53 158.97,347.53 159.06,347.53 159.14,347.53 159.22,347.54 159.30,347.54 159.38,347.54 159.46,347.54 159.55,347.54 159.63,347.54 159.71,347.54 159.79,347.54 159.87,347.54 159.95,347.54 160.04,347.55 160.12,347.55 160.20,347.55 160.28,347.55 160.36,347.55 160.44,347.55 160.52,347.55 160.61,347.55 160.69,347.55 160.77,347.56 160.85,347.56 160.93,347.56 161.01,347.56 161.10,347.56 161.18,347.56 161.26,347.56 161.34,347.56 161.42,347.56 161.50,347.56 161.59,347.57 161.67,347.57 161.75,347.57 161.83,347.57 161.91,347.57 161.99,347.57 162.08,347.57 162.16,347.57 162.24,347.57 162.32,347.57 162.40,347.58 162.48,347.58 162.56,347.58 162.65,347.58 162.73,347.58 162.81,347.58 162.89,347.58 162.97,347.58 163.05,347.58 163.14,347.58 163.22,347.59 163.30,347.59 163.38,347.59 163.46,347.59 163.54,347.59 163.63,347.59 163.71,347.59 163.79,347.59 163.87,347.59 163.95,347.59 164.03,347.60 164.12,347.60 164.20,347.60 164.28,347.60 164.36,347.60 164.44,347.60 164.52,347.60 164.61,347.60 164.69,347.60 164.77,347.60 164.85,347.60 164.93,347.61 165.01,347.61 165.09,347.61 165.18,347.61 165.26,347.61 165.34,347.61 165.42,347.61 165.50,347.61 165.58,347.61 165.67,347.61 165.75,347.61 165.83,347.62 165.91,347.62 165.99,347.62 166.07,347.62 166.16,347.62 166.24,347.62 166.32,347.62 166.40,347.62 166.48,347.62 166.56,347.62 166.65,347.62 166.73,347.62 166.81,347.62 166.89,347.62 166.97,347.63 167.05,347.63 167.14,347.63 167.22,347.63 167.30,347.63 167.38,347.63 167.46,347.63 167.54,347.63 167.62,347.63 167.71,347.63 167.79,347.63 167.87,347.63 167.95,347.63 168.03,347.63 168.11,347.63 168.20,347.63 168.28,347.63 168.36,347.63 168.44,347.63 168.52,347.63 168.60,347.64 168.69,347.64 168.77,347.64 168.85,347.64 168.93,347.64 169.01,347.64 169.09,347.64 169.18,347.64 169.26,347.64 169.34,347.64 169.42,347.64 169.50,347.64 169.58,347.64 169.67,347.64 169.75,347.64 169.83,347.64 169.91,347.64 169.99,347.64 170.07,347.64 170.15,347.64 170.24,347.64 170.32,347.64 170.40,347.64 170.48,347.64 170.56,347.64 170.64,347.64 170.73,347.64 170.81,347.64 170.89,347.64 170.97,347.64 171.05,347.64 171.13,347.64 171.22,347.64 171.30,347.64 171.38,347.64 171.46,347.64 171.54,347.64 171.62,347.64 171.71,347.63 171.79,347.63 171.87,347.63 171.95,347.63 172.03,347.63 172.11,347.63 172.19,347.63 172.28,347.63 172.36,347.63 172.44,347.63 172.52,347.63 172.60,347.63 172.68,347.63 172.77,347.63 172.85,347.63 172.93,347.63 173.01,347.63 173.09,347.63 173.17,347.63 173.26,347.62 173.34,347.62 173.42,347.62 173.50,347.62 173.58,347.62 173.66,347.62 173.75,347.62 173.83,347.62 173.91,347.62 173.99,347.62 174.07,347.62 174.15,347.62 174.24,347.62 174.32,347.61 174.40,347.61 174.48,347.61 174.56,347.61 174.64,347.61 174.72,347.61 174.81,347.61 174.89,347.61 174.97,347.61 175.05,347.61 175.13,347.61 175.21,347.61 175.30,347.60 175.38,347.60 175.46,347.60 175.54,347.60 175.62,347.60 175.70,347.60 175.79,347.60 175.87,347.60 175.95,347.60 176.03,347.60 176.11,347.59 176.19,347.59 176.28,347.59 176.36,347.59 176.44,347.59 176.52,347.59 176.60,347.59 176.68,347.59 176.77,347.59 176.85,347.59 176.93,347.58 177.01,347.58 177.09,347.58 177.17,347.58 177.25,347.58 177.34,347.58 177.42,347.58 177.50,347.58 177.58,347.58 177.66,347.57 177.74,347.57 177.83,347.57 177.91,347.57 177.99,347.57 178.07,347.57 178.15,347.57 178.23,347.57 178.32,347.57 178.40,347.56 178.48,347.56 178.56,347.56 178.64,347.56 178.72,347.56 178.81,347.56 178.89,347.56 178.97,347.56 179.05,347.56 179.13,347.55 179.21,347.55 179.30,347.55 179.38,347.55 179.46,347.55 179.54,347.55 179.62,347.55 179.70,347.55 179.78,347.55 179.87,347.54 179.95,347.54 180.03,347.54 180.11,347.54 180.19,347.54 180.27,347.54 180.36,347.54 180.44,347.54 180.52,347.54 180.60,347.53 180.68,347.53 180.76,347.53 180.85,347.53 180.93,347.53 181.01,347.53 181.09,347.53 181.17,347.53 181.25,347.53 181.34,347.52 181.42,347.52 181.50,347.52 181.58,347.52 181.66,347.52 181.74,347.52 181.82,347.52 181.91,347.52 181.99,347.52 182.07,347.51 182.15,347.51 182.23,347.51 182.31,347.51 182.40,347.51 182.48,347.51 182.56,347.51 182.64,347.51 182.72,347.50 182.80,347.50 182.89,347.50 182.97,347.50 183.05,347.50 183.13,347.50 183.21,347.50 183.29,347.50 183.38,347.50 183.46,347.49 183.54,347.49 183.62,347.49 183.70,347.49 183.78,347.49 183.87,347.49 183.95,347.49 184.03,347.49 184.11,347.48 184.19,347.48 184.27,347.48 184.35,347.48 184.44,347.48 184.52,347.48 184.60,347.48 184.68,347.48 184.76,347.48 184.84,347.47 184.93,347.47 185.01,347.47 185.09,347.47 185.17,347.47 185.25,347.47 185.33,347.47 185.42,347.47 185.50,347.46 185.58,347.46 185.66,347.46 185.74,347.46 185.82,347.46 185.91,347.46 185.99,347.46 186.07,347.46 186.15,347.46 186.23,347.45 186.31,347.45 186.40,347.45 186.48,347.45 186.56,347.45 186.64,347.45 186.72,347.45 186.80,347.45 186.88,347.44 186.97,347.44 187.05,347.44 187.13,347.44 187.21,347.44 187.29,347.44 187.37,347.44 187.46,347.44 187.54,347.43 187.62,347.43 187.70,347.43 187.78,347.43 187.86,347.43 187.95,347.43 188.03,347.43 188.11,347.43 188.19,347.43 188.27,347.42 188.35,347.42 188.44,347.42 188.52,347.42 188.60,347.42 188.68,347.42 188.76,347.42 188.84,347.42 188.92,347.41 189.01,347.41 189.09,347.41 189.17,347.41 189.25,347.41 189.33,347.41 189.41,347.41 189.50,347.41 189.58,347.40 189.66,347.40 189.74,347.40 189.82,347.40 189.90,347.40 189.99,347.40 190.07,347.40 190.15,347.40 190.23,347.39 190.31,347.39 190.39,347.39 190.48,347.39 190.56,347.39 190.64,347.39 190.72,347.39 190.80,347.38 190.88,347.38 190.97,347.38 191.05,347.38 191.13,347.38 191.21,347.38 191.29,347.38 191.37,347.38 191.45,347.37 191.54,347.37 191.62,347.37 191.70,347.37 191.78,347.37 191.86,347.37 191.94,347.37 192.03,347.37 192.11,347.36 192.19,347.36 192.27,347.36 192.35,347.36 192.43,347.36 192.52,347.36 192.60,347.36 192.68,347.35 192.76,347.35 192.84,347.35 192.92,347.35 193.01,347.35 193.09,347.35 193.17,347.35 193.25,347.34 193.33,347.34 193.41,347.34 193.50,347.34 193.58,347.34 193.66,347.34 193.74,347.34 193.82,347.34 193.90,347.33 193.98,347.33 194.07,347.33 194.15,347.33 194.23,347.33 194.31,347.33 194.39,347.33 194.47,347.32 194.56,347.32 194.64,347.32 194.72,347.32 194.80,347.32 194.88,347.32 194.96,347.31 195.05,347.31 195.13,347.31 195.21,347.31 195.29,347.31 195.37,347.31 195.45,347.31 195.54,347.30 195.62,347.30 195.70,347.30 195.78,347.30 195.86,347.30 195.94,347.30 196.03,347.29 196.11,347.29 196.19,347.29 196.27,347.29 196.35,347.29 196.43,347.29 196.51,347.28 196.60,347.28 196.68,347.28 196.76,347.28 196.84,347.28 196.92,347.28 197.00,347.27 197.09,347.27 197.17,347.27 197.25,347.27 197.33,347.27 197.41,347.27 197.49,347.26 197.58,347.26 197.66,347.26 197.74,347.26 197.82,347.26 197.90,347.26 197.98,347.25 198.07,347.25 198.15,347.25 198.23,347.25 198.31,347.25 198.39,347.24 198.47,347.24 198.55,347.24 198.64,347.24 198.72,347.24 198.80,347.23 198.88,347.23 198.96,347.23 199.04,347.23 199.13,347.22 199.21,347.22 199.29,347.22 199.37,347.22 199.45,347.22 199.53,347.21 199.62,347.21 199.70,347.21 199.78,347.21 199.86,347.20 199.94,347.20 200.02,347.20 200.11,347.20 200.19,347.19 200.27,347.19 200.35,347.19 200.43,347.19 200.51,347.18 200.60,347.18 200.68,347.18 200.76,347.18 200.84,347.17 200.92,347.17 201.00,347.17 201.08,347.16 201.17,347.16 201.25,347.16 201.33,347.15 201.41,347.15 201.49,347.15 201.57,347.14 201.66,347.14 201.74,347.14 201.82,347.13 201.90,347.13 201.98,347.12 202.06,347.12 202.15,347.12 202.23,347.11 202.31,347.11 202.39,347.10 202.47,347.10 202.55,347.10 202.64,347.09 202.72,347.09 202.80,347.08 202.88,347.08 202.96,347.07 203.04,347.06 203.13,347.06 203.21,347.05 203.29,347.05 203.37,347.04 203.45,347.03 203.53,347.03 203.61,347.02 203.70,347.01 203.78,347.00 203.86,347.00 203.94,346.99 204.02,346.98 204.10,346.97 204.19,346.96 204.27,346.95 204.35,346.94 204.43,346.92 204.51,346.91 204.59,346.90 204.68,346.88 204.76,346.86 204.84,346.84 204.92,346.81 205.00,346.79 205.08,346.75 205.17,346.72 205.25,346.68 205.33,346.63 205.41,346.57 205.49,346.51 205.57,346.43 205.66,346.34 205.74,346.24 205.82,346.13 205.90,346.00 205.98,345.85 206.06,345.68 206.14,345.49 206.23,345.27 206.31,345.03 206.39,344.76 206.47,344.46 206.55,344.14 206.63,343.78 206.72,343.40 206.80,342.98 206.88,342.54 206.96,342.07 207.04,341.58 207.12,341.06 207.21,340.53 207.29,339.98 207.37,339.42 207.45,338.87 207.53,338.31 207.61,337.77 207.70,337.24 207.78,336.74 207.86,336.28 207.94,335.85 208.02,335.48 208.10,335.17 208.18,334.92 208.27,334.75 208.35,334.65 208.43,334.63 208.51,334.68 208.59,334.81 208.67,335.02 208.76,335.29 208.84,335.61 208.92,335.99 209.00,336.41 209.08,336.87 209.16,337.35 209.25,337.84 209.33,338.34 209.41,338.84 209.49,339.34 209.57,339.81 209.65,340.26 209.74,340.68 209.82,341.06 209.90,341.41 209.98,341.71 210.06,341.96 210.14,342.16 210.23,342.30 210.31,342.39 210.39,342.42 210.47,342.39 210.55,342.30 210.63,342.15 210.71,341.94 210.80,341.67 210.88,341.35 210.96,340.98 211.04,340.56 211.12,340.09 211.20,339.59 211.29,339.05 211.37,338.48 211.45,337.89 211.53,337.29 211.61,336.69 211.69,336.09 211.78,335.51 211.86,334.95 211.94,334.42 212.02,333.94 212.10,333.52 212.18,333.16 212.27,332.88 212.35,332.67 212.43,332.56 212.51,332.53 212.59,332.60 212.67,332.75 212.76,333.00 212.84,333.32 212.92,333.72 213.00,334.18 213.08,334.69 213.16,335.26 213.24,335.85 213.33,336.48 213.41,337.12 213.49,337.77 213.57,338.42 213.65,339.06 213.73,339.69 213.82,340.30 213.90,340.89 213.98,341.45 214.06,341.99 214.14,342.49 214.22,342.95 214.31,343.38 214.39,343.78 214.47,344.14 214.55,344.47 214.63,344.77 214.71,345.03 214.80,345.27 214.88,345.48 214.96,345.66 215.04,345.83 215.12,345.97 215.20,346.09 215.29,346.20 215.37,346.29 215.45,346.37 215.53,346.44 215.61,346.50 215.69,346.55 215.77,346.59 215.86,346.63 215.94,346.66 216.02,346.69 216.10,346.71 216.18,346.74 216.26,346.75 216.35,346.77 216.43,346.79 216.51,346.80 216.59,346.81 216.67,346.82 216.75,346.83 216.84,346.84 216.92,346.85 217.00,346.86 217.08,346.87 217.16,346.87 217.24,346.88 217.33,346.89 217.41,346.89 217.49,346.90 217.57,346.91 217.65,346.91 217.73,346.92 217.81,346.92 217.90,346.93 217.98,346.93 218.06,346.93 218.14,346.94 218.22,346.94 218.30,346.95 218.39,346.95 218.47,346.95 218.55,346.96 218.63,346.96 218.71,346.96 218.79,346.96 218.88,346.97 218.96,346.97 219.04,346.97 219.12,346.97 219.20,346.98 219.28,346.98 219.37,346.98 219.45,346.98 219.53,346.99 219.61,346.99 219.69,346.99 219.77,346.99 219.86,346.99 219.94,346.99 220.02,347.00 220.10,347.00 220.18,347.00 220.26,347.00 220.34,347.00 220.43,347.00 220.51,347.00 220.59,347.01 220.67,347.01 220.75,347.01 220.83,347.01 220.92,347.01 221.00,347.01 221.08,347.01 221.16,347.01 221.24,347.01 221.32,347.01 221.41,347.02 221.49,347.02 221.57,347.02 221.65,347.02 221.73,347.02 221.81,347.02 221.90,347.02 221.98,347.02 222.06,347.02 222.14,347.02 222.22,347.02 222.30,347.02 222.39,347.02 222.47,347.02 222.55,347.02 222.63,347.02 222.71,347.02 222.79,347.02 222.87,347.03 222.96,347.03 223.04,347.03 223.12,347.03 223.20,347.03 223.28,347.03 223.36,347.03 223.45,347.03 223.53,347.03 223.61,347.03 223.69,347.03 223.77,347.03 223.85,347.03 223.94,347.03 224.02,347.03 224.10,347.03 224.18,347.03 224.26,347.03 224.34,347.03 224.43,347.03 224.51,347.03 224.59,347.03 224.67,347.03 224.75,347.03 224.83,347.03 224.91,347.03 225.00,347.03 225.08,347.03 225.16,347.03 225.24,347.03 225.32,347.03 225.40,347.03 225.49,347.03 225.57,347.03 225.65,347.03 225.73,347.03 225.81,347.03 225.89,347.03 225.98,347.03 226.06,347.03 226.14,347.03 226.22,347.03 226.30,347.03 226.38,347.03 226.47,347.03 226.55,347.03 226.63,347.03 226.71,347.03 226.79,347.03 226.87,347.03 226.96,347.03 227.04,347.03 227.12,347.03 227.20,347.03 227.28,347.03 227.36,347.03 227.44,347.03 227.53,347.02 227.61,347.02 227.69,347.02 227.77,347.02 227.85,347.02 227.93,347.02 228.02,347.02 228.10,347.02 228.18,347.02 228.26,347.02 228.34,347.02 228.42,347.02 228.51,347.02 228.59,347.02 228.67,347.02 228.75,347.02 228.83,347.02 228.91,347.02 229.00,347.02 229.08,347.02 229.16,347.02 229.24,347.02 229.32,347.02 229.40,347.02 229.49,347.02 229.57,347.02 229.65,347.02 229.73,347.02 229.81,347.02 229.89,347.02 229.97,347.02 230.06,347.02 230.14,347.02 230.22,347.02 230.30,347.02 230.38,347.02 230.46,347.02 230.55,347.02 230.63,347.02 230.71,347.02 230.79,347.02 230.87,347.02 230.95,347.02 231.04,347.02 231.12,347.02 231.20,347.02 231.28,347.02 231.36,347.02 231.44,347.02 231.53,347.02 231.61,347.02 231.69,347.02 231.77,347.02 231.85,347.02 231.93,347.02 232.02,347.02 232.10,347.02 232.18,347.02 232.26,347.02 232.34,347.02 232.42,347.02 232.50,347.02 232.59,347.02 232.67,347.02 232.75,347.02 232.83,347.02 232.91,347.02 232.99,347.02 233.08,347.02 233.16,347.02 233.24,347.02 233.32,347.02 233.40,347.02 233.48,347.02 233.57,347.02 233.65,347.02 233.73,347.02 233.81,347.02 233.89,347.02 233.97,347.02 234.06,347.02 234.14,347.02 234.22,347.02 234.30,347.02 234.38,347.02 234.46,347.02 234.54,347.02 234.63,347.02 234.71,347.02 234.79,347.02 234.87,347.02 234.95,347.02 235.03,347.02 235.12,347.02 235.20,347.02 235.28,347.02 235.36,347.02 235.44,347.02 235.52,347.02 235.61,347.02 235.69,347.02 235.77,347.02 235.85,347.02 235.93,347.02 236.01,347.02 236.10,347.02 236.18,347.02 236.26,347.02 236.34,347.02 236.42,347.02 236.50,347.02 236.59,347.02 236.67,347.02 236.75,347.02 236.83,347.02 236.91,347.01 236.99,347.01 237.07,347.01 237.16,347.01 237.24,347.01 237.32,347.01 237.40,347.01 237.48,347.01 237.56,347.01 237.65,347.01 237.73,347.01 237.81,347.01 237.89,347.01 237.97,347.01 238.05,347.01 238.14,347.01 238.22,347.01 238.30,347.00 238.38,347.00 238.46,347.00 238.54,347.00 238.63,347.00 238.71,347.00 238.79,347.00 238.87,347.00 238.95,346.99 239.03,346.99 239.12,346.99 239.20,346.99 239.28,346.99 239.36,346.98 239.44,346.98 239.52,346.98 239.60,346.98 239.69,346.98 239.77,346.97 239.85,346.97 239.93,346.97 240.01,346.96 240.09,346.96 240.18,346.96 240.26,346.95 240.34,346.95 240.42,346.94 240.50,346.94 240.58,346.93 240.67,346.93 240.75,346.92 240.83,346.92 240.91,346.91 240.99,346.90 241.07,346.89 241.16,346.88 241.24,346.87 241.32,346.86 241.40,346.85 241.48,346.83 241.56,346.81 241.65,346.80 241.73,346.77 241.81,346.75 241.89,346.72 241.97,346.68 242.05,346.64 242.13,346.60 242.22,346.55 242.30,346.49 242.38,346.42 242.46,346.34 242.54,346.25 242.62,346.15 242.71,346.03 242.79,345.90 242.87,345.76 242.95,345.59 243.03,345.41 243.11,345.21 243.20,344.98 243.28,344.74 243.36,344.48 243.44,344.19 243.52,343.88 243.60,343.55 243.69,343.20 243.77,342.84 243.85,342.45 243.93,342.06 244.01,341.65 244.09,341.23 244.17,340.81 244.26,340.38 244.34,339.96 244.42,339.56 244.50,339.16 244.58,338.79 244.66,338.45 244.75,338.13 244.83,337.86 244.91,337.64 244.99,337.46 245.07,337.34 245.15,337.28 245.24,337.27 245.32,337.33 245.40,337.45 245.48,337.62 245.56,337.84 245.64,338.11 245.73,338.42 245.81,338.76 245.89,339.13 245.97,339.52 246.05,339.93 246.13,340.35 246.22,340.78 246.30,341.20 246.38,341.62 246.46,342.03 246.54,342.43 246.62,342.82 246.70,343.19 246.79,343.55 246.87,343.88 246.95,344.19 247.03,344.48 247.11,344.75 247.19,345.00 247.28,345.22 247.36,345.43 247.44,345.62 247.52,345.79 247.60,345.94 247.68,346.07 247.77,346.19 247.85,346.29 247.93,346.39 248.01,346.47 248.09,346.54 248.17,346.60 248.26,346.66 248.34,346.70 248.42,346.75 248.50,346.78 248.58,346.81 248.66,346.84 248.75,346.87 248.83,346.89 248.91,346.91 248.99,346.92 249.07,346.94 249.15,346.95 249.23,346.96 249.32,346.98 249.40,346.99 249.48,346.99 249.56,347.00 249.64,347.01 249.72,347.02 249.81,347.03 249.89,347.03 249.97,347.04 250.05,347.05 250.13,347.05 250.21,347.06 250.30,347.06 250.38,347.07 250.46,347.07 250.54,347.08 250.62,347.08 250.70,347.09 250.79,347.09 250.87,347.09 250.95,347.10 251.03,347.10 251.11,347.10 251.19,347.11 251.28,347.11 251.36,347.11 251.44,347.12 251.52,347.12 251.60,347.12 251.68,347.13 251.76,347.13 251.85,347.13 251.93,347.13 252.01,347.14 252.09,347.14 252.17,347.14 252.25,347.14 252.34,347.15 252.42,347.15 252.50,347.15 252.58,347.15 252.66,347.15 252.74,347.16 252.83,347.16 252.91,347.16 252.99,347.16 253.07,347.16 253.15,347.16 253.23,347.16 253.32,347.17 253.40,347.17 253.48,347.17 253.56,347.17 253.64,347.17 253.72,347.17 253.80,347.17 253.89,347.17 253.97,347.17 254.05,347.18 254.13,347.18 254.21,347.18 254.29,347.18 254.38,347.18 254.46,347.18 254.54,347.18 254.62,347.18 254.70,347.18 254.78,347.18 254.87,347.18 254.95,347.18 255.03,347.18 255.11,347.18 255.19,347.18 255.27,347.18 255.36,347.18 255.44,347.18 255.52,347.18 255.60,347.18 255.68,347.18 255.76,347.18 255.85,347.18 255.93,347.18 256.01,347.18 256.09,347.18 256.17,347.17 256.25,347.17 256.33,347.17 256.42,347.17 256.50,347.16 256.58,347.16 256.66,347.16 256.74,347.15 256.82,347.15 256.91,347.14 256.99,347.13 257.07,347.13 257.15,347.12 257.23,347.11 257.31,347.10 257.40,347.08 257.48,347.07 257.56,347.06 257.64,347.04 257.72,347.02 257.80,347.00 257.89,346.97 257.97,346.95 258.05,346.92 258.13,346.89 258.21,346.86 258.29,346.83 258.38,346.79 258.46,346.75 258.54,346.71 258.62,346.66 258.70,346.62 258.78,346.57 258.86,346.52 258.95,346.47 259.03,346.42 259.11,346.36 259.19,346.31 259.27,346.25 259.35,346.20 259.44,346.14 259.52,346.09 259.60,346.04 259.68,345.99 259.76,345.94 259.84,345.90 259.93,345.86 260.01,345.83 260.09,345.80 260.17,345.78 260.25,345.76 260.33,345.75 260.42,345.75 260.50,345.76 260.58,345.77 260.66,345.79 260.74,345.81 260.82,345.84 260.91,345.88 260.99,345.92 261.07,345.96 261.15,346.01 261.23,346.06 261.31,346.11 261.39,346.16 261.48,346.22 261.56,346.27 261.64,346.33 261.72,346.38 261.80,346.44 261.88,346.49 261.97,346.54 262.05,346.59 262.13,346.64 262.21,346.68 262.29,346.73 262.37,346.77 262.46,346.81 262.54,346.84 262.62,346.88 262.70,346.91 262.78,346.94 262.86,346.96 262.95,346.99 263.03,347.01 263.11,347.03 263.19,347.05 263.27,347.06 263.35,347.08 263.43,347.09 263.52,347.11 263.60,347.12 263.68,347.13 263.76,347.13 263.84,347.14 263.92,347.15 264.01,347.15 264.09,347.16 264.17,347.16 264.25,347.17 264.33,347.17 264.41,347.17 264.50,347.17 264.58,347.18 264.66,347.18 264.74,347.18 264.82,347.18 264.90,347.18 264.99,347.18 265.07,347.18 265.15,347.18 265.23,347.19 265.31,347.19 265.39,347.19 265.48,347.19 265.56,347.19 265.64,347.19 265.72,347.19 265.80,347.19 265.88,347.19 265.96,347.18 266.05,347.18 266.13,347.18 266.21,347.18 266.29,347.18 266.37,347.18 266.45,347.18 266.54,347.18 266.62,347.18 266.70,347.18 266.78,347.18 266.86,347.18 266.94,347.18 267.03,347.17 267.11,347.17 267.19,347.17 267.27,347.17 267.35,347.17 267.43,347.17 267.52,347.17 267.60,347.16 267.68,347.16 267.76,347.16 267.84,347.16 267.92,347.16 268.01,347.16 268.09,347.15 268.17,347.15 268.25,347.15 268.33,347.15 268.41,347.15 268.49,347.14 268.58,347.14 268.66,347.14 268.74,347.14 268.82,347.14 268.90,347.13 268.98,347.13 269.07,347.13 269.15,347.13 269.23,347.12 269.31,347.12 269.39,347.12 269.47,347.11 269.56,347.11 269.64,347.11 269.72,347.11 269.80,347.10 269.88,347.10 269.96,347.10 270.05,347.09 270.13,347.09 270.21,347.09 270.29,347.08 270.37,347.08 270.45,347.08 270.53,347.07 270.62,347.07 270.70,347.06 270.78,347.06 270.86,347.06 270.94,347.05 271.02,347.05 271.11,347.04 271.19,347.04 271.27,347.03 271.35,347.03 271.43,347.02 271.51,347.02 271.60,347.02 271.68,347.01 271.76,347.01 271.84,347.00 271.92,346.99 272.00,346.99 272.09,346.98 272.17,346.98 272.25,346.97 272.33,346.97 272.41,346.96 272.49,346.95 272.58,346.95 272.66,346.94 272.74,346.94 272.82,346.93 272.90,346.92 272.98,346.92 273.06,346.91 273.15,346.90 273.23,346.89 273.31,346.89 273.39,346.88 273.47,346.87 273.55,346.86 273.64,346.86 273.72,346.85 273.80,346.84 273.88,346.83 273.96,346.82 274.04,346.81 274.13,346.80 274.21,346.80 274.29,346.79 274.37,346.78 274.45,346.77 274.53,346.76 274.62,346.75 274.70,346.74 274.78,346.73 274.86,346.72 274.94,346.70 275.02,346.69 275.11,346.68 275.19,346.67 275.27,346.66 275.35,346.65 275.43,346.63 275.51,346.62 275.59,346.61 275.68,346.59 275.76,346.58 275.84,346.57 275.92,346.55 276.00,346.54 276.08,346.52 276.17,346.51 276.25,346.49 276.33,346.48 276.41,346.46 276.49,346.44 276.57,346.43 276.66,346.41 276.74,346.39 276.82,346.37 276.90,346.36 276.98,346.34 277.06,346.32 277.15,346.30 277.23,346.28 277.31,346.26 277.39,346.23 277.47,346.21 277.55,346.19 277.64,346.17 277.72,346.14 277.80,346.12 277.88,346.10 277.96,346.07 278.04,346.05 278.12,346.02 278.21,345.99 278.29,345.96 278.37,345.94 278.45,345.91 278.53,345.88 278.61,345.85 278.70,345.81 278.78,345.78 278.86,345.75 278.94,345.71 279.02,345.68 279.10,345.64 279.19,345.61 279.27,345.57 279.35,345.53 279.43,345.49 279.51,345.45 279.59,345.40 279.68,345.36 279.76,345.31 279.84,345.27 279.92,345.22 280.00,345.17 280.08,345.12 280.16,345.07 280.25,345.01 280.33,344.96 280.41,344.90 280.49,344.84 280.57,344.78 280.65,344.71 280.74,344.65 280.82,344.58 280.90,344.51 280.98,344.44 281.06,344.36 281.14,344.29 281.23,344.21 281.31,344.12 281.39,344.04 281.47,343.95 281.55,343.86 281.63,343.76 281.72,343.66 281.80,343.56 281.88,343.45 281.96,343.34 282.04,343.23 282.12,343.11 282.21,342.98 282.29,342.85 282.37,342.72 282.45,342.58 282.53,342.43 282.61,342.28 282.69,342.11 282.78,341.95 282.86,341.77 282.94,341.59 283.02,341.39 283.10,341.19 283.18,340.97 283.27,340.74 283.35,340.49 283.43,340.23 283.51,339.96 283.59,339.66 283.67,339.34 283.76,338.99 283.84,338.61 283.92,338.19 284.00,337.74 284.08,337.23 284.16,336.68 284.25,336.05 284.33,335.36 284.41,334.58 284.49,333.71 284.57,332.72 284.65,331.61 284.74,330.35 284.82,328.93 284.90,327.32 284.98,325.50 285.06,323.45 285.14,321.13 285.22,318.53 285.31,315.60 285.39,312.33 285.47,308.67 285.55,304.61 285.63,300.10 285.71,295.12 285.80,289.64 285.88,283.65 285.96,277.11 286.04,270.02 286.12,262.35 286.20,254.12 286.29,245.32 286.37,235.95 286.45,226.05 286.53,215.64 286.61,204.76 286.69,193.46 286.78,181.80 286.86,169.85 286.94,157.69 287.02,145.42 287.10,133.15 287.18,121.00 287.27,109.09 287.35,97.57 287.43,86.60 287.51,76.33 287.59,66.92 287.67,58.55 287.75,51.36 287.84,45.50 287.92,41.11 288.00,38.28 288.08,37.07 288.16,37.53 288.24,39.62 288.33,43.32 288.41,48.52 288.49,55.12 288.57,62.98 288.65,71.94 288.73,81.85 288.82,92.53 288.90,103.82 288.98,115.58 289.06,127.64 289.14,139.89 289.22,152.18 289.31,164.42 289.39,176.49 289.47,188.30 289.55,199.79 289.63,210.89 289.71,221.53 289.79,231.68 289.88,241.31 289.96,250.38 290.04,258.89 290.12,266.83 290.20,274.20 290.28,281.00 290.37,287.26 290.45,292.98 290.53,298.20 290.61,302.93 290.69,307.21 290.77,311.06 290.86,314.52 290.94,317.61 291.02,320.37 291.10,322.83 291.18,325.01 291.26,326.94 291.35,328.66 291.43,330.17 291.51,331.52 291.59,332.71 291.67,333.76 291.75,334.69 291.84,335.53 291.92,336.27 292.00,336.93 292.08,337.53 292.16,338.07 292.24,338.55 292.32,339.00 292.41,339.40 292.49,339.78 292.57,340.12 292.65,340.44 292.73,340.74 292.81,341.01 292.90,341.28 292.98,341.52 293.06,341.75 293.14,341.97 293.22,342.18 293.30,342.38 293.39,342.57 293.47,342.75 293.55,342.93 293.63,343.09 293.71,343.25 293.79,343.41 293.88,343.55 293.96,343.70 294.04,343.83 294.12,343.96 294.20,344.09 294.28,344.21 294.37,344.33 294.45,344.44 294.53,344.55 294.61,344.66 294.69,344.76 294.77,344.86 294.85,344.96 294.94,345.05 295.02,345.14 295.10,345.23 295.18,345.31 295.26,345.39 295.34,345.47 295.43,345.55 295.51,345.62 295.59,345.70 295.67,345.77 295.75,345.83 295.83,345.90 295.92,345.97 296.00,346.03 296.08,346.09 296.16,346.15 296.24,346.21 296.32,346.26 296.41,346.32 296.49,346.37 296.57,346.42 296.65,346.47 296.73,346.52 296.81,346.57 296.90,346.62 296.98,346.66 297.06,346.71 297.14,346.75 297.22,346.79 297.30,346.83 297.38,346.87 297.47,346.91 297.55,346.95 297.63,346.99 297.71,347.03 297.79,347.06 297.87,347.10 297.96,347.13 298.04,347.17 298.12,347.20 298.20,347.23 298.28,347.26 298.36,347.29 298.45,347.32 298.53,347.35 298.61,347.38 298.69,347.41 298.77,347.44 298.85,347.46 298.94,347.49 299.02,347.52 299.10,347.54 299.18,347.57 299.26,347.59 299.34,347.61 299.42,347.64 299.51,347.66 299.59,347.68 299.67,347.70 299.75,347.73 299.83,347.75 299.91,347.77 300.00,347.79 300.08,347.81 300.16,347.83 300.24,347.85 300.32,347.87 300.40,347.88 300.49,347.90 300.57,347.92 300.65,347.94 300.73,347.96 300.81,347.97 300.89,347.99 300.98,348.01 301.06,348.02 301.14,348.04 301.22,348.05 301.30,348.07 301.38,348.08 301.47,348.10 301.55,348.11 301.63,348.13 301.71,348.14 301.79,348.15 301.87,348.17 301.95,348.18 302.04,348.19 302.12,348.21 302.20,348.22 302.28,348.23 302.36,348.24 302.44,348.26 302.53,348.27 302.61,348.28 302.69,348.29 302.77,348.30 302.85,348.31 302.93,348.32 303.02,348.34 303.10,348.35 303.18,348.36 303.26,348.37 303.34,348.38 303.42,348.39 303.51,348.40 303.59,348.41 303.67,348.42 303.75,348.43 303.83,348.44 303.91,348.44 304.00,348.45 304.08,348.46 304.16,348.47 304.24,348.48 304.32,348.49 304.40,348.50 304.48,348.51 304.57,348.51 304.65,348.52 304.73,348.53 304.81,348.54 304.89,348.55 304.97,348.55 305.06,348.56 305.14,348.57 305.22,348.58 305.30,348.58 305.38,348.59 305.46,348.60 305.55,348.61 305.63,348.61 305.71,348.62 305.79,348.63 305.87,348.63 305.95,348.64 306.04,348.65 306.12,348.65 306.20,348.66 306.28,348.67 306.36,348.67 306.44,348.68 306.52,348.68 306.61,348.69 306.69,348.70 306.77,348.70 306.85,348.71 306.93,348.71 307.01,348.72 307.10,348.73 307.18,348.73 307.26,348.74 307.34,348.74 307.42,348.75 307.50,348.75 307.59,348.76 307.67,348.77 307.75,348.77 307.83,348.78 307.91,348.78 307.99,348.79 308.08,348.79 308.16,348.80 308.24,348.80 308.32,348.81 308.40,348.81 308.48,348.82 308.57,348.82 308.65,348.83 308.73,348.83 308.81,348.83 308.89,348.84 308.97,348.84 309.05,348.85 309.14,348.85 309.22,348.86 309.30,348.86 309.38,348.87 309.46,348.87 309.54,348.88 309.63,348.88 309.71,348.88 309.79,348.89 309.87,348.89 309.95,348.90 310.03,348.90 310.12,348.90 310.20,348.91 310.28,348.91 310.36,348.92 310.44,348.92 310.52,348.92 310.61,348.93 310.69,348.93 310.77,348.93 310.85,348.94 310.93,348.94 311.01,348.95 311.10,348.95 311.18,348.95 311.26,348.96 311.34,348.96 311.42,348.96 311.50,348.97 311.58,348.97 311.67,348.97 311.75,348.98 311.83,348.98 311.91,348.98 311.99,348.99 312.07,348.99 312.16,348.99 312.24,349.00 312.32,349.00 312.40,349.00 312.48,349.01 312.56,349.01 312.65,349.01 312.73,349.01 312.81,349.02 312.89,349.02 312.97,349.02 313.05,349.03 313.14,349.03 313.22,349.03 313.30,349.03 313.38,349.04 313.46,349.04 313.54,349.04 313.63,349.04 313.71,349.05 313.79,349.05 313.87,349.05 313.95,349.05 314.03,349.06 314.11,349.06 314.20,349.06 314.28,349.06 314.36,349.07 314.44,349.07 314.52,349.07 314.60,349.07 314.69,349.08 314.77,349.08 314.85,349.08 314.93,349.08 315.01,349.08 315.09,349.09 315.18,349.09 315.26,349.09 315.34,349.09 315.42,349.09 315.50,349.10 315.58,349.10 315.67,349.10 315.75,349.10 315.83,349.10 315.91,349.10 315.99,349.11 316.07,349.11 316.15,349.11 316.24,349.11 316.32,349.11 316.40,349.11 316.48,349.12 316.56,349.12 316.64,349.12 316.73,349.12 316.81,349.12 316.89,349.12 316.97,349.12 317.05,349.13 317.13,349.13 317.22,349.13 317.30,349.13 317.38,349.13 317.46,349.13 317.54,349.13 317.62,349.14 317.71,349.14 317.79,349.14 317.87,349.14 317.95,349.14 318.03,349.14 318.11,349.14 318.20,349.14 318.28,349.14 318.36,349.14 318.44,349.15 318.52,349.15 318.60,349.15 318.68,349.15 318.77,349.15 318.85,349.15 318.93,349.15 319.01,349.15 319.09,349.15 319.17,349.15 319.26,349.15 319.34,349.15 319.42,349.15 319.50,349.16 319.58,349.16 319.66,349.16 319.75,349.16 319.83,349.16 319.91,349.16 319.99,349.16 320.07,349.16 320.15,349.16 320.24,349.16 320.32,349.16 320.40,349.16 320.48,349.16 320.56,349.16 320.64,349.16 320.73,349.16 320.81,349.16 320.89,349.16 320.97,349.16 321.05,349.16 321.13,349.16 321.21,349.16 321.30,349.16 321.38,349.16 321.46,349.16 321.54,349.16 321.62,349.16 321.70,349.16 321.79,349.16 321.87,349.16 321.95,349.16 322.03,349.15 322.11,349.15 322.19,349.15 322.28,349.15 322.36,349.15 322.44,349.15 322.52,349.15 322.60,349.15 322.68,349.15 322.77,349.14 322.85,349.14 322.93,349.14 323.01,349.14 323.09,349.14 323.17,349.14 323.26,349.13 323.34,349.13 323.42,349.13 323.50,349.13 323.58,349.13 323.66,349.12 323.74,349.12 323.83,349.12 323.91,349.11 323.99,349.11 324.07,349.11 324.15,349.10 324.23,349.10 324.32,349.10 324.40,349.09 324.48,349.09 324.56,349.08 324.64,349.08 324.72,349.07 324.81,349.06 324.89,349.06 324.97,349.05 325.05,349.04 325.13,349.03 325.21,349.02 325.30,349.01 325.38,348.99 325.46,348.98 325.54,348.96 325.62,348.94 325.70,348.92 325.78,348.89 325.87,348.86 325.95,348.83 326.03,348.80 326.11,348.75 326.19,348.71 326.27,348.66 326.36,348.60 326.44,348.53 326.52,348.46 326.60,348.37 326.68,348.28 326.76,348.18 326.85,348.07 326.93,347.94 327.01,347.81 327.09,347.66 327.17,347.50 327.25,347.33 327.34,347.15 327.42,346.95 327.50,346.74 327.58,346.52 327.66,346.29 327.74,346.05 327.83,345.80 327.91,345.54 327.99,345.28 328.07,345.01 328.15,344.74 328.23,344.48 328.31,344.21 328.40,343.96 328.48,343.71 328.56,343.48 328.64,343.26 328.72,343.06 328.80,342.89 328.89,342.74 328.97,342.63 329.05,342.54 329.13,342.50 329.21,342.48 329.29,342.51 329.38,342.57 329.46,342.66 329.54,342.79 329.62,342.94 329.70,343.12 329.78,343.33 329.87,343.55 329.95,343.79 330.03,344.04 330.11,344.30 330.19,344.57 330.27,344.83 330.36,345.10 330.44,345.37 330.52,345.63 330.60,345.89 330.68,346.13 330.76,346.37 330.84,346.60 330.93,346.82 331.01,347.02 331.09,347.22 331.17,347.40 331.25,347.57 331.33,347.72 331.42,347.87 331.50,348.00 331.58,348.12 331.66,348.23 331.74,348.33 331.82,348.42 331.91,348.50 331.99,348.57 332.07,348.64 332.15,348.69 332.23,348.74 332.31,348.79 332.40,348.83 332.48,348.86 332.56,348.90 332.64,348.92 332.72,348.95 332.80,348.97 332.89,348.99 332.97,349.01 333.05,349.02 333.13,349.03 333.21,349.05 333.29,349.06 333.37,349.07 333.46,349.07 333.54,349.08 333.62,349.09 333.70,349.10 333.78,349.10 333.86,349.11 333.95,349.11 334.03,349.12 334.11,349.12 334.19,349.12 334.27,349.13 334.35,349.13 334.44,349.13 334.52,349.13 334.60,349.14 334.68,349.14 334.76,349.14 334.84,349.14 334.93,349.14 335.01,349.14 335.09,349.14 335.17,349.13 335.25,349.13 335.33,349.13 335.41,349.12 335.50,349.12 335.58,349.11 335.66,349.11 335.74,349.10 335.82,349.09 335.90,349.08 335.99,349.07 336.07,349.06 336.15,349.05 336.23,349.03 336.31,349.01 336.39,349.00 336.48,348.98 336.56,348.96 336.64,348.94 336.72,348.91 336.80,348.89 336.88,348.86 336.97,348.84 337.05,348.81 337.13,348.78 337.21,348.76 337.29,348.73 337.37,348.70 337.46,348.67 337.54,348.64 337.62,348.61 337.70,348.58 337.78,348.56 337.86,348.53 337.94,348.51 338.03,348.49 338.11,348.47 338.19,348.46 338.27,348.44 338.35,348.44 338.43,348.43 338.52,348.43 338.60,348.43 338.68,348.44 338.76,348.45 338.84,348.46 338.92,348.47 339.01,348.49 339.09,348.51 339.17,348.53 339.25,348.56 339.33,348.58 339.41,348.61 339.50,348.64 339.58,348.67 339.66,348.69 339.74,348.72 339.82,348.75 339.90,348.78 339.99,348.80 340.07,348.83 340.15,348.85 340.23,348.88 340.31,348.90 340.39,348.92 340.47,348.94 340.56,348.96 340.64,348.97 340.72,348.99 340.80,349.00 340.88,349.02 340.96,349.03 341.05,349.04 341.13,349.05 341.21,349.05 341.29,349.06 341.37,349.06 341.45,349.07 341.54,349.07 341.62,349.07 341.70,349.07 341.78,349.07 341.86,349.07 341.94,349.07 342.03,349.07 342.11,349.07 342.19,349.06 342.27,349.06 342.35,349.05 342.43,349.05 342.52,349.04 342.60,349.03 342.68,349.02 342.76,349.02 342.84,349.00 342.92,348.99 343.00,348.98 343.09,348.96 343.17,348.95 343.25,348.93 343.33,348.90 343.41,348.88 343.49,348.85 343.58,348.82 343.66,348.78 343.74,348.73 343.82,348.68 343.90,348.62 343.98,348.55 344.07,348.47 344.15,348.37 344.23,348.26 344.31,348.14 344.39,348.00 344.47,347.84 344.56,347.66 344.64,347.45 344.72,347.22 344.80,346.97 344.88,346.69 344.96,346.37 345.04,346.03 345.13,345.66 345.21,345.25 345.29,344.81 345.37,344.35 345.45,343.85 345.53,343.33 345.62,342.78 345.70,342.21 345.78,341.62 345.86,341.02 345.94,340.41 346.02,339.80 346.11,339.19 346.19,338.60 346.27,338.02 346.35,337.48 346.43,336.97 346.51,336.50 346.60,336.08 346.68,335.73 346.76,335.44 346.84,335.23 346.92,335.09 347.00,335.03 347.09,335.06 347.17,335.16 347.25,335.34 347.33,335.58 347.41,335.89 347.49,336.26 347.57,336.67 347.66,337.12 347.74,337.59 347.82,338.08 347.90,338.57 347.98,339.06 348.06,339.55 348.15,340.01 348.23,340.44 348.31,340.84 348.39,341.20 348.47,341.50 348.55,341.76 348.64,341.96 348.72,342.10 348.80,342.17 348.88,342.19 348.96,342.13 349.04,342.01 349.13,341.83 349.21,341.58 349.29,341.28 349.37,340.92 349.45,340.51 349.53,340.06 349.62,339.57 349.70,339.05 349.78,338.50 349.86,337.94 349.94,337.38 350.02,336.82 350.10,336.28 350.19,335.76 350.27,335.28 350.35,334.85 350.43,334.47 350.51,334.16 350.59,333.92 350.68,333.77 350.76,333.70 350.84,333.71 350.92,333.82 351.00,334.01 351.08,334.29 351.17,334.65 351.25,335.07 351.33,335.56 351.41,336.10 351.49,336.68 351.57,337.30 351.66,337.94 351.74,338.60 351.82,339.27 351.90,339.95 351.98,340.61 352.06,341.27 352.14,341.90 352.23,342.52 352.31,343.11 352.39,343.67 352.47,344.20 352.55,344.70 352.63,345.16 352.72,345.59 352.80,345.98 352.88,346.34 352.96,346.67 353.04,346.97 353.12,347.23 353.21,347.47 353.29,347.68 353.37,347.87 353.45,348.04 353.53,348.18 353.61,348.31 353.70,348.42 353.78,348.52 353.86,348.60 353.94,348.67 354.02,348.74 354.10,348.79 354.19,348.84 354.27,348.88 354.35,348.92 354.43,348.95 354.51,348.98 354.59,349.00 354.67,349.02 354.76,349.04 354.84,349.06 354.92,349.08 355.00,349.09 355.08,349.10 355.16,349.12 355.25,349.13 355.33,349.14 355.41,349.15 355.49,349.16 355.57,349.17 355.65,349.17 355.74,349.18 355.82,349.19 355.90,349.20 355.98,349.20 356.06,349.21 356.14,349.22 356.23,349.22 356.31,349.23 356.39,349.23 356.47,349.24 356.55,349.24 356.63,349.25 356.72,349.25 356.80,349.26 356.88,349.26 356.96,349.27 357.04,349.27 357.12,349.28 357.20,349.28 357.29,349.28 357.37,349.29 357.45,349.29 357.53,349.29 357.61,349.30 357.69,349.30 357.78,349.30 357.86,349.31 357.94,349.31 358.02,349.31 358.10,349.31 358.18,349.32 358.27,349.32 358.35,349.32 358.43,349.32 358.51,349.33 358.59,349.33 358.67,349.33 358.76,349.33 358.84,349.34 358.92,349.34 359.00,349.34 359.08,349.34 359.16,349.34 359.25,349.34 359.33,349.35 359.41,349.35 359.49,349.35 359.57,349.35 359.65,349.35 359.73,349.35 359.82,349.35 359.90,349.36 359.98,349.36 360.06,349.36 360.14,349.36 360.22,349.36 360.31,349.36 360.39,349.36 360.47,349.36 360.55,349.36 360.63,349.36 360.71,349.36 360.80,349.37 360.88,349.37 360.96,349.37 361.04,349.37 361.12,349.37 361.20,349.37 361.29,349.37 361.37,349.37 361.45,349.37 361.53,349.37 361.61,349.37 361.69,349.37 361.77,349.37 361.86,349.37 361.94,349.37 362.02,349.37 362.10,349.37 362.18,349.37 362.26,349.37 362.35,349.37 362.43,349.37 362.51,349.37 362.59,349.37 362.67,349.37 362.75,349.37 362.84,349.37 362.92,349.37 363.00,349.37 363.08,349.37 363.16,349.37 363.24,349.37 363.33,349.36 363.41,349.36 363.49,349.36 363.57,349.36 363.65,349.36 363.73,349.36 363.82,349.36 363.90,349.36 363.98,349.36 364.06,349.35 364.14,349.35 364.22,349.35 364.30,349.35 364.39,349.35 364.47,349.35 364.55,349.35 364.63,349.34 364.71,349.34 364.79,349.34 364.88,349.34 364.96,349.34 365.04,349.33 365.12,349.33 365.20,349.33 365.28,349.33 365.37,349.32 365.45,349.32 365.53,349.32 365.61,349.31 365.69,349.31 365.77,349.31 365.86,349.30 365.94,349.30 366.02,349.30 366.10,349.29 366.18,349.29 366.26,349.29 366.35,349.28 366.43,349.28 366.51,349.27 366.59,349.27 366.67,349.26 366.75,349.26 366.83,349.25 366.92,349.25 367.00,349.24 367.08,349.24 367.16,349.23 367.24,349.22 367.32,349.22 367.41,349.21 367.49,349.20 367.57,349.19 367.65,349.19 367.73,349.18 367.81,349.17 367.90,349.16 367.98,349.15 368.06,349.14 368.14,349.13 368.22,349.12 368.30,349.11 368.39,349.10 368.47,349.09 368.55,349.07 368.63,349.06 368.71,349.05 368.79,349.03 368.88,349.02 368.96,349.00 369.04,348.98 369.12,348.97 369.20,348.95 369.28,348.93 369.36,348.91 369.45,348.88 369.53,348.86 369.61,348.83 369.69,348.81 369.77,348.78 369.85,348.74 369.94,348.71 370.02,348.67 370.10,348.62 370.18,348.57 370.26,348.52 370.34,348.45 370.43,348.38 370.51,348.31 370.59,348.22 370.67,348.12 370.75,348.00 370.83,347.87 370.92,347.72 371.00,347.55 371.08,347.36 371.16,347.15 371.24,346.90 371.32,346.63 371.40,346.32 371.49,345.97 371.57,345.59 371.65,345.16 371.73,344.68 371.81,344.16 371.89,343.59 371.98,342.96 372.06,342.28 372.14,341.55 372.22,340.76 372.30,339.91 372.38,339.02 372.47,338.08 372.55,337.09 372.63,336.05 372.71,334.99 372.79,333.89 372.87,332.77 372.96,331.65 373.04,330.52 373.12,329.40 373.20,328.31 373.28,327.25 373.36,326.25 373.45,325.32 373.53,324.47 373.61,323.73 373.69,323.10 373.77,322.60 373.85,322.25 373.93,322.04 374.02,322.00 374.10,322.11 374.18,322.37 374.26,322.79 374.34,323.34 374.42,324.02 374.51,324.81 374.59,325.69 374.67,326.66 374.75,327.68 374.83,328.76 374.91,329.86 375.00,330.99 375.08,332.12 375.16,333.24 375.24,334.35 375.32,335.44 375.40,336.49 375.49,337.51 375.57,338.48 375.65,339.41 375.73,340.28 375.81,341.10 375.89,341.87 375.98,342.58 376.06,343.24 376.14,343.85 376.22,344.40 376.30,344.91 376.38,345.37 376.46,345.78 376.55,346.15 376.63,346.48 376.71,346.78 376.79,347.04 376.87,347.27 376.95,347.48 377.04,347.66 377.12,347.82 377.20,347.96 377.28,348.09 377.36,348.20 377.44,348.29 377.53,348.38 377.61,348.46 377.69,348.52 377.77,348.58 377.85,348.64 377.93,348.68 378.02,348.73 378.10,348.77 378.18,348.80 378.26,348.84 378.34,348.87 378.42,348.90 378.51,348.92 378.59,348.95 378.67,348.97 378.75,348.99 378.83,349.01 378.91,349.03 378.99,349.05 379.08,349.07 379.16,349.08 379.24,349.10 379.32,349.11 379.40,349.13 379.48,349.14 379.57,349.16 379.65,349.17 379.73,349.18 379.81,349.19 379.89,349.20 379.97,349.21 380.06,349.22 380.14,349.23 380.22,349.24 380.30,349.25 380.38,349.26 380.46,349.27 380.55,349.28 380.63,349.29 380.71,349.30 380.79,349.30 380.87,349.31 380.95,349.32 381.03,349.32 381.12,349.33 381.20,349.34 381.28,349.34 381.36,349.35 381.44,349.35 381.52,349.36 381.61,349.37 381.69,349.37 381.77,349.38 381.85,349.38 381.93,349.39 382.01,349.39 382.10,349.39 382.18,349.40 382.26,349.40 382.34,349.41 382.42,349.41 382.50,349.41 382.59,349.42 382.67,349.42 382.75,349.42 382.83,349.43 382.91,349.43 382.99,349.43 383.08,349.44 383.16,349.44 383.24,349.44 383.32,349.45 383.40,349.45 383.48,349.45 383.56,349.45 383.65,349.46 383.73,349.46 383.81,349.46 383.89,349.46 383.97,349.47 384.05,349.47 384.14,349.47 384.22,349.47 384.30,349.47 384.38,349.48 384.46,349.48 384.54,349.48 384.63,349.48 384.71,349.48 384.79,349.48 384.87,349.49 384.95,349.49 385.03,349.49 385.12,349.49 385.20,349.49 385.28,349.49 385.36,349.49 385.44,349.49 385.52,349.49 385.61,349.50 385.69,349.50 385.77,349.50 385.85,349.50 385.93,349.50 386.01,349.50 386.09,349.50 386.18,349.50 386.26,349.50 386.34,349.50 386.42,349.50 386.50,349.50 386.58,349.50 386.67,349.50 386.75,349.50 386.83,349.51 386.91,349.51 386.99,349.51 387.07,349.51 387.16,349.51 387.24,349.51 387.32,349.51 387.40,349.51 387.48,349.51 387.56,349.51 387.65,349.51 387.73,349.51 387.81,349.51 387.89,349.51 387.97,349.50 388.05,349.50 388.13,349.50 388.22,349.50 388.30,349.50 388.38,349.50 388.46,349.50 388.54,349.50 388.62,349.50 388.71,349.50 388.79,349.50 388.87,349.50 388.95,349.50 389.03,349.50 389.11,349.50 389.20,349.49 389.28,349.49 389.36,349.49 389.44,349.49 389.52,349.49 389.60,349.49 389.69,349.49 389.77,349.49 389.85,349.49 389.93,349.48 390.01,349.48 390.09,349.48 390.18,349.48 390.26,349.48 390.34,349.48 390.42,349.47 390.50,349.47 390.58,349.47 390.66,349.47 390.75,349.47 390.83,349.46 390.91,349.46 390.99,349.46 391.07,349.46 391.15,349.45 391.24,349.45 391.32,349.45 391.40,349.45 391.48,349.44 391.56,349.44 391.64,349.44 391.73,349.44 391.81,349.43 391.89,349.43 391.97,349.43 392.05,349.42 392.13,349.42 392.22,349.42 392.30,349.41 392.38,349.41 392.46,349.41 392.54,349.40 392.62,349.40 392.71,349.39 392.79,349.39 392.87,349.38 392.95,349.38 393.03,349.38 393.11,349.37 393.19,349.37 393.28,349.36 393.36,349.36 393.44,349.35 393.52,349.34 393.60,349.34 393.68,349.33 393.77,349.33 393.85,349.32 393.93,349.32 394.01,349.31 394.09,349.30 394.17,349.30 394.26,349.29 394.34,349.28 394.42,349.27 394.50,349.27 394.58,349.26 394.66,349.25 394.75,349.24 394.83,349.23 394.91,349.22 394.99,349.21 395.07,349.21 395.15,349.20 395.24,349.19 395.32,349.17 395.40,349.16 395.48,349.15 395.56,349.14 395.64,349.13 395.72,349.12 395.81,349.10 395.89,349.09 395.97,349.08 396.05,349.06 396.13,349.05 396.21,349.03 396.30,349.02 396.38,349.00 396.46,348.98 396.54,348.96 396.62,348.95 396.70,348.92 396.79,348.90 396.87,348.88 396.95,348.86 397.03,348.83 397.11,348.80 397.19,348.77 397.28,348.73 397.36,348.70 397.44,348.65 397.52,348.61 397.60,348.55 397.68,348.49 397.76,348.42 397.85,348.34 397.93,348.25 398.01,348.15 398.09,348.02 398.17,347.88 398.25,347.72 398.34,347.54 398.42,347.33 398.50,347.09 398.58,346.81 398.66,346.50 398.74,346.15 398.83,345.76 398.91,345.32 398.99,344.84 399.07,344.30 399.15,343.71 399.23,343.07 399.32,342.37 399.40,341.63 399.48,340.83 399.56,339.99 399.64,339.10 399.72,338.17 399.81,337.22 399.89,336.24 399.97,335.25 400.05,334.25 400.13,333.26 400.21,332.28 400.29,331.34 400.38,330.45 400.46,329.61 400.54,328.84 400.62,328.16 400.70,327.58 400.78,327.10 400.87,326.74 400.95,326.50 401.03,326.38 401.11,326.38 401.19,326.51 401.27,326.74 401.36,327.08 401.44,327.50 401.52,327.99 401.60,328.55 401.68,329.14 401.76,329.75 401.85,330.36 401.93,330.95 402.01,331.51 402.09,332.02 402.17,332.45 402.25,332.80 402.34,333.03 402.42,333.14 402.50,333.12 402.58,332.93 402.66,332.58 402.74,332.05 402.82,331.33 402.91,330.40 402.99,329.26 403.07,327.91 403.15,326.33 403.23,324.53 403.31,322.51 403.40,320.26 403.48,317.81 403.56,315.14 403.64,312.29 403.72,309.26 403.80,306.07 403.89,302.75 403.97,299.32 404.05,295.82 404.13,292.29 404.21,288.76 404.29,285.27 404.38,281.88 404.46,278.65 404.54,275.61 404.62,272.83 404.70,270.38 404.78,268.29 404.87,266.62 404.95,265.42 405.03,264.72 405.11,264.53 405.19,264.87 405.27,265.72 405.35,267.07 405.44,268.87 405.52,271.08 405.60,273.66 405.68,276.54 405.76,279.67 405.84,283.00 405.93,286.47 406.01,290.03 406.09,293.64 406.17,297.26 406.25,300.84 406.33,304.36 406.42,307.79 406.50,311.10 406.58,314.27 406.66,317.29 406.74,320.14 406.82,322.82 406.91,325.32 406.99,327.64 407.07,329.78 407.15,331.75 407.23,333.53 407.31,335.16 407.39,336.62 407.48,337.94 407.56,339.12 407.64,340.17 407.72,341.10 407.80,341.92 407.88,342.65 407.97,343.29 408.05,343.85 408.13,344.34 408.21,344.78 408.29,345.15 408.37,345.49 408.46,345.78 408.54,346.03 408.62,346.26 408.70,346.46 408.78,346.63 408.86,346.79 408.95,346.93 409.03,347.06 409.11,347.18 409.19,347.28 409.27,347.38 409.35,347.46 409.44,347.55 409.52,347.62 409.60,347.69 409.68,347.75 409.76,347.81 409.84,347.87 409.92,347.92 410.01,347.97 410.09,348.01 410.17,348.06 410.25,348.09 410.33,348.13 410.41,348.16 410.50,348.18 410.58,348.21 410.66,348.23 410.74,348.24 410.82,348.25 410.90,348.25 410.99,348.25 411.07,348.25 411.15,348.23 411.23,348.21 411.31,348.18 411.39,348.15 411.48,348.10 411.56,348.05 411.64,347.98 411.72,347.91 411.80,347.83 411.88,347.73 411.97,347.63 412.05,347.51 412.13,347.38 412.21,347.25 412.29,347.10 412.37,346.94 412.45,346.77 412.54,346.60 412.62,346.42 412.70,346.24 412.78,346.05 412.86,345.86 412.94,345.67 413.03,345.49 413.11,345.31 413.19,345.15 413.27,344.99 413.35,344.85 413.43,344.73 413.52,344.63 413.60,344.56 413.68,344.52 413.76,344.50 413.84,344.51 413.92,344.55 414.01,344.62 414.09,344.72 414.17,344.84 414.25,344.98 414.33,345.14 414.41,345.32 414.50,345.51 414.58,345.71 414.66,345.91 414.74,346.13 414.82,346.34 414.90,346.55 414.98,346.76 415.07,346.96 415.15,347.16 415.23,347.35 415.31,347.53 415.39,347.71 415.47,347.87 415.56,348.03 415.64,348.17 415.72,348.30 415.80,348.43 415.88,348.54 415.96,348.64 416.05,348.74 416.13,348.82 416.21,348.90 416.29,348.97 416.37,349.03 416.45,349.08 416.54,349.13 416.62,349.18 416.70,349.22 416.78,349.25 416.86,349.28 416.94,349.31 417.02,349.34 417.11,349.36 417.19,349.38 417.27,349.40 417.35,349.41 417.43,349.43 417.51,349.44 417.60,349.45 417.68,349.47 417.76,349.48 417.84,349.49 417.92,349.50 418.00,349.51 418.09,349.52 418.17,349.52 418.25,349.53 418.33,349.54 418.41,349.55 418.49,349.55 418.58,349.56 418.66,349.57 418.74,349.57 418.82,349.58 418.90,349.58 418.98,349.59 419.07,349.60 419.15,349.60 419.23,349.61 419.31,349.61 419.39,349.62 419.47,349.62 419.55,349.63 419.64,349.63 419.72,349.64 419.80,349.64 419.88,349.64 419.96,349.65 420.04,349.65 420.13,349.66 420.21,349.66 420.29,349.66 420.37,349.67 420.45,349.67 420.53,349.68 420.62,349.68 420.70,349.68 420.78,349.69 420.86,349.69 420.94,349.69 421.02,349.70 421.11,349.70 421.19,349.70 421.27,349.71 421.35,349.71 421.43,349.71 421.51,349.71 421.60,349.72 421.68,349.72 421.76,349.72 421.84,349.73 421.92,349.73 422.00,349.73 422.08,349.73 422.17,349.74 422.25,349.74 422.33,349.74 422.41,349.74 422.49,349.75 422.57,349.75 422.66,349.75 422.74,349.75 422.82,349.75 422.90,349.76 422.98,349.76 423.06,349.76 423.15,349.76 423.23,349.77 423.31,349.77 423.39,349.77 423.47,349.77 423.55,349.77 423.64,349.78 423.72,349.78 423.80,349.78 423.88,349.78 423.96,349.78 424.04,349.79 424.13,349.79 424.21,349.79 424.29,349.79 424.37,349.79 424.45,349.79 424.53,349.80 424.61,349.80 424.70,349.80 424.78,349.80 424.86,349.80 424.94,349.80 425.02,349.81 425.10,349.81 425.19,349.81 425.27,349.81 425.35,349.81 425.43,349.81 425.51,349.81 425.59,349.82 425.68,349.82 425.76,349.82 425.84,349.82 425.92,349.82 426.00,349.82 426.08,349.82 426.17,349.83 426.25,349.83 426.33,349.83 426.41,349.83 426.49,349.83 426.57,349.83 426.65,349.83 426.74,349.84 426.82,349.84 426.90,349.84 426.98,349.84 427.06,349.84 427.14,349.84 427.23,349.84 427.31,349.84 427.39,349.85 427.47,349.85 427.55,349.85 427.63,349.85 427.72,349.85 427.80,349.85 427.88,349.85 427.96,349.85 428.04,349.85 428.12,349.86 428.21,349.86 428.29,349.86 428.37,349.86 428.45,349.86 428.53,349.86 428.61,349.86 428.70,349.86 428.78,349.86 428.86,349.87 428.94,349.87 429.02,349.87 429.10,349.87 429.18,349.87 429.27,349.87 429.35,349.87 429.43,349.87 429.51,349.87 429.59,349.87 429.67,349.88 429.76,349.88 429.84,349.88 429.92,349.88 430.00,349.88 430.08,349.88 430.16,349.88 430.25,349.88 430.33,349.88 430.41,349.88 430.49,349.88 430.57,349.89 430.65,349.89 430.74,349.89 430.82,349.89 430.90,349.89 430.98,349.89 431.06,349.89 431.14,349.89 431.23,349.89 431.31,349.89 431.39,349.89 431.47,349.89 431.55,349.90 431.63,349.90 431.71,349.90 431.80,349.90 431.88,349.90 431.96,349.90 432.04,349.90 432.12,349.90 432.20,349.90 432.29,349.90 432.37,349.90 432.45,349.90 432.53,349.90 432.61,349.90 432.69,349.91 432.78,349.91 432.86,349.91 432.94,349.91 433.02,349.91 433.10,349.91 433.18,349.91 433.27,349.91 433.35,349.91 433.43,349.91 433.51,349.91 433.59,349.91 433.67,349.91 433.75,349.91 433.84,349.92 433.92,349.92 434.00,349.92 434.08,349.92 434.16,349.92 434.24,349.92 434.33,349.92 434.41,349.92 434.49,349.92 434.57,349.92 434.65,349.92 434.73,349.92 434.82,349.92 434.90,349.92 434.98,349.92 435.06,349.92 435.14,349.93 435.22,349.93 435.31,349.93 435.39,349.93 435.47,349.93 435.55,349.93 435.63,349.93 435.71,349.93 435.80,349.93 435.88,349.93 435.96,349.93 436.04,349.93 436.12,349.93 436.20,349.93 436.28,349.93 436.37,349.93 436.45,349.93 436.53,349.93 436.61,349.94 436.69,349.94 436.77,349.94 436.86,349.94 436.94,349.94 437.02,349.94 437.10,349.94 437.18,349.94 437.26,349.94 437.35,349.94 437.43,349.94 437.51,349.94 437.59,349.94 437.67,349.94 437.75,349.94 437.84,349.94 437.92,349.94 438.00,349.94 438.08,349.94 438.16,349.94 438.24,349.94 438.33,349.94 438.41,349.95 438.49,349.95 438.57,349.95 438.65,349.95 438.73,349.95 438.81,349.95 438.90,349.95 438.98,349.95 439.06,349.95 439.14,349.95 439.22,349.95 439.30,349.95 439.39,349.95 439.47,349.95 439.55,349.95 439.63,349.95 439.71,349.95 439.79,349.95 439.88,349.95 439.96,349.95 440.04,349.95 440.12,349.95 440.20,349.95 440.28,349.95 440.37,349.95 440.45,349.95 440.53,349.95 440.61,349.95 440.69,349.95 440.77,349.95 440.86,349.96 440.94,349.96 441.02,349.96 441.10,349.96 441.18,349.96 441.26,349.96 441.34,349.96 441.43,349.96 441.51,349.96 441.59,349.96 441.67,349.96 441.75,349.96 441.83,349.96 441.92,349.96 442.00,349.96 442.08,349.96 442.16,349.96 442.24,349.96 442.32,349.96 442.41,349.96 442.49,349.96 442.57,349.96 442.65,349.96 442.73,349.96 442.81,349.96 442.90,349.96 442.98,349.96 443.06,349.96 443.14,349.96 443.22,349.96 443.30,349.96 443.38,349.96 443.47,349.96 443.55,349.96 443.63,349.96 443.71,349.96 443.79,349.96 443.87,349.96 443.96,349.96 444.04,349.96 444.12,349.96 444.20,349.96 444.28,349.96 444.36,349.96 444.45,349.96 444.53,349.95 444.61,349.95 444.69,349.95 444.77,349.95 444.85,349.95 444.94,349.95 445.02,349.95 445.10,349.95 445.18,349.95 445.26,349.95 445.34,349.95 445.43,349.95 445.51,349.95 445.59,349.95 445.67,349.95 445.75,349.95 445.83,349.95 445.91,349.94 446.00,349.94 446.08,349.94 446.16,349.94 446.24,349.94 446.32,349.94 446.40,349.94 446.49,349.94 446.57,349.94 446.65,349.94 446.73,349.93 446.81,349.93 446.89,349.93 446.98,349.93 447.06,349.93 447.14,349.93 447.22,349.92 447.30,349.92 447.38,349.92 447.47,349.92 447.55,349.92 447.63,349.91 447.71,349.91 447.79,349.91 447.87,349.90 447.96,349.90 448.04,349.90 448.12,349.89 448.20,349.89 448.28,349.89 448.36,349.88 448.44,349.88 448.53,349.87 448.61,349.86 448.69,349.86 448.77,349.85 448.85,349.84 448.93,349.83 449.02,349.82 449.10,349.81 449.18,349.80 449.26,349.78 449.34,349.77 449.42,349.75 449.51,349.73 449.59,349.71 449.67,349.69 449.75,349.67 449.83,349.64 449.91,349.61 450.00,349.58 450.08,349.54 450.16,349.50 450.24,349.46 450.32,349.42 450.40,349.37 450.49,349.32 450.57,349.26 450.65,349.20 450.73,349.13 450.81,349.07 450.89,348.99 450.97,348.91 451.06,348.83 451.14,348.74 451.22,348.65 451.30,348.56 451.38,348.46 451.46,348.36 451.55,348.25 451.63,348.14 451.71,348.02 451.79,347.91 451.87,347.79 451.95,347.67 452.04,347.55 452.12,347.42 452.20,347.30 452.28,347.18 452.36,347.06 452.44,346.94 452.53,346.83 452.61,346.72 452.69,346.61 452.77,346.51 452.85,346.42 452.93,346.34 453.01,346.26 453.10,346.20 453.18,346.14 453.26,346.10 453.34,346.07 453.42,346.05 453.50,346.04 453.59,346.05 453.67,346.07 453.75,346.10 453.83,346.15 453.91,346.21 453.99,346.27 454.08,346.35 454.16,346.44 454.24,346.53 454.32,346.63 454.40,346.74 454.48,346.85 454.57,346.96 454.65,347.08 454.73,347.20 454.81,347.33 454.89,347.45 454.97,347.57 455.06,347.69 455.14,347.81 455.22,347.93 455.30,348.05 455.38,348.16 455.46,348.28 455.54,348.38 455.63,348.49 455.71,348.59 455.79,348.68 455.87,348.77 455.95,348.86 456.03,348.94 456.12,349.02 456.20,349.09 456.28,349.16 456.36,349.23 456.44,349.29 456.52,349.34 456.61,349.40 456.69,349.45 456.77,349.49 456.85,349.53 456.93,349.57 457.01,349.61 457.10,349.64 457.18,349.67 457.26,349.70 457.34,349.72 457.42,349.74 457.50,349.76 457.59,349.78 457.67,349.80 457.75,349.82 457.83,349.83 457.91,349.84 457.99,349.86 458.07,349.87 458.16,349.88 458.24,349.88 458.32,349.89 458.40,349.90 458.48,349.91 458.56,349.91 458.65,349.92 458.73,349.93 458.81,349.93 458.89,349.93 458.97,349.94 459.05,349.94 459.14,349.95 459.22,349.95 459.30,349.95 459.38,349.96 459.46,349.96 459.54,349.96 459.63,349.97 459.71,349.97 459.79,349.97 459.87,349.97 459.95,349.98 460.03,349.98 460.12,349.98 460.20,349.98 460.28,349.98 460.36,349.99 460.44,349.99 460.52,349.99 460.60,349.99 460.69,349.99 460.77,349.99 460.85,350.00 460.93,350.00 461.01,350.00 461.09,350.00 461.18,350.00 461.26,350.00 461.34,350.00 461.42,350.00 461.50,350.01 461.58,350.01 461.67,350.01 461.75,350.01 461.83,350.01 461.91,350.01 461.99,350.01 462.07,350.01 462.16,350.01 462.24,350.02 462.32,350.02 462.40,350.02 462.48,350.02 462.56,350.02 462.64,350.02 462.73,350.02 462.81,350.02 462.89,350.02 462.97,350.02 463.05,350.02 463.13,350.02 463.22,350.02 463.30,350.02 463.38,350.02 463.46,350.02 463.54,350.03 463.62,350.03 463.71,350.03 463.79,350.03 463.87,350.03 463.95,350.03 464.03,350.03 464.11,350.03 464.20,350.03 464.28,350.03 464.36,350.03 464.44,350.03 464.52,350.03 464.60,350.03 464.69,350.03 464.77,350.03 464.85,350.03 464.93,350.03 465.01,350.03 465.09,350.03 465.17,350.03 465.26,350.03 465.34,350.03 465.42,350.03 465.50,350.03 465.58,350.03 465.66,350.03 465.75,350.03 465.83,350.03 465.91,350.03 465.99,350.03 466.07,350.03 466.15,350.02 466.24,350.02 466.32,350.02 466.40,350.02 466.48,350.02 466.56,350.02 466.64,350.02 466.73,350.02 466.81,350.02 466.89,350.02 466.97,350.02 467.05,350.02 467.13,350.02 467.22,350.01 467.30,350.01 467.38,350.01 467.46,350.01 467.54,350.01 467.62,350.01 467.70,350.00 467.79,350.00 467.87,350.00 467.95,350.00 468.03,350.00 468.11,349.99 468.19,349.99 468.28,349.99 468.36,349.98 468.44,349.98 468.52,349.98 468.60,349.97 468.68,349.97 468.77,349.96 468.85,349.95 468.93,349.95 469.01,349.94 469.09,349.93 469.17,349.92 469.26,349.90 469.34,349.89 469.42,349.87 469.50,349.85 469.58,349.83 469.66,349.81 469.74,349.78 469.83,349.75 469.91,349.71 469.99,349.67 470.07,349.63 470.15,349.58 470.23,349.53 470.32,349.47 470.40,349.40 470.48,349.33 470.56,349.26 470.64,349.18 470.72,349.09 470.81,349.00 470.89,348.90 470.97,348.80 471.05,348.70 471.13,348.59 471.21,348.48 471.30,348.37 471.38,348.26 471.46,348.15 471.54,348.04 471.62,347.94 471.70,347.84 471.79,347.75 471.87,347.67 471.95,347.60 472.03,347.55 472.11,347.50 472.19,347.47 472.27,347.46 472.36,347.46 472.44,347.48 472.52,347.52 472.60,347.56 472.68,347.63 472.76,347.70 472.85,347.78 472.93,347.88 473.01,347.97 473.09,348.08 473.17,348.19 473.25,348.29 473.34,348.40 473.42,348.51 473.50,348.62 473.58,348.73 473.66,348.83 473.74,348.93 473.83,349.02 473.91,349.11 473.99,349.19 474.07,349.27 474.15,349.34 474.23,349.41 474.32,349.47 474.40,349.53 474.48,349.58 474.56,349.63 474.64,349.67 474.72,349.70 474.80,349.74 474.89,349.77 474.97,349.79 475.05,349.81 475.13,349.83 475.21,349.85 475.29,349.87 475.38,349.88 475.46,349.89 475.54,349.90 475.62,349.91 475.70,349.92 475.78,349.92 475.87,349.93 475.95,349.93 476.03,349.94 476.11,349.94 476.19,349.94 476.27,349.94 476.36,349.95 476.44,349.95 476.52,349.95 476.60,349.95 476.68,349.95 476.76,349.95 476.85,349.95 476.93,349.95 477.01,349.95 477.09,349.95 477.17,349.95 477.25,349.95 477.33,349.95 477.42,349.95 477.50,349.95 477.58,349.95 477.66,349.95 477.74,349.95 477.82,349.95 477.91,349.95 477.99,349.95 478.07,349.94 478.15,349.94 478.23,349.94 478.31,349.94 478.40,349.93 478.48,349.93 478.56,349.93 478.64,349.92 478.72,349.92 478.80,349.92 478.89,349.91 478.97,349.91 479.05,349.90 479.13,349.89 479.21,349.89 479.29,349.88 479.37,349.87 479.46,349.86 479.54,349.85 479.62,349.84 479.70,349.82 479.78,349.81 479.86,349.79 479.95,349.77 480.03,349.75 480.11,349.73 480.19,349.71 480.27,349.69 480.35,349.66 480.44,349.63 480.52,349.60 480.60,349.57 480.68,349.53 480.76,349.50 480.84,349.46 480.93,349.42 481.01,349.37 481.09,349.33 481.17,349.29 481.25,349.24 481.33,349.19 481.42,349.15 481.50,349.10 481.58,349.05 481.66,349.01 481.74,348.96 481.82,348.92 481.90,348.87 481.99,348.83 482.07,348.80 482.15,348.76 482.23,348.73 482.31,348.71 482.39,348.69 482.48,348.67 482.56,348.66 482.64,348.66 482.72,348.66 482.80,348.66 482.88,348.67 482.97,348.69 483.05,348.71 483.13,348.73 483.21,348.76 483.29,348.79 483.37,348.82 483.46,348.85 483.54,348.89 483.62,348.92 483.70,348.96 483.78,348.99 483.86,349.02 483.95,349.06 484.03,349.09 484.11,349.12 484.19,349.14 484.27,349.16 484.35,349.19 484.43,349.20 484.52,349.22 484.60,349.23 484.68,349.23 484.76,349.23 484.84,349.23 484.92,349.22 485.01,349.21 485.09,349.19 485.17,349.17 485.25,349.14 485.33,349.10 485.41,349.06 485.50,349.02 485.58,348.96 485.66,348.90 485.74,348.84 485.82,348.77 485.90,348.69 485.99,348.60 486.07,348.51 486.15,348.42 486.23,348.32 486.31,348.21 486.39,348.09 486.48,347.98 486.56,347.85 486.64,347.73 486.72,347.59 486.80,347.46 486.88,347.33 486.96,347.19 487.05,347.05 487.13,346.91 487.21,346.78 487.29,346.65 487.37,346.52 487.45,346.40 487.54,346.28 487.62,346.17 487.70,346.07 487.78,345.98 487.86,345.91 487.94,345.84 488.03,345.79 488.11,345.76 488.19,345.74 488.27,345.73 488.35,345.74 488.43,345.77 488.52,345.81 488.60,345.86 488.68,345.92 488.76,346.00 488.84,346.08 488.92,346.17 489.00,346.27 489.09,346.38 489.17,346.48 489.25,346.60 489.33,346.71 489.41,346.82 489.49,346.94 489.58,347.05 489.66,347.16 489.74,347.27 489.82,347.38 489.90,347.48 489.98,347.57 490.07,347.66 490.15,347.75 490.23,347.83 490.31,347.90 490.39,347.97 490.47,348.03 490.56,348.09 490.64,348.14 490.72,348.18 490.80,348.21 490.88,348.25 490.96,348.27 491.05,348.29 491.13,348.30 491.21,348.31 491.29,348.31 491.37,348.31 491.45,348.30 491.53,348.29 491.62,348.27 491.70,348.25 491.78,348.22 491.86,348.18 491.94,348.15 492.02,348.10 492.11,348.05 492.19,348.00 492.27,347.93 492.35,347.86 492.43,347.79 492.51,347.70 492.60,347.61 492.68,347.51 492.76,347.39 492.84,347.27 492.92,347.13 493.00,346.98 493.09,346.81 493.17,346.62 493.25,346.41 493.33,346.18 493.41,345.93 493.49,345.65 493.58,345.33 493.66,344.99 493.74,344.61 493.82,344.20 493.90,343.74 493.98,343.24 494.06,342.69 494.15,342.09 494.23,341.43 494.31,340.71 494.39,339.94 494.47,339.09 494.55,338.18 494.64,337.20 494.72,336.15 494.80,335.02 494.88,333.81 494.96,332.52 495.04,331.15 495.13,329.70 495.21,328.18 495.29,326.57 495.37,324.89 495.45,323.13 495.53,321.30 495.62,319.40 495.70,317.45 495.78,315.44 495.86,313.38 495.94,311.28 496.02,309.15 496.11,307.01 496.19,304.86 496.27,302.71 496.35,300.58 496.43,298.49 496.51,296.44 496.59,294.46 496.68,292.57 496.76,290.78 496.84,289.10 496.92,287.57 497.00,286.19 497.08,284.99 497.17,283.98 497.25,283.17 497.33,282.58 497.41,282.21 497.49,282.07 497.57,282.17 497.66,282.50 497.74,283.05 497.82,283.82 497.90,284.80 497.98,285.97 498.06,287.32 498.15,288.82 498.23,290.47 498.31,292.25 498.39,294.13 498.47,296.09 498.55,298.13 498.63,300.22 498.72,302.34 498.80,304.49 498.88,306.64 498.96,308.79 499.04,310.93 499.12,313.03 499.21,315.10 499.29,317.12 499.37,319.09 499.45,321.00 499.53,322.85 499.61,324.62 499.70,326.32 499.78,327.94 499.86,329.49 499.94,330.95 500.02,332.34 500.10,333.64 500.19,334.87 500.27,336.02 500.35,337.09 500.43,338.09 500.51,339.01 500.59,339.87 500.68,340.66 500.76,341.39 500.84,342.06 500.92,342.68 501.00,343.24 501.08,343.76 501.16,344.23 501.25,344.65 501.33,345.04 501.41,345.39 501.49,345.71 501.57,346.01 501.65,346.27 501.74,346.51 501.82,346.72 501.90,346.92 501.98,347.10 502.06,347.26 502.14,347.41 502.23,347.54 502.31,347.67 502.39,347.78 502.47,347.88 502.55,347.98 502.63,348.07 502.72,348.15 502.80,348.22 502.88,348.29 502.96,348.36 503.04,348.42 503.12,348.48 503.21,348.53 503.29,348.58 503.37,348.63 503.45,348.68 503.53,348.72 503.61,348.77 503.69,348.81 503.78,348.84 503.86,348.88 503.94,348.92 504.02,348.95 504.10,348.98 504.18,349.02 504.27,349.05 504.35,349.07 504.43,349.10 504.51,349.13 504.59,349.16 504.67,349.18 504.76,349.21 504.84,349.23 504.92,349.26 505.00,349.28 505.08,349.30 505.16,349.32 505.25,349.34 505.33,349.36 505.41,349.38 505.49,349.40 505.57,349.42 505.65,349.44 505.74,349.45 505.82,349.47 505.90,349.49 505.98,349.50 506.06,349.52 506.14,349.54 506.22,349.55 506.31,349.56 506.39,349.58 506.47,349.59 506.55,349.61 506.63,349.62 506.71,349.63 506.80,349.64 506.88,349.66 506.96,349.67 507.04,349.68 507.12,349.69 507.20,349.70 507.29,349.71 507.37,349.72 507.45,349.73 507.53,349.74 507.61,349.75 507.69,349.76 507.78,349.77 507.86,349.78 507.94,349.79 508.02,349.80 508.10,349.81 508.18,349.82 508.26,349.83 508.35,349.83 508.43,349.84 508.51,349.85 508.59,349.86 508.67,349.87 508.75,349.87 508.84,349.88 508.92,349.89 509.00,349.89 509.08,349.90 509.16,349.91 509.24,349.91 509.33,349.92 509.41,349.93 509.49,349.93 509.57,349.94 509.65,349.94 509.73,349.95 509.82,349.96 509.90,349.96 509.98,349.97 510.06,349.97 510.14,349.98 510.22,349.98 510.31,349.99 510.39,349.99 510.47,350.00 510.55,350.00 510.63,350.01 510.71,350.01 510.79,350.02 510.88,350.02 510.96,350.03 511.04,350.03 511.12,350.04 511.20,350.04 511.28,350.04 511.37,350.05 511.45,350.05 511.53,350.06 511.61,350.06 511.69,350.06 511.77,350.07 511.86,350.07 511.94,350.08 512.02,350.08 512.10,350.08 512.18,350.09 512.26,350.09 512.35,350.09 512.43,350.10 512.51,350.10 512.59,350.10 512.67,350.11 512.75,350.11 512.84,350.11 512.92,350.12 513.00,350.12 513.08,350.12 513.16,350.13 513.24,350.13 513.32,350.13 513.41,350.13 513.49,350.14 513.57,350.14 513.65,350.14 513.73,350.15 513.81,350.15 513.90,350.15 513.98,350.15 514.06,350.16 514.14,350.16 514.22,350.16 514.30,350.16 514.39,350.17 514.47,350.17 514.55,350.17 514.63,350.17 514.71,350.18 514.79,350.18 514.88,350.18 514.96,350.18 515.04,350.19 515.12,350.19 515.20,350.19 515.28,350.19 515.36,350.19 515.45,350.20 515.53,350.20 515.61,350.20 515.69,350.20 515.77,350.20 515.85,350.21 515.94,350.21 516.02,350.21 516.10,350.21 516.18,350.21 516.26,350.22 516.34,350.22 516.43,350.22 516.51,350.22 516.59,350.22 516.67,350.22 516.75,350.23 516.83,350.23 516.92,350.23 517.00,350.23 517.08,350.23 517.16,350.24 517.24,350.24 517.32,350.24 517.41,350.24 517.49,350.24 517.57,350.24 517.65,350.25 517.73,350.25 517.81,350.25 517.89,350.25 517.98,350.25 518.06,350.25 518.14,350.25 518.22,350.26 518.30,350.26 518.38,350.26 518.47,350.26 518.55,350.26 518.63,350.26 518.71,350.26 518.79,350.27 518.87,350.27 518.96,350.27 519.04,350.27 519.12,350.27 519.20,350.27 519.28,350.27 519.36,350.27 519.45,350.28 519.53,350.28 519.61,350.28 519.69,350.28 519.77,350.28 519.85,350.28 519.94,350.28 520.02,350.28 520.10,350.29 520.18,350.29 520.26,350.29 520.34,350.29 520.42,350.29 520.51,350.29 520.59,350.29 520.67,350.29 520.75,350.29 520.83,350.30 520.91,350.30 521.00,350.30 521.08,350.30 521.16,350.30 521.24,350.30 521.32,350.30 521.40,350.30 521.49,350.30 521.57,350.31 521.65,350.31 521.73,350.31 521.81,350.31 521.89,350.31 521.98,350.31 522.06,350.31 522.14,350.31 522.22,350.31 522.30,350.31 522.38,350.31 522.47,350.32 522.55,350.32 522.63,350.32 522.71,350.32 522.79,350.32 522.87,350.32 522.95,350.32 523.04,350.32 523.12,350.32 523.20,350.32 523.28,350.32 523.36,350.33 523.44,350.33 523.53,350.33 523.61,350.33 523.69,350.33 523.77,350.33 523.85,350.33 523.93,350.33 524.02,350.33 524.10,350.33 524.18,350.33 524.26,350.33 524.34,350.33 524.42,350.33 524.51,350.34 524.59,350.34 524.67,350.34 524.75,350.34 524.83,350.34 524.91,350.34 524.99,350.34 525.08,350.34 525.16,350.34 525.24,350.34 525.32,350.34 525.40,350.34 525.48,350.34 525.57,350.34 525.65,350.34 525.73,350.34 525.81,350.35 525.89,350.35 525.97,350.35 526.06,350.35 526.14,350.35 526.22,350.35 526.30,350.35 526.38,350.35 526.46,350.35 526.55,350.35 526.63,350.35 526.71,350.35 526.79,350.35 526.87,350.35 526.95,350.35 527.04,350.35 527.12,350.35 527.20,350.35 527.28,350.35 527.36,350.35 527.44,350.35 527.52,350.35 527.61,350.35 527.69,350.36 527.77,350.36 527.85,350.36 527.93,350.36 528.01,350.36 528.10,350.36 528.18,350.36 528.26,350.36 528.34,350.36 528.42,350.36 528.50,350.36 528.59,350.36 528.67,350.36 528.75,350.36 528.83,350.36 528.91,350.36 528.99,350.36 529.08,350.36 529.16,350.36 529.24,350.36 529.32,350.36 529.40,350.36 529.48,350.36 529.57,350.36 529.65,350.36 529.73,350.36 529.81,350.36 529.89,350.36 529.97,350.36 530.05,350.36 530.14,350.36 530.22,350.36 530.30,350.36 530.38,350.36 530.46,350.36 530.54,350.35 530.63,350.35 530.71,350.35 530.79,350.35 530.87,350.35 530.95,350.35 531.03,350.35 531.12,350.35 531.20,350.35 531.28,350.35 531.36,350.35 531.44,350.35 531.52,350.35 531.61,350.35 531.69,350.34 531.77,350.34 531.85,350.34 531.93,350.34 532.01,350.34 532.10,350.34 532.18,350.34 532.26,350.33 532.34,350.33 532.42,350.33 532.50,350.33 532.58,350.33 532.67,350.32 532.75,350.32 532.83,350.32 532.91,350.32 532.99,350.31 533.07,350.31 533.16,350.31 533.24,350.30 533.32,350.30 533.40,350.29 533.48,350.29 533.56,350.28 533.65,350.28 533.73,350.27 533.81,350.26 533.89,350.26 533.97,350.25 534.05,350.24 534.14,350.22 534.22,350.21 534.30,350.20 534.38,350.18 534.46,350.16 534.54,350.15 534.62,350.12 534.71,350.10 534.79,350.07 534.87,350.05 534.95,350.01 535.03,349.98 535.11,349.94 535.20,349.90 535.28,349.85 535.36,349.81 535.44,349.75 535.52,349.69 535.60,349.63 535.69,349.57 535.77,349.49 535.85,349.42 535.93,349.34 536.01,349.25 536.09,349.16 536.18,349.07 536.26,348.97 536.34,348.86 536.42,348.75 536.50,348.64 536.58,348.52 536.67,348.40 536.75,348.28 536.83,348.16 536.91,348.03 536.99,347.91 537.07,347.78 537.15,347.65 537.24,347.53 537.32,347.41 537.40,347.29 537.48,347.18 537.56,347.07 537.64,346.97 537.73,346.88 537.81,346.80 537.89,346.73 537.97,346.67 538.05,346.62 538.13,346.59 538.22,346.57 538.30,346.56 538.38,346.57 538.46,346.59 538.54,346.62 538.62,346.67 538.71,346.73 538.79,346.80 538.87,346.88 538.95,346.98 539.03,347.08 539.11,347.18 539.20,347.30 539.28,347.41 539.36,347.53 539.44,347.66 539.52,347.79 539.60,347.91 539.68,348.04 539.77,348.17 539.85,348.29 539.93,348.41 540.01,348.53 540.09,348.65 540.17,348.77 540.26,348.88 540.34,348.98 540.42,349.08 540.50,349.18 540.58,349.27 540.66,349.36 540.75,349.44 540.83,349.52 540.91,349.59 540.99,349.66 541.07,349.72 541.15,349.78 541.24,349.83 541.32,349.88 541.40,349.93 541.48,349.97 541.56,350.01 541.64,350.05 541.73,350.08 541.81,350.11 541.89,350.14 541.97,350.16 542.05,350.19 542.13,350.21 542.21,350.22 542.30,350.24 542.38,350.26 542.46,350.27 542.54,350.28 542.62,350.29 542.70,350.30 542.79,350.31 542.87,350.32 542.95,350.33 543.03,350.34 543.11,350.34 543.19,350.35 543.28,350.35 543.36,350.36 543.44,350.36 543.52,350.37 543.60,350.37 543.68,350.38 543.77,350.38 543.85,350.38 543.93,350.39 544.01,350.39 544.09,350.39 544.17,350.40 544.25,350.40 544.34,350.40 544.42,350.40 544.50,350.41 544.58,350.41 544.66,350.41 544.74,350.41 544.83,350.42 544.91,350.42 544.99,350.42 545.07,350.42 545.15,350.42 545.23,350.43 545.32,350.43 545.40,350.43 545.48,350.43 545.56,350.43 545.64,350.43 545.72,350.44 545.81,350.44 545.89,350.44 545.97,350.44 546.05,350.44 546.13,350.44 546.21,350.44 546.30,350.44 546.38,350.45 546.46,350.45 546.54,350.45 546.62,350.45 546.70,350.45 546.78,350.45 546.87,350.45 546.95,350.45 547.03,350.46 547.11,350.46 547.19,350.46 547.27,350.46 547.36,350.46 547.44,350.46 547.52,350.46 547.60,350.46 547.68,350.46 547.76,350.46 547.85,350.46 547.93,350.47 548.01,350.47 548.09,350.47 548.17,350.47 548.25,350.47 548.34,350.47 548.42,350.47 548.50,350.47 548.58,350.47 548.66,350.47 548.74,350.47 548.83,350.47 548.91,350.47 548.99,350.48 549.07,350.48 549.15,350.48 549.23,350.48 549.31,350.48 549.40,350.48 549.48,350.48 549.56,350.48 549.64,350.48 549.72,350.48 549.80,350.48 549.89,350.48 549.97,350.48 550.05,350.48 550.13,350.48 550.21,350.48 550.29,350.49 550.38,350.49 550.46,350.49 550.54,350.49 550.62,350.49 550.70,350.49 550.78,350.49 550.87,350.49 550.95,350.49 551.03,350.49 551.11,350.49 551.19,350.49 551.27,350.49 551.35,350.49 551.44,350.49 551.52,350.49 551.60,350.49 551.68,350.49 551.76,350.49 551.84,350.49 551.93,350.49 552.01,350.49 552.09,350.50 552.17,350.50 552.25,350.50 552.33,350.50 552.42,350.50 552.50,350.50 552.58,350.50 552.66,350.50 552.74,350.50 552.82,350.50 552.91,350.50 552.99,350.50 553.07,350.50 553.15,350.50 553.23,350.50 553.31,350.50 553.40,350.50 553.48,350.50 553.56,350.50 553.64,350.50 553.72,350.50 553.80,350.50 553.88,350.50 553.97,350.50 554.05,350.50 554.13,350.50 554.21,350.50 554.29,350.50 554.37,350.50 554.46,350.50 554.54,350.50 554.62,350.50 554.70,350.50 554.78,350.50 554.86,350.50 554.95,350.50 555.03,350.51 555.11,350.51 555.19,350.51 555.27,350.51 555.35,350.51 555.44,350.51 555.52,350.51 555.60,350.51 555.68,350.51 555.76,350.51 555.84,350.51 555.93,350.51 556.01,350.51 556.09,350.51 556.17,350.51 556.25,350.51 556.33,350.51 556.41,350.51 556.50,350.51 556.58,350.51 556.66,350.51 556.74,350.51 556.82,350.51 556.90,350.51 556.99,350.51 557.07,350.51 557.15,350.51 557.23,350.51 557.31,350.51 557.39,350.51 557.48,350.51 557.56,350.51 557.64,350.50 557.72,350.50 557.80,350.50 557.88,350.50 557.97,350.50 558.05,350.50 558.13,350.50 558.21,350.50 558.29,350.50 558.37,350.50 558.46,350.50 558.54,350.50 558.62,350.50 558.70,350.50 558.78,350.50 558.86,350.50 558.94,350.50 559.03,350.50 559.11,350.50 559.19,350.50 559.27,350.50 559.35,350.50 559.43,350.50 559.52,350.50 559.60,350.50 559.68,350.50 559.76,350.49 559.84,350.49 559.92,350.49 560.01,350.49 560.09,350.49 560.17,350.49 560.25,350.49 560.33,350.49 560.41,350.49 560.50,350.49 560.58,350.49 560.66,350.49 560.74,350.48 560.82,350.48 560.90,350.48 560.98,350.48 561.07,350.48 561.15,350.48 561.23,350.48 561.31,350.48 561.39,350.47 561.47,350.47 561.56,350.47 561.64,350.47 561.72,350.47 561.80,350.47 561.88,350.47 561.96,350.46 562.05,350.46 562.13,350.46 562.21,350.46 562.29,350.46 562.37,350.45 562.45,350.45 562.54,350.45 562.62,350.45 562.70,350.44 562.78,350.44 562.86,350.44 562.94,350.44 563.03,350.43 563.11,350.43 563.19,350.43 563.27,350.42 563.35,350.42 563.43,350.42 563.51,350.41 563.60,350.41 563.68,350.40 563.76,350.40 563.84,350.39 563.92,350.38 564.00,350.38 564.09,350.37 564.17,350.36 564.25,350.35 564.33,350.34 564.41,350.33 564.49,350.32 564.58,350.30 564.66,350.29 564.74,350.27 564.82,350.26 564.90,350.24 564.98,350.22 565.07,350.20 565.15,350.17 565.23,350.15 565.31,350.12 565.39,350.09 565.47,350.05 565.56,350.02 565.64,349.98 565.72,349.93 565.80,349.89 565.88,349.84 565.96,349.79 566.04,349.73 566.13,349.68 566.21,349.61 566.29,349.55 566.37,349.48 566.45,349.41 566.53,349.33 566.62,349.26 566.70,349.18 566.78,349.09 566.86,349.01 566.94,348.92 567.02,348.83 567.11,348.74 567.19,348.64 567.27,348.55 567.35,348.45 567.43,348.36 567.51,348.27 567.60,348.18 567.68,348.09 567.76,348.00 567.84,347.91 567.92,347.83 568.00,347.76 568.09,347.69 568.17,347.63 568.25,347.57 568.33,347.52 568.41,347.48 568.49,347.45 568.57,347.43 568.66,347.41 568.74,347.41 568.82,347.42 568.90,347.43 568.98,347.46 569.06,347.49 569.15,347.53 569.23,347.58 569.31,347.64 569.39,347.70 569.47,347.77 569.55,347.84 569.64,347.92 569.72,348.00 569.80,348.08 569.88,348.17 569.96,348.25 570.04,348.34 570.13,348.43 570.21,348.52 570.29,348.60 570.37,348.69 570.45,348.77 570.53,348.85 570.61,348.93 570.70,349.01 570.78,349.08 570.86,349.15 570.94,349.22 571.02,349.28 571.10,349.34 571.19,349.40 571.27,349.45 571.35,349.50 571.43,349.55 571.51,349.59 571.59,349.63 571.68,349.67 571.76,349.70 571.84,349.73 571.92,349.75 572.00,349.78 572.08,349.80 572.17,349.82 572.25,349.83 572.33,349.84 572.41,349.85 572.49,349.86 572.57,349.87 572.66,349.87 572.74,349.87 572.82,349.87 572.90,349.87 572.98,349.86 573.06,349.86 573.14,349.85 573.23,349.84 573.31,349.83 573.39,349.82 573.47,349.80 573.55,349.78 573.63,349.77 573.72,349.75 573.80,349.72 573.88,349.70 573.96,349.67 574.04,349.64 574.12,349.61 574.21,349.57 574.29,349.54 574.37,349.49 574.45,349.45 574.53,349.40 574.61,349.35 574.70,349.30 574.78,349.24 574.86,349.17 574.94,349.10 575.02,349.03 575.10,348.95 575.19,348.86 575.27,348.77 575.35,348.68 575.43,348.57 575.51,348.46 575.59,348.34 575.67,348.21 575.76,348.08 575.84,347.93 575.92,347.78 576.00,347.61 576.08,347.44 576.16,347.26 576.25,347.06 576.33,346.86 576.41,346.64 576.49,346.41 576.57,346.17 576.65,345.92 576.74,345.65 576.82,345.37 576.90,345.08 576.98,344.78 577.06,344.46 577.14,344.13 577.23,343.79 577.31,343.43 577.39,343.06 577.47,342.68 577.55,342.29 577.63,341.88 577.72,341.46 577.80,341.03 577.88,340.59 577.96,340.14 578.04,339.68 578.12,339.21 578.20,338.73 578.29,338.24 578.37,337.75 578.45,337.26 578.53,336.76 578.61,336.26 578.69,335.75 578.78,335.25 578.86,334.75 578.94,334.25 579.02,333.76 579.10,333.27 579.18,332.80 579.27,332.33 579.35,331.88 579.43,331.44 579.51,331.02 579.59,330.62 579.67,330.23 579.76,329.88 579.84,329.54 579.92,329.24 580.00,328.96 580.08,328.71 580.16,328.50 580.24,328.32 580.33,328.18 580.41,328.07 580.49,328.00 580.57,327.97 580.65,327.98 580.73,328.02 580.82,328.11 580.90,328.22 580.98,328.38 581.06,328.57 581.14,328.80 581.22,329.05 581.31,329.34 581.39,329.66 581.47,330.00 581.55,330.37 581.63,330.76 581.71,331.17 581.80,331.59 581.88,332.04 581.96,332.50 582.04,332.97 582.12,333.45 582.20,333.94 582.29,334.44 582.37,334.94 582.45,335.44 582.53,335.94 582.61,336.45 582.69,336.95 582.77,337.45 582.86,337.95 582.94,338.44 583.02,338.92 583.10,339.40 583.18,339.87 583.26,340.33 583.35,340.78 583.43,341.22 583.51,341.65 583.59,342.07 583.67,342.47 583.75,342.87 583.84,343.25 583.92,343.61 584.00,343.97 584.08,344.31 584.16,344.64 584.24,344.95 584.33,345.26 584.41,345.55 584.49,345.82 584.57,346.09 584.65,346.34 584.73,346.58 584.82,346.80 584.90,347.02 584.98,347.22 585.06,347.42 585.14,347.60 585.22,347.77 585.30,347.94 585.39,348.09 585.47,348.23 585.55,348.37 585.63,348.50 585.71,348.62 585.79,348.73 585.88,348.84 585.96,348.93 586.04,349.03 586.12,349.11 586.20,349.19 586.28,349.27 586.37,349.34 586.45,349.41 586.53,349.47 586.61,349.52 586.69,349.58 586.77,349.63 586.86,349.68 586.94,349.72 587.02,349.76 587.10,349.80 587.18,349.84 587.26,349.87 587.35,349.90 587.43,349.93 587.51,349.96 587.59,349.98 587.67,350.01 587.75,350.03 587.83,350.06 587.92,350.08 588.00,350.10 588.08,350.12 588.16,350.13 588.24,350.15 588.32,350.17 588.41,350.18 588.49,350.20 588.57,350.21 588.65,350.23 588.73,350.24 588.81,350.25 588.90,350.26 588.98,350.27 589.06,350.29 589.14,350.30 589.22,350.31 589.30,350.32 589.39,350.33 589.47,350.34 589.55,350.35 589.63,350.36 589.71,350.36 589.79,350.37 589.87,350.38 589.96,350.39 590.04,350.40 590.12,350.41 590.20,350.41 590.28,350.42 590.36,350.43 590.45,350.43 590.53,350.44 590.61,350.45 590.69,350.45 590.77,350.46 590.85,350.47 590.94,350.47 591.02,350.48 591.10,350.49 591.18,350.49 591.26,350.50 591.34,350.50 591.43,350.51 591.51,350.51 591.59,350.52 591.67,350.52 591.75,350.53 591.83,350.53 591.92,350.54 592.00,350.54 592.08,350.55 592.16,350.55 592.24,350.56 592.32,350.56 592.40,350.56 592.49,350.57 592.57,350.57 592.65,350.58 592.73,350.58 592.81,350.58 592.89,350.59 592.98,350.59 593.06,350.60 593.14,350.60 593.22,350.60 593.30,350.61 593.38,350.61 593.47,350.61 593.55,350.62 593.63,350.62 593.71,350.62 593.79,350.63 593.87,350.63 593.96,350.63 594.04,350.63 594.12,350.64 594.20,350.64 594.28,350.64 594.36,350.64 594.45,350.65 594.53,350.65 594.61,350.65 594.69,350.66 594.77,350.66 594.85,350.66 594.93,350.66 595.02,350.66 595.10,350.67 595.18,350.67 595.26,350.67 595.34,350.67 595.42,350.68 595.51,350.68 595.59,350.68 595.67,350.68 595.75,350.68 595.83,350.69 595.91,350.69 596.00,350.69 596.08,350.69 596.16,350.69 596.24,350.70 596.32,350.70 596.40,350.70 596.49,350.70 596.57,350.70 596.65,350.70 596.73,350.71 596.81,350.71 596.89,350.71 596.97,350.71 597.06,350.71 597.14,350.71 597.22,350.71 597.30,350.72 597.38,350.72 597.46,350.72 597.55,350.72 597.63,350.72 597.71,350.72 597.79,350.72 597.87,350.73 597.95,350.73 598.04,350.73 598.12,350.73 598.20,350.73 598.28,350.73 598.36,350.73 598.44,350.73 598.53,350.74 598.61,350.74 598.69,350.74 598.77,350.74 598.85,350.74 598.93,350.74 599.02,350.74 599.10,350.74 599.18,350.74 599.26,350.74 599.34,350.75 599.42,350.75 599.50,350.75 599.59,350.75 599.67,350.75 599.75,350.75 599.83,350.75 599.91,350.75 599.99,350.75 600.08,350.75 600.16,350.75 600.24,350.76 600.32,350.76 600.40,350.76 600.48,350.76 600.57,350.76 600.65,350.76 600.73,350.76 600.81,350.76 600.89,350.76 600.97,350.76 601.06,350.76 601.14,350.76 601.22,350.76 601.30,350.77 601.38,350.77 601.46,350.77 601.55,350.77 601.63,350.77 601.71,350.77 601.79,350.77 601.87,350.77 601.95,350.77 602.03,350.77 602.12,350.77 602.20,350.77 602.28,350.77 602.36,350.77 602.44,350.77 602.52,350.77 602.61,350.78 602.69,350.78 602.77,350.78 602.85,350.78 602.93,350.78 603.01,350.78 603.10,350.78 603.18,350.78 603.26,350.78 603.34,350.78 603.42,350.78 603.50,350.78 603.59,350.78 603.67,350.78 603.75,350.78 603.83,350.78 603.91,350.78 603.99,350.78 604.08,350.78 604.16,350.78 604.24,350.78 604.32,350.78 604.40,350.78 604.48,350.79 604.56,350.79 604.65,350.79 604.73,350.79 604.81,350.79 604.89,350.79 604.97,350.79 605.05,350.79 605.14,350.79 605.22,350.79 605.30,350.79 605.38,350.79 605.46,350.79 605.54,350.79 605.63,350.79 605.71,350.79 605.79,350.79 605.87,350.79 605.95,350.79 606.03,350.79 606.12,350.79 606.20,350.79 606.28,350.79 606.36,350.79 606.44,350.79 606.52,350.79 606.60,350.79 606.69,350.79 606.77,350.79 606.85,350.79 606.93,350.79 607.01,350.79 607.09,350.79 607.18,350.79 607.26,350.79 607.34,350.79 607.42,350.79 607.50,350.79 607.58,350.79 607.67,350.79 607.75,350.79 607.83,350.79 607.91,350.79 607.99,350.79 608.07,350.79 608.16,350.79 608.24,350.79 608.32,350.79 608.40,350.79 608.48,350.79 608.56,350.79 608.65,350.79 608.73,350.79 608.81,350.79 608.89,350.79 608.97,350.79 609.05,350.79 609.13,350.79 609.22,350.79 609.30,350.79 609.38,350.79 609.46,350.79 609.54,350.79 609.62,350.79 609.71,350.79 609.79,350.79 609.87,350.79 609.95,350.79 610.03,350.79 610.11,350.79 610.20,350.79 610.28,350.79 610.36,350.79 610.44,350.79 610.52,350.79 610.60,350.79 610.69,350.79 610.77,350.79 610.85,350.79 610.93,350.79 611.01,350.79 611.09,350.79 611.18,350.79 611.26,350.79 611.34,350.79 611.42,350.79 611.50,350.78 611.58,350.78 611.66,350.78 611.75,350.78 611.83,350.78 611.91,350.78 611.99,350.78 612.07,350.78 612.15,350.78 612.24,350.78 612.32,350.78 612.40,350.78 612.48,350.78 612.56,350.78 612.64,350.77 612.73,350.77 612.81,350.77 612.89,350.77 612.97,350.77 613.05,350.77 613.13,350.77 613.22,350.77 613.30,350.76 613.38,350.76 613.46,350.76 613.54,350.76 613.62,350.76 613.71,350.76 613.79,350.75 613.87,350.75 613.95,350.75 614.03,350.75 614.11,350.74 614.19,350.74 614.28,350.74 614.36,350.73 614.44,350.73 614.52,350.73 614.60,350.72 614.68,350.72 614.77,350.71 614.85,350.71 614.93,350.70 615.01,350.69 615.09,350.69 615.17,350.68 615.26,350.67 615.34,350.66 615.42,350.66 615.50,350.65 615.58,350.64 615.66,350.63 615.75,350.61 615.83,350.60 615.91,350.59 615.99,350.58 616.07,350.56 616.15,350.55 616.23,350.53 616.32,350.51 616.40,350.50 616.48,350.48 616.56,350.46 616.64,350.44 616.72,350.41 616.81,350.39 616.89,350.37 616.97,350.34 617.05,350.31 617.13,350.29 617.21,350.26 617.30,350.23 617.38,350.20 617.46,350.17 617.54,350.13 617.62,350.10 617.70,350.06 617.79,350.03 617.87,349.99 617.95,349.95 618.03,349.92 618.11,349.88 618.19,349.84 618.28,349.80 618.36,349.76 618.44,349.71 618.52,349.67 618.60,349.63 618.68,349.59 618.76,349.55 618.85,349.51 618.93,349.46 619.01,349.42 619.09,349.38 619.17,349.34 619.25,349.30 619.34,349.26 619.42,349.23 619.50,349.19 619.58,349.16 619.66,349.13 619.74,349.10 619.83,349.07 619.91,349.04 619.99,349.02 620.07,349.00 620.15,348.98 620.23,348.96 620.32,348.95 620.40,348.94 620.48,348.94 620.56,348.93 620.64,348.93 620.72,348.94 620.81,348.94 620.89,348.95 620.97,348.96 621.05,348.98 621.13,349.00 621.21,349.02 621.29,349.04 621.38,349.07 621.46,349.10 621.54,349.13 621.62,349.16 621.70,349.19 621.78,349.23 621.87,349.26 621.95,349.30 622.03,349.34 622.11,349.38 622.19,349.42 622.27,349.46 622.36,349.50 622.44,349.55 622.52,349.59 622.60,349.63 622.68,349.67 622.76,349.71 622.85,349.76 622.93,349.80 623.01,349.84 623.09,349.88 623.17,349.92 623.25,349.95 623.34,349.99 623.42,350.03 623.50,350.06 623.58,350.10 623.66,350.13 623.74,350.16 623.82,350.20 623.91,350.23 623.99,350.26 624.07,350.28 624.15,350.31 624.23,350.34 624.31,350.36 624.40,350.39 624.48,350.41 624.56,350.43 624.64,350.45 624.72,350.47 624.80,350.49 624.89,350.51 624.97,350.53 625.05,350.54 625.13,350.56 625.21,350.57 625.29,350.59 625.38,350.60 625.46,350.61 625.54,350.62 625.62,350.63 625.70,350.64 625.78,350.65 625.86,350.66 625.95,350.67 626.03,350.68 626.11,350.68 626.19,350.69 626.27,350.70 626.35,350.70 626.44,350.71 626.52,350.71 626.60,350.72 626.68,350.72 626.76,350.72 626.84,350.73 626.93,350.73 627.01,350.73 627.09,350.74 627.17,350.74 627.25,350.74 627.33,350.75 627.42,350.75 627.50,350.75 627.58,350.75 627.66,350.75 627.74,350.75 627.82,350.76 627.91,350.76 627.99,350.76 628.07,350.76 628.15,350.76 628.23,350.76 628.31,350.76 628.39,350.76 628.48,350.77 628.56,350.77 628.64,350.77 628.72,350.77 628.80,350.77 628.88,350.77 628.97,350.77 629.05,350.77 629.13,350.77 629.21,350.77 629.29,350.77 629.37,350.77 629.46,350.77 629.54,350.77 629.62,350.77 629.70,350.77 629.78,350.78 629.86,350.78 629.95,350.78 630.03,350.78 630.11,350.78 630.19,350.78 630.27,350.78 630.35,350.78 630.44,350.78 630.52,350.78 630.60,350.78 630.68,350.78 630.76,350.78 630.84,350.78 630.92,350.78 631.01,350.78 631.09,350.78 631.17,350.78 631.25,350.78 631.33,350.78 631.41,350.78 631.50,350.78 631.58,350.78 631.66,350.78 631.74,350.78 631.82,350.78 631.90,350.78 631.99,350.78 632.07,350.78 632.15,350.78 632.23,350.78 632.31,350.78 632.39,350.78 632.48,350.78 632.56,350.78 632.64,350.78 632.72,350.78 632.80,350.78 632.88,350.77 632.96,350.77 633.05,350.77 633.13,350.77 633.21,350.77 633.29,350.77 633.37,350.77 633.45,350.77 633.54,350.77 633.62,350.77 633.70,350.77 633.78,350.77 633.86,350.77 633.94,350.77 634.03,350.77 634.11,350.77 634.19,350.77 634.27,350.77 634.35,350.77 634.43,350.77 634.52,350.77 634.60,350.77 634.68,350.76 634.76,350.76 634.84,350.76 634.92,350.76 635.01,350.76 635.09,350.76 635.17,350.76 635.25,350.76 635.33,350.76 635.41,350.76 635.49,350.76 635.58,350.76 635.66,350.76 635.74,350.75 635.82,350.75 635.90,350.75 635.98,350.75 636.07,350.75 636.15,350.75 636.23,350.75 636.31,350.75 636.39,350.75 636.47,350.75 636.56,350.74 636.64,350.74 636.72,350.74 636.80,350.74 636.88,350.74 636.96,350.74 637.05,350.74 637.13,350.74 637.21,350.73 637.29,350.73 637.37,350.73 637.45,350.73 637.54,350.73 637.62,350.73 637.70,350.72 637.78,350.72 637.86,350.72 637.94,350.72 638.02,350.72 638.11,350.71 638.19,350.71 638.27,350.71 638.35,350.71 638.43,350.70 638.51,350.70 638.60,350.70 638.68,350.69 638.76,350.69 638.84,350.69 638.92,350.68 639.00,350.68 639.09,350.67 639.17,350.67 639.25,350.66 639.33,350.66 639.41,350.65 639.49,350.65 639.58,350.64 639.66,350.63 639.74,350.63 639.82,350.62 639.90,350.61 639.98,350.60 640.07,350.59 640.15,350.58 640.23,350.57 640.31,350.56 640.39,350.55 640.47,350.54 640.55,350.52 640.64,350.51 640.72,350.49 640.80,350.48 640.88,350.46 640.96,350.44 641.04,350.42 641.13,350.40 641.21,350.38 641.29,350.36 641.37,350.33 641.45,350.31 641.53,350.28 641.62,350.25 641.70,350.22 641.78,350.19 641.86,350.16 641.94,350.13 642.02,350.09 642.11,350.06 642.19,350.02 642.27,349.98 642.35,349.94 642.43,349.89 642.51,349.85 642.59,349.80 642.68,349.75 642.76,349.70 642.84,349.65 642.92,349.60 643.00,349.55 643.08,349.49 643.17,349.44 643.25,349.38 643.33,349.32 643.41,349.26 643.49,349.20 643.57,349.14 643.66,349.07 643.74,349.01 643.82,348.95 643.90,348.88 643.98,348.82 644.06,348.75 644.15,348.68 644.23,348.62 644.31,348.55 644.39,348.49 644.47,348.42 644.55,348.36 644.64,348.29 644.72,348.23 644.80,348.17 644.88,348.11 644.96,348.05 645.04,348.00 645.12,347.94 645.21,347.89 645.29,347.84 645.37,347.79 645.45,347.74 645.53,347.70 645.61,347.66 645.70,347.63 645.78,347.59 645.86,347.56 645.94,347.53 646.02,347.51 646.10,347.49 646.19,347.48 646.27,347.46 646.35,347.45 646.43,347.45 646.51,347.45 646.59,347.45 646.68,347.45 646.76,347.46 646.84,347.47 646.92,347.48 647.00,347.50 647.08,347.51 647.17,347.53 647.25,347.55 647.33,347.58 647.41,347.60 647.49,347.63 647.57,347.65 647.65,347.68 647.74,347.71 647.82,347.74 647.90,347.76 647.98,347.79 648.06,347.81 648.14,347.84 648.23,347.86 648.31,347.89 648.39,347.91 648.47,347.93 648.55,347.94 648.63,347.96 648.72,347.97 648.80,347.98 648.88,347.99 648.96,347.99 649.04,347.99 649.12,347.99 649.21,347.99 649.29,347.98 649.37,347.97 649.45,347.96 649.53,347.94 649.61,347.93 649.70,347.90 649.78,347.88 649.86,347.85 649.94,347.82 650.02,347.79 650.10,347.76 650.18,347.72 650.27,347.68 650.35,347.64 650.43,347.60 650.51,347.56 650.59,347.51 650.67,347.47 650.76,347.42 650.84,347.37 650.92,347.33 651.00,347.28 651.08,347.24 651.16,347.19 651.25,347.15 651.33,347.11 651.41,347.06 651.49,347.03 651.57,346.99 651.65,346.96 651.74,346.93 651.82,346.90 651.90,346.87 651.98,346.85 652.06,346.84 652.14,346.82 652.22,346.81 652.31,346.81 652.39,346.80 652.47,346.80 652.55,346.81 652.63,346.82 652.71,346.83 652.80,346.84 652.88,346.86 652.96,346.88 653.04,346.90 653.12,346.93 653.20,346.95 653.29,346.98 653.37,347.00 653.45,347.03 653.53,347.06 653.61,347.08 653.69,347.11 653.78,347.13 653.86,347.15 653.94,347.17 654.02,347.18 654.10,347.19 654.18,347.20 654.27,347.20 654.35,347.20 654.43,347.19 654.51,347.17 654.59,347.15 654.67,347.12 654.75,347.08 654.84,347.03 654.92,346.97 655.00,346.91 655.08,346.83 655.16,346.74 655.24,346.65 655.33,346.54 655.41,346.42 655.49,346.29 655.57,346.14 655.65,345.99 655.73,345.82 655.82,345.63 655.90,345.44 655.98,345.23 656.06,345.01 656.14,344.78 656.22,344.53 656.31,344.27 656.39,343.99 656.47,343.71 656.55,343.41 656.63,343.10 656.71,342.78 656.80,342.45 656.88,342.11 656.96,341.76 657.04,341.39 657.12,341.03 657.20,340.65 657.28,340.27 657.37,339.88 657.45,339.49 657.53,339.10 657.61,338.70 657.69,338.31 657.77,337.92 657.86,337.52 657.94,337.14 658.02,336.76 658.10,336.39 658.18,336.02 658.26,335.67 658.35,335.34 658.43,335.01 658.51,334.71 658.59,334.42 658.67,334.16 658.75,333.92 658.84,333.70 658.92,333.51 659.00,333.34 659.08,333.21 659.16,333.10 659.24,333.03 659.33,332.99 659.41,332.98 659.49,333.00 659.57,333.05 659.65,333.14 659.73,333.25 659.81,333.40 659.90,333.57 659.98,333.78 660.06,334.01 660.14,334.26 660.22,334.54 660.30,334.83 660.39,335.15 660.47,335.48 660.55,335.83 660.63,336.20 660.71,336.57 660.79,336.96 660.88,337.35 660.96,337.75 661.04,338.15 661.12,338.56 661.20,338.97 661.28,339.38 661.37,339.79 661.45,340.20 661.53,340.61 661.61,341.01 661.69,341.41 661.77,341.80 661.85,342.18 661.94,342.56 662.02,342.93 662.10,343.29 662.18,343.64 662.26,343.98 662.34,344.31 662.43,344.63 662.51,344.94 662.59,345.24 662.67,345.53 662.75,345.80 662.83,346.07 662.92,346.32 663.00,346.57 663.08,346.80 663.16,347.02 663.24,347.23 663.32,347.43 663.41,347.62 663.49,347.80 663.57,347.97 663.65,348.13 663.73,348.28 663.81,348.43 663.90,348.56 663.98,348.69 664.06,348.81 664.14,348.92 664.22,349.02 664.30,349.12 664.38,349.21 664.47,349.30 664.55,349.38 664.63,349.45 664.71,349.52 664.79,349.59 664.87,349.65 664.96,349.71 665.04,349.76 665.12,349.81 665.20,349.85 665.28,349.89 665.36,349.93 665.45,349.97 665.53,350.01 665.61,350.04 665.69,350.07 665.77,350.10 665.85,350.12 665.94,350.15 666.02,350.17 666.10,350.19 666.18,350.21 666.26,350.23 666.34,350.25 666.43,350.26 666.51,350.28 666.59,350.30 666.67,350.31 666.75,350.32 666.83,350.34 666.91,350.35 667.00,350.36 667.08,350.37 667.16,350.38 667.24,350.39 667.32,350.40 667.40,350.41 667.49,350.42 667.57,350.43 667.65,350.44 667.73,350.45 667.81,350.46 667.89,350.46 667.98,350.47 668.06,350.48 668.14,350.49 668.22,350.49 668.30,350.50 668.38,350.51 668.47,350.51 668.55,350.52 668.63,350.52 668.71,350.53 668.79,350.54 668.87,350.54 668.96,350.55 669.04,350.55 669.12,350.56 669.20,350.56 669.28,350.57 669.36,350.57 669.44,350.58 669.53,350.58 669.61,350.59 669.69,350.59 669.77,350.59 669.85,350.60 669.93,350.60 670.02,350.61 670.10,350.61 670.18,350.62 670.26,350.62 670.34,350.62 670.42,350.63 670.51,350.63 670.59,350.63 670.67,350.64 670.75,350.64 670.83,350.64 670.91,350.65 671.00,350.65 671.08,350.65 671.16,350.66 671.24,350.66 671.32,350.66 671.40,350.66 671.48,350.67 671.57,350.67 671.65,350.67 671.73,350.68 671.81,350.68 671.89,350.68 671.97,350.68 672.06,350.69 672.14,350.69 672.22,350.69 672.30,350.69 672.38,350.70 672.46,350.70 672.55,350.70 672.63,350.70 672.71,350.70 672.79,350.71 672.87,350.71 672.95,350.71 673.04,350.71 673.12,350.71 673.20,350.72 673.28,350.72 673.36,350.72 673.44,350.72 673.53,350.72 673.61,350.73 673.69,350.73 673.77,350.73"/>
<!-- difference -->
<polyline fill="none" stroke="#00f" stroke-width="1.3" stroke-linejoin="round" points="61.7,428.0 62.3,426.0 62.8,425.2 63.4,426.1 64.0,425.1 64.6,424.9 65.1,425.0 65.7,424.1 66.3,424.1 66.8,424.2 67.4,424.4 68.0,425.0 68.6,425.5 69.1,425.5 69.7,425.1 70.3,425.0 70.8,424.7 71.4,424.2 72.0,424.8 72.5,425.5 73.1,424.8 73.7,424.8 74.3,424.9 74.8,424.5 75.4,424.8 76.0,425.7 76.5,425.4 77.1,424.2 77.7,424.0 78.3,425.6 78.8,425.5 79.4,425.2 80.0,425.4 80.5,425.2 81.1,425.3 81.7,424.2 82.3,424.1 82.8,425.8 83.4,425.9 84.0,425.2 84.5,425.1 85.1,424.8 85.7,425.1 86.3,425.4 86.8,426.3 87.4,426.0 88.0,424.9 88.5,424.6 89.1,424.1 89.7,423.6 90.3,424.6 90.8,424.4 91.4,424.8 92.0,426.1 92.5,425.3 93.1,424.3 93.7,424.1 94.3,423.9 94.8,424.3 95.4,425.0 96.0,425.3 96.5,425.5 97.1,425.1 97.7,424.6 98.3,423.9 98.8,423.4 99.4,423.9 100.0,424.6 100.5,425.4 101.1,426.6 101.7,426.9 102.3,426.0 102.8,426.1 103.4,425.8 104.0,424.7 104.5,425.8 105.1,425.6 105.7,424.3 106.3,424.7 106.8,425.6 107.4,425.4 108.0,425.1 108.5,425.2 109.1,424.2 109.7,424.5 110.3,425.2 110.8,424.5 111.4,424.1 112.0,424.2 112.5,425.1 113.1,425.7 113.7,425.3 114.3,425.3 114.8,425.0 115.4,425.0 116.0,424.9 116.5,424.1 117.1,424.1 117.7,424.8 118.3,425.1 118.8,425.5 119.4,424.7 120.0,424.1 120.5,425.1 121.1,424.7 121.7,424.7 122.2,424.9 122.8,424.3 123.4,425.0 124.0,424.9 124.5,424.8 125.1,425.3 125.7,424.4 126.2,424.2 126.8,424.2 127.4,424.3 128.0,424.7 128.5,424.3 129.1,424.7 129.7,426.0 130.2,426.0 130.8,425.2 131.4,423.5 132.0,423.6 132.5,424.6 133.1,425.1 133.7,424.9 134.2,424.7 134.8,425.0 135.4,424.4 136.0,425.1 136.5,425.3 137.1,424.6 137.7,425.6 138.2,425.1 138.8,424.6 139.4,425.8 140.0,425.6 140.5,425.4 141.1,425.6 141.7,425.3 142.2,425.5 142.8,425.2 143.4,424.8 144.0,425.4 144.5,425.6 145.1,425.4 145.7,424.7 146.2,424.5 146.8,425.6 147.4,426.0 148.0,425.6 148.5,424.9 149.1,424.5 149.7,424.9 150.2,425.9 150.8,425.7 151.4,425.6 152.0,425.5 152.5,425.4 153.1,425.1 153.7,424.6 154.2,424.6 154.8,424.8 155.4,425.6 156.0,424.8 156.5,424.2 157.1,424.5 157.7,424.1 158.2,423.9 158.8,424.2 159.4,425.0 160.0,426.0 160.5,425.5 161.1,424.7 161.7,425.0 162.2,424.9 162.8,424.6 163.4,425.3 164.0,425.5 164.5,425.1 165.1,424.7 165.7,425.4 166.2,425.4 166.8,424.8 167.4,424.6 168.0,424.3 168.5,424.8 169.1,424.9 169.7,425.1 170.2,425.3 170.8,424.4 171.4,423.3 172.0,424.4 172.5,425.2 173.1,425.4 173.7,425.7 174.2,424.7 174.8,424.9 175.4,425.1 175.9,424.9 176.5,424.6 177.1,424.9 177.7,425.8 178.2,425.3 178.8,425.6 179.4,425.6 179.9,424.9 180.5,424.4 181.1,423.3 181.7,425.1 182.2,426.7 182.8,426.2 183.4,424.8 183.9,424.3 184.5,425.3 185.1,425.2 185.7,425.2 186.2,424.7 186.8,424.5 187.4,424.4 187.9,424.3 188.5,425.0 189.1,424.8 189.7,424.5 190.2,424.7 190.8,424.8 191.4,425.4 191.9,425.6 192.5,425.3 193.1,424.5 193.7,424.2 194.2,425.2 194.8,425.0 195.4,424.4 195.9,424.4 196.5,425.2 197.1,425.4 197.7,424.5 198.2,425.0 198.8,425.8 199.4,425.8 199.9,425.7 200.5,425.6 201.1,425.0 201.7,424.7 202.2,424.6 202.8,424.5 203.4,424.9 203.9,425.1 204.5,425.0 205.1,425.3 205.7,425.3 206.2,424.3 206.8,424.0 207.4,424.1 207.9,423.6 208.5,424.2 209.1,424.5 209.7,423.8 210.2,423.9 210.8,424.9 211.4,425.3 211.9,425.3 212.5,425.4 213.1,424.8 213.7,425.1 214.2,425.6 214.8,425.3 215.4,424.6 215.9,424.3 216.5,424.2 217.1,424.3 217.7,424.9 218.2,425.7 218.8,426.4 219.4,426.0 219.9,425.8 220.5,425.6 221.1,426.4 221.7,427.0 222.2,427.0 222.8,426.4 223.4,425.4 223.9,425.7 224.5,425.6 225.1,425.2 225.6,424.7 226.2,425.0 226.8,425.5 227.4,425.4 227.9,425.3 228.5,424.1 229.1,424.4 229.6,425.8 230.2,424.9 230.8,423.9 231.4,424.4 231.9,424.7 232.5,424.1 233.1,425.0 233.6,426.3 234.2,425.2 234.8,423.9 235.4,424.3 235.9,426.1 236.5,426.3 237.1,425.9 237.6,425.1 238.2,424.7 238.8,424.4 239.4,425.2 239.9,426.2 240.5,424.3 241.1,423.1 241.6,424.4 242.2,425.3 242.8,424.9 243.4,425.1 243.9,426.2 244.5,426.1 245.1,424.3 245.6,424.1 246.2,424.3 246.8,424.0 247.4,424.8 247.9,425.1 248.5,424.4 249.1,424.5 249.6,424.6 250.2,424.9 250.8,425.1 251.4,425.1 251.9,425.1 252.5,425.2 253.1,425.3 253.6,424.9 254.2,424.7 254.8,424.8 255.4,424.2 255.9,425.4 256.5,425.9 257.1,424.7 257.6,424.8 258.2,424.5 258.8,425.0 259.4,424.9 259.9,424.5 260.5,424.1 261.1,423.9 261.6,424.0 262.2,425.3 262.8,425.2 263.4,423.9 263.9,424.6 264.5,425.7 265.1,424.9 265.6,423.5 266.2,424.3 266.8,425.2 267.4,424.5 267.9,423.5 268.5,423.7 269.1,424.9 269.6,425.3 270.2,425.3 270.8,425.3 271.4,424.9 271.9,425.3 272.5,425.2 273.1,425.0 273.6,424.7 274.2,424.3 274.8,424.9 275.3,425.1 275.9,424.5 276.5,424.9 277.1,425.5 277.6,425.2 278.2,424.6 278.8,425.0 279.3,426.6 279.9,425.8 280.5,423.9 281.1,423.9 281.6,424.2 282.2,424.0 282.8,423.8 283.3,424.8 283.9,425.8 284.5,426.1 285.1,426.0 285.6,425.2 286.2,426.2 286.8,429.0 287.3,429.4 287.9,424.4 288.5,417.3 289.1,415.8 289.6,421.4 290.2,425.3 290.8,426.3 291.3,425.7 291.9,425.6 292.5,425.4 293.1,425.2 293.6,424.5 294.2,424.1 294.8,424.0 295.3,425.0 295.9,426.5 296.5,426.0 297.1,425.8 297.6,426.4 298.2,426.4 298.8,424.7 299.3,424.1 299.9,423.8 300.5,423.5 301.1,424.0 301.6,424.4 302.2,425.2 302.8,424.7 303.3,424.4 303.9,425.0 304.5,425.0 305.1,424.8 305.6,423.8 306.2,423.6 306.8,425.1 307.3,425.5 307.9,424.4 308.5,424.1 309.1,425.0 309.6,424.6 310.2,424.8 310.8,424.9 311.3,424.4 311.9,424.8 312.5,426.0 313.1,425.9 313.6,424.5 314.2,425.0 314.8,425.1 315.3,424.8 315.9,424.0 316.5,424.0 317.1,425.1 317.6,424.4 318.2,425.0 318.8,425.5 319.3,424.8 319.9,424.3 320.5,423.6 321.1,423.9 321.6,424.0 322.2,424.5 322.8,425.6 323.3,425.1 323.9,423.9 324.5,424.0 325.1,424.3 325.6,424.5 326.2,425.1 326.8,424.8 327.3,424.8 327.9,425.5 328.5,426.2 329.0,425.5 329.6,425.1 330.2,425.2 330.8,424.4 331.3,425.1 331.9,425.7 332.5,425.2 333.0,425.2 333.6,425.1 334.2,424.4 334.8,425.3 335.3,426.2 335.9,425.5 336.5,425.5 337.0,426.0 337.6,425.5 338.2,425.1 338.8,425.1 339.3,425.1 339.9,425.1 340.5,426.0 341.0,425.9 341.6,425.0 342.2,425.4 342.8,425.0 343.3,425.2 343.9,425.4 344.5,424.7 345.0,424.5 345.6,423.6 346.2,423.8 346.8,425.3 347.3,426.4 347.9,425.6 348.5,424.8 349.0,424.8 349.6,424.6 350.2,425.6 350.8,425.7 351.3,425.0 351.9,425.4 352.5,426.0 353.0,426.3 353.6,425.0 354.2,424.2 354.8,424.9 355.3,424.4 355.9,424.6 356.5,424.5 357.0,423.4 357.6,423.5 358.2,424.4 358.8,425.7 359.3,425.5 359.9,424.1 360.5,423.5 361.0,423.9 361.6,424.7 362.2,424.9 362.8,424.4 363.3,423.9 363.9,423.5 364.5,424.0 365.0,424.3 365.6,422.9 366.2,424.2 366.8,425.7 367.3,425.4 367.9,425.3 368.5,424.6 369.0,425.0 369.6,425.0 370.2,425.4 370.8,426.0 371.3,424.2 371.9,424.4 372.5,425.4 373.0,422.8 373.6,422.9 374.2,427.1 374.8,427.9 375.3,424.7 375.9,424.4 376.5,425.3 377.0,424.9 377.6,424.6 378.2,424.0 378.7,425.1 379.3,425.3 379.9,424.6 380.5,424.2 381.0,424.5 381.6,425.4 382.2,425.1 382.7,424.7 383.3,424.3 383.9,425.0 384.5,425.3 385.0,424.6 385.6,425.7 386.2,425.6 386.7,424.1 387.3,423.8 387.9,424.4 388.5,425.6 389.0,425.9 389.6,425.0 390.2,425.2 390.7,426.0 391.3,425.2 391.9,425.3 392.5,426.0 393.0,425.6 393.6,424.1 394.2,424.0 394.7,425.7 395.3,425.5 395.9,425.9 396.5,426.1 397.0,424.5 397.6,424.8 398.2,425.4 398.7,425.5 399.3,425.3 399.9,425.5 400.5,425.3 401.0,424.8 401.6,424.4 402.2,423.4 402.7,421.4 403.3,419.2 403.9,423.2 404.5,428.6 405.0,428.3 405.6,426.2 406.2,425.7 406.7,425.8 407.3,425.5 407.9,424.8 408.5,424.0 409.0,424.1 409.6,424.5 410.2,423.8 410.7,424.9 411.3,424.9 411.9,424.3 412.5,425.4 413.0,425.1 413.6,426.0 414.2,426.1 414.7,424.7 415.3,425.4 415.9,425.4 416.5,424.0 417.0,423.9 417.6,424.3 418.2,424.7 418.7,425.1 419.3,424.5 419.9,424.5 420.5,426.1 421.0,425.6 421.6,424.6 422.2,425.2 422.7,425.8 423.3,425.2 423.9,424.3 424.5,424.2 425.0,425.0 425.6,425.8 426.2,424.5 426.7,423.2 427.3,423.6 427.9,423.8 428.5,424.5 429.0,425.2 429.6,425.9 430.2,426.1 430.7,425.4 431.3,425.5 431.9,425.1 432.4,424.0 433.0,424.4 433.6,425.4 434.2,424.7 434.7,424.7 435.3,425.7 435.9,425.1 436.4,424.8 437.0,424.9 437.6,424.9 438.2,425.3 438.7,425.0 439.3,425.1 439.9,425.7 440.4,425.7 441.0,424.6 441.6,423.5 442.2,424.5 442.7,425.0 443.3,424.5 443.9,424.4 444.4,424.2 445.0,424.4 445.6,424.6 446.2,424.5 446.7,424.9 447.3,424.7 447.9,425.0 448.4,424.6 449.0,425.1 449.6,425.4 450.2,424.7 450.7,425.6 451.3,425.3 451.9,425.3 452.4,425.2 453.0,424.3 453.6,424.5 454.2,425.5 454.7,425.2 455.3,424.1 455.9,424.1 456.4,424.9 457.0,425.2 457.6,425.5 458.2,425.6 458.7,425.4 459.3,424.4 459.9,425.1 460.4,425.8 461.0,425.3 461.6,425.2 462.2,424.8 462.7,425.0 463.3,425.6 463.9,426.1 464.4,425.8 465.0,425.9 465.6,425.6 466.2,425.0 466.7,425.0 467.3,425.3 467.9,425.5 468.4,425.3 469.0,425.9 469.6,424.9 470.2,425.0 470.7,425.9 471.3,425.0 471.9,424.2 472.4,424.2 473.0,424.1 473.6,424.2 474.2,425.0 474.7,425.6 475.3,425.5 475.9,425.2 476.4,425.8 477.0,426.1 477.6,425.6 478.2,425.2 478.7,424.7 479.3,424.1 479.9,424.5 480.4,424.9 481.0,424.6 481.6,424.4 482.1,425.1 482.7,425.1 483.3,424.8 483.9,424.6 484.4,425.2 485.0,426.0 485.6,425.6 486.1,425.0 486.7,425.5 487.3,425.7 487.9,424.9 488.4,424.3 489.0,424.4 489.6,425.5 490.1,425.5 490.7,425.7 491.3,425.9 491.9,424.9 492.4,425.3 493.0,425.3 493.6,425.0 494.1,424.8 494.7,424.3 495.3,424.2 495.9,423.7 496.4,422.1 497.0,423.0 497.6,427.7 498.1,429.1 498.7,426.2 499.3,424.9 499.9,424.1 500.4,424.8 501.0,425.3 501.6,425.0 502.1,425.6 502.7,425.8 503.3,425.4 503.9,425.1 504.4,425.1 505.0,425.4 505.6,425.4 506.1,425.0 506.7,425.0 507.3,425.2 507.9,425.3 508.4,425.3 509.0,425.5 509.6,425.5 510.1,425.3 510.7,425.3 511.3,424.8 511.9,424.6 512.4,424.7 513.0,425.1 513.6,425.5 514.1,425.3 514.7,424.8 515.3,424.7 515.9,425.2 516.4,425.4 517.0,424.9 517.6,425.1 518.1,424.8 518.7,424.7 519.3,425.0 519.9,425.0 520.4,424.6 521.0,425.0 521.6,425.7 522.1,425.1 522.7,424.7 523.3,425.2 523.9,425.8 524.4,425.5 525.0,424.6 525.6,424.7 526.1,425.5 526.7,425.6 527.3,425.1 527.9,425.5 528.4,424.9 529.0,423.9 529.6,424.7 530.1,425.4 530.7,424.8 531.3,424.8 531.9,425.1 532.4,425.1 533.0,424.8 533.6,424.7 534.1,424.6 534.7,424.8 535.3,425.0 535.8,425.4 536.4,425.6 537.0,424.8 537.6,424.7 538.1,425.5 538.7,425.4 539.3,425.4 539.8,425.3 540.4,425.2 541.0,424.9 541.6,425.0 542.1,424.8 542.7,425.0 543.3,424.9 543.8,424.1 544.4,424.6 545.0,425.1 545.6,425.0 546.1,425.1 546.7,425.1 547.3,424.8 547.8,424.8 548.4,425.1 549.0,425.2 549.6,425.6 550.1,425.3 550.7,424.8 551.3,425.2 551.8,425.0 552.4,424.6 553.0,424.5 553.6,425.1 554.1,425.2 554.7,425.1 555.3,425.0 555.8,424.9 556.4,424.9 557.0,424.6 557.6,424.8 558.1,425.0 558.7,425.4 559.3,425.0 559.8,424.7 560.4,425.5 561.0,425.8 561.6,425.3 562.1,424.7 562.7,424.7 563.3,424.9 563.8,425.1 564.4,425.1 565.0,425.2 565.6,424.9 566.1,424.1 566.7,423.2 567.3,422.6 567.8,423.9 568.4,425.4 569.0,426.1 569.6,425.9 570.1,425.1 570.7,425.4 571.3,425.2 571.8,424.9 572.4,425.3 573.0,425.5 573.6,425.3 574.1,425.0 574.7,424.6 575.3,424.6 575.8,424.8 576.4,425.0 577.0,425.0 577.6,423.7 578.1,420.4 578.7,421.0 579.3,425.6 579.8,426.8 580.4,425.3 581.0,424.6 581.6,425.1 582.1,425.5 582.7,424.9 583.3,424.7 583.8,425.0 584.4,424.6 585.0,424.3 585.5,424.2 586.1,424.3 586.7,424.1 587.3,424.1 587.8,424.6 588.4,424.6 589.0,424.6 589.5,425.1 590.1,425.2 590.7,425.0 591.3,425.3 591.8,425.4 592.4,425.4 593.0,425.0 593.5,424.6 594.1,424.5 594.7,424.7 595.3,424.9 595.8,425.0 596.4,425.3 597.0,425.3 597.5,425.4 598.1,425.7 598.7,425.1 599.3,425.1 599.8,424.5 600.4,424.6 601.0,425.5 601.5,425.2 602.1,424.7 602.7,425.2 603.3,425.6 603.8,424.9 604.4,425.2 605.0,425.2 605.5,424.7 606.1,425.0 606.7,424.9 607.3,424.9 607.8,425.2 608.4,425.3 609.0,425.0 609.5,425.0 610.1,425.4 610.7,425.6 611.3,425.3 611.8,425.3 612.4,425.6 613.0,425.4 613.5,425.0 614.1,425.0 614.7,425.3 615.3,425.0 615.8,424.5 616.4,424.5 617.0,425.2 617.5,425.4 618.1,425.3 618.7,425.3 619.3,425.1 619.8,425.1 620.4,425.0 621.0,425.2 621.5,425.3 622.1,425.1 622.7,424.7 623.3,424.7 623.8,424.9 624.4,424.7 625.0,425.1 625.5,425.0 626.1,424.7 626.7,425.1 627.3,425.4 627.8,425.2 628.4,425.0 629.0,425.1 629.5,424.8 630.1,424.2 630.7,424.0 631.3,424.7 631.8,425.2 632.4,424.7 633.0,424.5 633.5,424.7 634.1,424.8 634.7,424.9 635.3,425.5 635.8,425.3 636.4,424.8 637.0,424.8 637.5,424.7 638.1,424.6 638.7,424.7 639.2,424.8 639.8,424.9 640.4,425.1 641.0,424.8 641.5,425.3 642.1,425.2 642.7,424.8 643.2,425.6 643.8,425.4 644.4,425.1 645.0,425.7 645.5,425.4 646.1,424.6 646.7,424.9 647.2,425.4 647.8,424.9 648.4,425.2 649.0,425.1 649.5,425.1 650.1,425.1 650.7,425.0 651.2,424.9 651.8,424.6 652.4,424.7 653.0,424.6 653.5,424.9 654.1,425.0 654.7,425.0 655.2,425.4 655.8,425.3 656.4,424.4 657.0,423.7 657.5,422.7 658.1,422.6 658.7,424.8 659.2,426.6 659.8,426.3 660.4,425.5 661.0,424.9 661.5,425.0 662.1,425.4 662.7,425.2 663.2,425.0 663.8,424.9 664.4,424.9 665.0,425.0 665.5,424.8 666.1,424.9 666.7,425.4 667.2,425.6 667.8,425.5 668.4,425.0 669.0,425.0 669.5,425.1 670.1,425.0 670.7,424.7 671.2,424.5 671.8,424.6 672.4,424.8 673.0,424.6 673.5,424.4"/>
<!-- Bragg positions -->
<g fill="#008000"><rect x="94.2" y="379.3" width="1.5" height="13.9"/><rect x="169.0" y="379.3" width="1.5" height="13.9"/><rect x="212.0" y="379.3" width="1.5" height="13.9"/><rect x="239.4" y="379.3" width="1.5" height="13.9"/><rect x="244.2" y="379.3" width="1.5" height="13.9"/><rect x="286.3" y="379.3" width="3.3" height="13.9"/><rect x="298.6" y="379.3" width="1.7" height="13.9"/><rect x="321.5" y="379.3" width="1.8" height="13.9"/><rect x="328.6" y="379.3" width="1.8" height="13.9"/><rect x="346.1" y="379.3" width="1.7" height="13.9"/><rect x="373.6" y="379.3" width="1.8" height="13.9"/><rect x="400.9" y="379.3" width="1.9" height="13.9"/><rect x="403.9" y="379.3" width="2.1" height="13.9"/><rect x="412.0" y="379.3" width="3.4" height="13.9"/><rect x="430.3" y="379.3" width="1.9" height="13.9"/><rect x="435.4" y="379.3" width="2.0" height="13.9"/><rect x="454.6" y="379.3" width="2.2" height="13.9"/><rect x="469.2" y="379.3" width="1.8" height="13.9"/><rect x="471.7" y="379.3" width="2.2" height="13.9"/><rect x="482.7" y="379.3" width="2.0" height="13.9"/><rect x="487.0" y="379.3" width="2.3" height="13.9"/><rect x="494.4" y="379.3" width="5.1" height="13.9"/><rect x="520.0" y="379.3" width="2.4" height="13.9"/><rect x="537.2" y="379.3" width="2.5" height="13.9"/><rect x="566.4" y="379.3" width="4.9" height="13.9"/><rect x="577.9" y="379.3" width="2.1" height="13.9"/><rect x="580.5" y="379.3" width="1.8" height="13.9"/><rect x="582.7" y="379.3" width="1.0" height="13.9"/><rect x="587.0" y="379.3" width="3.7" height="13.9"/><rect x="605.7" y="379.3" width="2.7" height="13.9" opacity="0.75"/><rect x="621.6" y="379.3" width="3.1" height="13.9" opacity="0.75"/><rect x="633.5" y="379.3" width="1.3" height="13.9"/><rect x="635.7" y="379.3" width="1.3" height="13.9"/><rect x="637.9" y="379.3" width="1.2" height="13.9"/><rect x="645.4" y="379.3" width="4.8" height="13.9"/><rect x="650.6" y="379.3" width="2.4" height="13.9"/><rect x="653.4" y="379.3" width="2.4" height="13.9"/><rect x="657.6" y="379.3" width="7.2" height="13.9"/><rect x="665.1" y="379.3" width="2.6" height="13.9" opacity="0.7"/><rect x="678.2" y="379.3" width="2.2" height="13.9"/><rect x="182.8" y="398.0" width="1.5" height="14.1"/><rect x="207.6" y="398.0" width="2.0" height="14.1"/><rect x="230.9" y="398.0" width="1.5" height="14.1"/><rect x="287.7" y="398.0" width="3.1" height="14.1"/><rect x="304.6" y="398.0" width="1.9" height="14.1"/><rect x="320.5" y="398.0" width="2.9" height="14.1"/><rect x="335.4" y="398.0" width="3.1" height="14.1"/><rect x="349.8" y="398.0" width="2.9" height="14.1"/><rect x="364.0" y="398.0" width="1.7" height="14.1"/><rect x="377.8" y="398.0" width="2.9" height="14.1"/><rect x="403.3" y="398.0" width="3.4" height="14.1"/><rect x="416.0" y="398.0" width="3.2" height="14.1"/><rect x="440.9" y="398.0" width="3.9" height="14.1"/><rect x="452.2" y="398.0" width="4.2" height="14.1"/><rect x="464.3" y="398.0" width="3.6" height="14.1"/><rect x="496.9" y="398.0" width="4.2" height="14.1"/><rect x="508.8" y="398.0" width="2.0" height="14.1"/><rect x="518.5" y="398.0" width="4.5" height="14.1"/><rect x="529.0" y="398.0" width="4.6" height="14.1"/><rect x="549.9" y="398.0" width="4.1" height="14.1"/><rect x="561.0" y="398.0" width="3.5" height="14.1"/><rect x="580.4" y="398.0" width="2.2" height="14.1"/><rect x="583.0" y="398.0" width="2.5" height="14.1"/><rect x="589.7" y="398.0" width="3.1" height="14.1"/><rect x="600.1" y="398.0" width="1.5" height="14.1" opacity="0.8"/><rect x="602.0" y="398.0" width="1.6" height="14.1" opacity="0.8"/><rect x="604.0" y="398.0" width="1.6" height="14.1" opacity="0.8"/><rect x="609.6" y="398.0" width="6.1" height="14.1"/><rect x="618.9" y="398.0" width="6.2" height="14.1"/><rect x="630.8" y="398.0" width="1.0" height="14.1"/><rect x="632.6" y="398.0" width="1.1" height="14.1"/><rect x="638.8" y="398.0" width="1.5" height="14.1"/><rect x="640.9" y="398.0" width="1.1" height="14.1" opacity="0.75"/><rect x="642.4" y="398.0" width="1.1" height="14.1" opacity="0.75"/><rect x="643.9" y="398.0" width="1.0" height="14.1" opacity="0.75"/><rect x="657.6" y="398.0" width="5.9" height="14.1"/><rect x="666.8" y="398.0" width="3.6" height="14.1"/><rect x="671.0" y="398.0" width="2.1" height="14.1" opacity="0.75"/><rect x="676.8" y="398.0" width="3.6" height="14.1"/></g>
<!-- frame -->
<rect x="52.45" y="0.3" width="628.25" height="449.2" fill="none" stroke="#000" stroke-width="2.1"/>
<g stroke="#000" stroke-width="2.1"><line x1="102.50" y1="449.5" x2="102.50" y2="457.4"/><line x1="184.11" y1="449.5" x2="184.11" y2="457.4"/><line x1="265.72" y1="449.5" x2="265.72" y2="457.4"/><line x1="347.33" y1="449.5" x2="347.33" y2="457.4"/><line x1="428.94" y1="449.5" x2="428.94" y2="457.4"/><line x1="510.55" y1="449.5" x2="510.55" y2="457.4"/><line x1="592.16" y1="449.5" x2="592.16" y2="457.4"/><line x1="673.77" y1="449.5" x2="673.77" y2="457.4"/></g>
<g class="xt"><text x="103.0" y="479.6">10</text><text x="184.6" y="479.6">20</text><text x="266.2" y="479.6">30</text><text x="347.8" y="479.6">40</text><text x="429.4" y="479.6">50</text><text x="511.0" y="479.6">60</text><text x="592.7" y="479.6">70</text><text x="674.3" y="479.6">80</text></g>
<text x="337.6" y="512.3" font-size="25.2" letter-spacing="0.35">2θ (°)</text>
<text transform="translate(18.8,295.4) rotate(-90)" font-size="23.8" letter-spacing="0.9">Intensity (a.u)</text>
<!-- title -->
<text class="nb" font-weight="bold"><tspan x="63.60" y="25.6" font-size="23.8">La</tspan><tspan x="91.70" y="35.6" font-size="15.3">1.2</tspan><tspan x="113.00" y="25.6" font-size="23.8">Gd</tspan><tspan x="146.60" y="31.3" font-size="14.6">0.2</tspan><tspan x="167.40" y="25.6" font-size="23.8">Ca</tspan><tspan x="198.40" y="31.3" font-size="14.6">1.2</tspan><tspan x="219.45" y="25.6" font-size="23.8">Sr</tspan><tspan x="244.30" y="31.3" font-size="14.6">0.4</tspan><tspan x="265.20" y="25.6" font-size="23.8">Mn</tspan><tspan x="300.70" y="31.3" font-size="14.6">2</tspan><tspan x="309.00" y="25.6" font-size="23.8">O</tspan><tspan x="328.25" y="31.3" font-size="14.6">7</tspan></text>
<!-- peak labels -->
<g class="pk"><text letter-spacing="-0.28" transform="translate(105.1,294.0) rotate(-90)">(002)</text><text letter-spacing="-0.23" transform="translate(168.9,329.1) rotate(-90)">(004)</text><text class="r" letter-spacing="-0.15" transform="translate(194.6,293.7) rotate(-90)">(020), (101)</text><text letter-spacing="-0.18" transform="translate(224.1,318.1) rotate(-90)">(101)</text><text letter-spacing="-0.18" transform="translate(253.0,322.7) rotate(-90)">(006),(103)</text><text letter-spacing="0.27" transform="translate(329.5,337.1) rotate(-90)">(114)</text><text class="r" letter-spacing="-0.20" transform="translate(341.4,284.0) rotate(-90)">(102),(022)</text><text letter-spacing="-0.25" transform="translate(363.3,258.8) rotate(-90)">(107)</text><text letter-spacing="0.12" transform="translate(381.3,306.6) rotate(-90)">(116)</text><text letter-spacing="0.31" transform="translate(399.0,278.1) rotate(-90)">(0010)</text><text letter-spacing="0.05" transform="translate(406.2,215.6) rotate(-90)">(200)</text><text letter-spacing="-0.08" transform="translate(425.3,329.1) rotate(-90)">(202),(109)</text><text letter-spacing="0.35" transform="translate(453.4,325.7) rotate(-90)">(211)</text><text letter-spacing="0.36" transform="translate(475.8,345.1) rotate(-90)">0012)</text><text letter-spacing="0.58" transform="translate(489.0,291.5) rotate(-90)">(1011)</text><text letter-spacing="0.16" transform="translate(502.8,249.3) rotate(-90)">(1110),(215)</text><text letter-spacing="-0.20" transform="translate(543.6,337.3) rotate(-90)">(217)</text><text letter-spacing="0.00" transform="translate(571.8,339.6) rotate(-90)">(0014),(1013)</text><text letter-spacing="-0.16" transform="translate(593.4,297.0) rotate(-90)">(220),(2010)</text><text letter-spacing="-0.10" transform="translate(616.4,331.4) rotate(-90)">(221)</text><text letter-spacing="0.27" transform="translate(647.7,322.5) rotate(-90)">(1015),(2111)</text><text letter-spacing="-0.30" transform="translate(674.5,303.8) rotate(-90)">(310),(305)</text><text x="202.4" y="332.3" style="font-size:25px">*</text><text x="341.2" y="339.8" style="font-size:20px">*</text></g>
<line x1="188.9" y1="300.0" x2="200.1" y2="323.9" stroke="#000" stroke-width="1.4"/><polygon points="203.9,332.1 196.9,324.4 202.5,321.7" fill="#000"/><line x1="336.8" y1="290.0" x2="341.5" y2="312.8" stroke="#000" stroke-width="1.4"/><polygon points="343.3,321.6 338.2,312.4 344.3,311.2" fill="#000"/><line x1="354.5" y1="266.8" x2="352.7" y2="316.9" stroke="#000" stroke-width="1.4"/><polygon points="352.4,325.9 349.7,315.8 355.9,316.0" fill="#000"/><line x1="389.2" y1="277.8" x2="396.3" y2="313.6" stroke="#000" stroke-width="1.4"/><polygon points="398.0,322.4 393.0,313.2 399.1,312.0" fill="#000"/>
<!-- legend -->
<g class="lg">
<rect x="485.1" y="14.2" width="187.7" height="101.8" fill="#fff" stroke="#000" stroke-width="1.1"/>
<circle cx="510.9" cy="28.6" r="4.0" fill="none" stroke="#000" stroke-width="1.2"/>
<line x1="488.2" y1="53.1" x2="533.2" y2="53.1" stroke="#f00" stroke-width="2"/>
<line x1="488.2" y1="78.0" x2="533.2" y2="78.0" stroke="#00f" stroke-width="1.5"/>
<line x1="510.9" y1="96.4" x2="510.9" y2="110.8" stroke="#008000" stroke-width="1.3"/>
<text x="539.6" y="34.9" letter-spacing="1.0">Yobs</text>
<text x="539.6" y="59.5" letter-spacing="0.7">Ycalc</text>
<text x="539.6" y="84.7" letter-spacing="0.66">Yobs-Ycalc</text>
<text x="539.2" y="110.1" letter-spacing="0.38">Bragg position</text>
</g>
</svg>
</body>
</html>
